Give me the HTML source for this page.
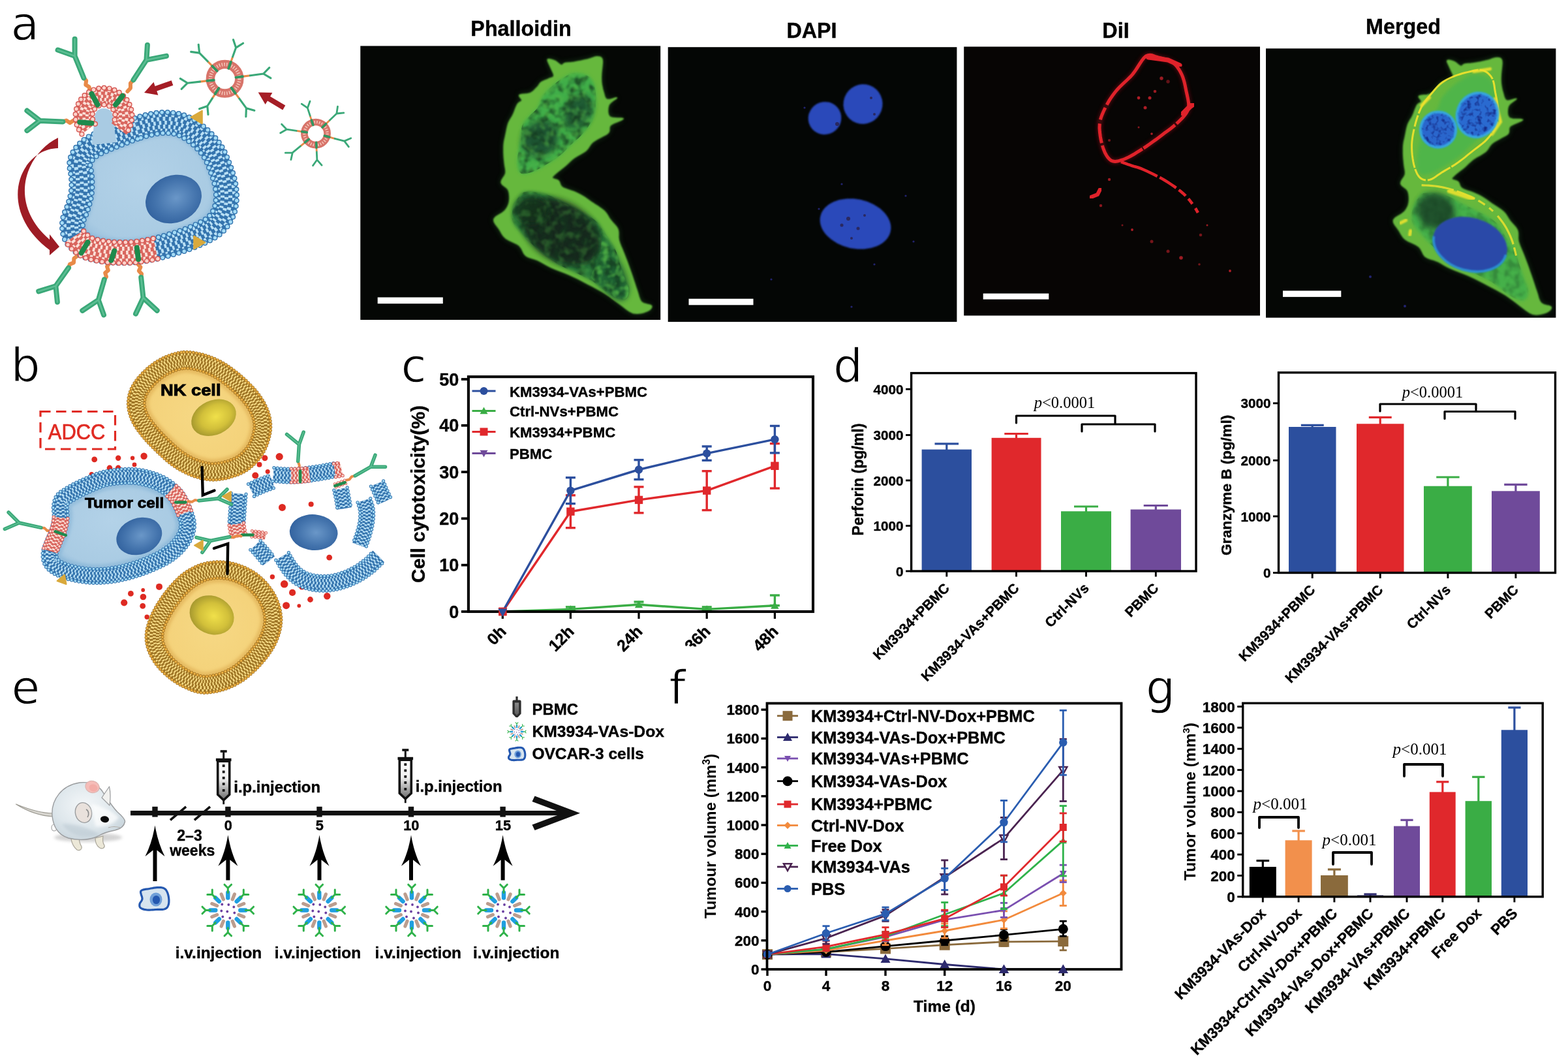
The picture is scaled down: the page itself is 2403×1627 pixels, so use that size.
<!DOCTYPE html>
<html lang="en"><head><meta charset="utf-8"><title>Figure</title>
<style>html,body{margin:0;padding:0;background:#fff}body{width:2403px;height:1627px;overflow:hidden}svg{display:block}text{white-space:pre}</style></head>
<body><svg xmlns="http://www.w3.org/2000/svg" width="2403" height="1627" viewBox="0 0 2403 1627">
<defs><clipPath id="clip36"><rect x="0" y="0" width="2403" height="1627"/></clipPath><filter id="b1" x="-10%" y="-10%" width="120%" height="120%"><feGaussianBlur stdDeviation="1.3"/></filter><filter id="b2" x="-20%" y="-20%" width="140%" height="140%"><feGaussianBlur stdDeviation="2.5"/></filter><filter id="b4" x="-30%" y="-30%" width="160%" height="160%"><feGaussianBlur stdDeviation="5"/></filter><filter id="b07" x="-10%" y="-10%" width="120%" height="120%"><feGaussianBlur stdDeviation="0.7"/></filter><filter id="nz" color-interpolation-filters="sRGB" x="0" y="0" width="100%" height="100%"><feTurbulence type="fractalNoise" baseFrequency="0.09" numOctaves="2" seed="7"/><feColorMatrix values="0 0 0 0 0.33  0 0 0 0 0.72  0 0 0 0 0.28  0 3.4 0 0 -1.55"/><feGaussianBlur stdDeviation="0.8"/></filter><filter id="nzd" color-interpolation-filters="sRGB" x="0" y="0" width="100%" height="100%"><feTurbulence type="fractalNoise" baseFrequency="0.085" numOctaves="2" seed="3"/><feColorMatrix values="0 0 0 0 0.08  0 0 0 0 0.22  0 0 0 0 0.12  3.2 0 0 0 -1.35"/><feGaussianBlur stdDeviation="0.8"/></filter><filter id="nzb" color-interpolation-filters="sRGB" x="0" y="0" width="100%" height="100%"><feTurbulence type="fractalNoise" baseFrequency="0.13" numOctaves="2" seed="11"/><feColorMatrix values="0 0 0 0 0.06  0 0 0 0 0.1  0 0 0 0 0.45  0 0 3 0 -1.45"/><feGaussianBlur stdDeviation="0.7"/></filter><clipPath id="cDU"><path d="M879.8 111.9l5.3 0 5.7 .8 5.4 1.5 4.5 1.9 3.4 2.4 2.6 3 2.1 3.5 1.7 3.7 1.3 4.1 .8 4.5 .5 4.7 .2 4.9 .1 5-.2 5.3-.5 5.3-.8 5.3-1.2 5.3-1.5 5.4-1.9 5.2-2.4 5.1-2.9 4.8-3.4 4.6-3.7 4.4-3.9 4.4-4.3 4.4-4.8 4.3-4.7 4.1-4.4 4-3.6 3.7-3.2 3.4-3.3 3.4-3.9 3.4-4.8 3.6-5.3 3.6-5.5 3.5-5.4 3.3-5.3 3.2-5.3 3.1-5.3 2.8-5 2.1-5 1.7-5.1 1.3-4.5 .5-3.6-.7-2.5-2.2-1.5-3.3-1-4.1-.6-4.4-.2-4.7 .3-5.3 .6-5.5 .7-5.4 .9-5.3 1.2-5.5 1.2-5.2 .9-5 .4-4.6 0-4.2 .1-4.1 .9-3.9 1.8-3.7 2.3-3.5 2.8-3.4 2.9-3.4 3.4-3.4 3.8-3.4 3.7-3.4 3.1-3.7 2.1-4 1.4-4.3 1.4-4.3 2.1-4.2 2.9-4 3.4-4 3.8-3.8 3.8-3.6 4-3.4 4.1-3.3 4.3-3.1 4.4-2.8 4.4-2.7 4.4-2.5 4.6-2.1z"/></clipPath><clipPath id="cDL"><path d="M807.1 293.8l6.4 0 7.9 .8 8.5 1.4 7.9 2 7.2 2.8 7 3.5 6.9 3.9 6.9 3.7 7.2 3.5 7.2 3.5 7.1 3.5 6.5 3.5 5.9 3.3 5.4 3.3 5 3.4 4.6 4 4 4.8 3.4 5.3 3.3 5.5 3.3 5.4 3.7 5.2 3.7 5.2 3.6 5.3 3 5.2 2.2 5.2 1.7 5.3 1.5 5.2 1.6 5.3 1.8 5.3 1.7 5.2 1.8 5.3 1.7 5.2 2.1 5.4 2.3 5.5 1.8 5.3 .8 4.7-.4 4.5-1.3 4.2-2.2 3.4-3.1 1.9-4.1 .1-5.1-1.4-5.7-2.5-6.1-3.2-6.5-4.4-7.1-5.6-7.2-5.8-7.2-5.1-7-4-6.9-3.4-7-3.3-7-3.3-7-3.3-7-3.3-7-3.4-7-4-7.1-4.8-7.3-5.3-7-5.5-6.5-5.4-5.8-5.2-5.4-5.3-5-5.2-4.8-5.2-4.9-5.2-4.8-5.3-4.2-5.2-2.9-5.3-1.4-5.3-.3-5.4 .6-5.3 1.1-5 1.7-5 2.5-4.9 2.8-4.5 2.8-3.7 2.2-2.8 2.1-2.1 2.7-1.4z"/></clipPath><clipPath id="cNU"><ellipse cx="825.5" cy="197" rx="27" ry="27"/><ellipse cx="885.5" cy="174.5" rx="31" ry="34" transform="rotate(20 885.5 174.5)"/></clipPath><clipPath id="cTail"><path d="M925 345L960 400L975 460L940 458L905 425L920 385Z"/></clipPath><clipPath id="cCell"><path d="M839.2 91l1.8-.5 2.9 .4 3.4 1 3.1 1.2 2.6 1.6 2.6 2.2 2.5 2 2.1 1.1 1.5-.2 1-1 1.2-1.2 1.9-1 2.7-.4 3.3-.3 3.8-.2 4.2-.5 4.9-.9 5.5-1 5.6-1.2 4.9-1.1 4.1-1.2 3.7-1.4 3.3-1.1 2.9-.5 2.7 .1 2.5 .4 1.9 1.3 1.3 2.4 .3 4.2-.5 5.6-.7 6-.5 5.1-.2 4-.1 3.4 .1 3.3 .2 3.3 .4 3.5 .7 3.6 .7 3.5 1 3.4 1 3.6 1 3.8 1.4 3.2 2.2 2 3.8 .1 5-1.4 4.5-1.4 2.1-.1-1.5 1.7-3.9 2.6-4.4 3.3-2.8 3.6-1.1 4.4-.3 5.2 .7 4.9 2.1 3.6 4.8 1.6 7 .3 6.3 .1 2.9 .8-2.4 1.9-5.9 2.5-6.6 2.7-4.7 2.7-1.7 2.8-.2 3 0 2.9-.9 2.5-2.1 2-2.8 1.7-3.1 1.6-3.2 1.7-3.4 1.9-3.7 2-3.6 2.1-3.3 2.4-2.5 2.9-2.1 3.2-2.2 3.4-2.9 3.1-4.1 2.8-4.7 2.8-4.9 2.7-4.5 2.8-3.8 3.1-3.5 3.2-3.3 3.2-3.4 3.1-3.7 3-3.8 2.9-3.6 2.8-2.9 2.5-2.4 2.1-1.9 1.8-1.2 1.6-.1 1.5 1.5 1.1 2.7 .8 3.1 .9 2.5 1.4 1.4 2.1 .9 2.7 1.1 2.7 2.2 2.4 3.8 2 4.8 1.7 5 1.6 4.6 1.7 3.8 1.7 3.5 1.6 3.3 1.8 3.4 1.9 3.4 2.2 3.3 2.3 3.4 2.5 3.8 2.7 4.4 2.9 5 3.1 4.7 3.3 4.1 3.3 3 3.4 2.3 3.5 2.1 3.6 2.4 3.5 2.9 3.4 3.2 3.4 3 3.5 2.1 3.7 .9 3.9 .1 4.2-.1 4.3 .5 4.3 1.4 4.4 1.7 4.6 2 4.6 1.9 4.6 1.8 4.5 1.7 4.5 1.8 4.6 1.7 4.6 1.7 4.8 1.7 4.8 1.8 5 1.7 5 1.7 5.2 1.8 5.3 1.7 5.3 1.8 5.1 1.6 5 1.4 5.1 1.7 4.5 2.3 3.6 3.8 2.2 4.8 1.2 4.3 .9 2.5 1.3 .2 2-1.4 2.4-2.5 2.2-3.3 1.8-4.3 1.5-5.3 1.3-5.8 .6-5.6-.6-5.2-2.3-5.2-3.6-5.3-4.1-5.2-4-5.1-3.8-5-3.8-5.2-3.9-5.7-3.9-6.5-3.9-7.1-3.8-7.2-3.9-7.2-3.7-7-3.7-6.9-3.6-7-3.4-7-3.3-7.2-3-7.2-2.8-7.1-2.7-6.5-2.7-5.8-2.9-5.3-3-4.9-2.8-4.9-2.5-4.9-1.8-4.9-1.4-4.5-1.6-3.9-2.2-2.8-3.4-1.9-4-2.1-4.2-3-3.8-4.7-3-5.8-2.7-5.7-2.6-4.7-2.9-3.3-3.2-2.4-3.5-2-3.6-2.1-3.6-2.8-3.8-3.1-4-2.2-3.9-.3-3.7 2.6-3.3 4.8-3.1 5.2-3 4.1-3.2 2.6-3.3 2-3.4 1.5-3.5 .9-3.8 .5-4.4-.1-4.8-.6-4.8-1.2-4.1-2.5-3.2-3.6-2.7-3.3-2.5-1.7-2.9 .7-3.3 2.1-3.5 2.5-3.6 1.6-3.6 .2-3.5-.4-3.5-.7-3.5-.5-3.5-.4-3.4-.3-3.4-.4-3.5-.2-3.7-.2-4 0-4.3 0-4.4 .2-4 .5-3.6 .6-3.3 .8-3.4 .8-3.7 .9-4.4 .9-4.8 1.1-4.7 1.3-4.3 1.6-3.4 1.7-3 1.9-2.9 1.8-3.3 1.8-4.1 1.7-4.7 1.8-4.4 1.7-3.5 2-2.1 2.2-1.2 1.8-1 1-1.3-.8-2-1.9-2.4-1.7-2.2 .2-1.8 2.9-.9 4.5-.4 5.1-.4 4.3-1.1 3.3-2 3-2.6 2.6-2.8 2.3-2.4 1.6-2 1.1-1.8 1.1-1.6 1.8-1.6 2.8-1.5 3.4-1.5 3.4-1.3 2.9-1.3 2.4-.9 2.2-.7 1.7-.9 .7-1.7-.5-2.9-1.6-3.6-1.9-3.9-1.6-3.5-1.5-3.3-1.6-3.3-1.2-2.8z"/></clipPath><radialGradient id="gnuc" cx="0.5" cy="0.5" r="0.5"><stop offset="0" stop-color="#2a55d8"/><stop offset="0.8" stop-color="#2a52cc"/><stop offset="1" stop-color="#1c3a9a"/></radialGradient><radialGradient id="gcell" cx="0.45" cy="0.45" r="0.6"><stop offset="0" stop-color="#b3d2e8"/><stop offset="0.75" stop-color="#a9cbe3"/><stop offset="1" stop-color="#8fb9d9"/></radialGradient><radialGradient id="gnucl" cx="0.55" cy="0.5" r="0.6"><stop offset="0" stop-color="#6a97c8"/><stop offset="0.6" stop-color="#4474ad"/><stop offset="1" stop-color="#2f5f9c"/></radialGradient><radialGradient id="gnk" cx="0.5" cy="0.5" r="0.55"><stop offset="0" stop-color="#f6d884"/><stop offset="0.8" stop-color="#f4d27a"/><stop offset="1" stop-color="#e6b95a"/></radialGradient><radialGradient id="gnkn" cx="0.55" cy="0.5" r="0.6"><stop offset="0" stop-color="#f0e04a"/><stop offset="0.55" stop-color="#d2c03a"/><stop offset="1" stop-color="#9c8f2c"/></radialGradient><linearGradient id="gsyr" x1="0" y1="0" x2="0" y2="1"><stop offset="0" stop-color="#fff"/><stop offset="0.45" stop-color="#f0f0f0"/><stop offset="1" stop-color="#6a6a6a"/></linearGradient><radialGradient id="gmouse" cx="0.45" cy="0.4" r="0.7"><stop offset="0" stop-color="#f4f7f9"/><stop offset="0.6" stop-color="#dde6eb"/><stop offset="1" stop-color="#c3d0d8"/></radialGradient><linearGradient id="gsyr2" x1="0" y1="0" x2="0" y2="1"><stop offset="0" stop-color="#8a8a8a"/><stop offset="1" stop-color="#5a5a5a"/></linearGradient><filter id="ib" x="-5%" y="-5%" width="110%" height="110%"><feGaussianBlur stdDeviation="0.6"/></filter><filter id="ib2" x="-20%" y="-20%" width="140%" height="140%"><feGaussianBlur stdDeviation="2.2"/></filter></defs>
<rect width="2403" height="1627" fill="#fff"/>
<path d="M770.3 937L874.4 933.4 979 926.3 1083.2 933.4 1187.4 927.7" fill="none" stroke="#3aad45" stroke-width="3.4" stroke-linejoin="round"/>
<line x1="874.4" y1="929.9" x2="874.4" y2="933.4" stroke="#3aad45" stroke-width="3.4" /><line x1="866.9" y1="929.9" x2="881.9" y2="929.9" stroke="#3aad45" stroke-width="3.4" /><line x1="866.9" y1="933.4" x2="881.9" y2="933.4" stroke="#3aad45" stroke-width="3.4" />
<line x1="979" y1="922" x2="979" y2="926.3" stroke="#3aad45" stroke-width="3.4" /><line x1="971.5" y1="922" x2="986.5" y2="922" stroke="#3aad45" stroke-width="3.4" /><line x1="971.5" y1="926.3" x2="986.5" y2="926.3" stroke="#3aad45" stroke-width="3.4" />
<line x1="1083.2" y1="929.9" x2="1083.2" y2="933.4" stroke="#3aad45" stroke-width="3.4" /><line x1="1075.7" y1="929.9" x2="1090.7" y2="929.9" stroke="#3aad45" stroke-width="3.4" /><line x1="1075.7" y1="933.4" x2="1090.7" y2="933.4" stroke="#3aad45" stroke-width="3.4" />
<line x1="1187.4" y1="912" x2="1187.4" y2="927.7" stroke="#3aad45" stroke-width="3.4" /><line x1="1179.9" y1="912" x2="1194.9" y2="912" stroke="#3aad45" stroke-width="3.4" /><line x1="1179.9" y1="927.7" x2="1194.9" y2="927.7" stroke="#3aad45" stroke-width="3.4" />
<path d="M874.4 927.2L880.6 938.4L868.2 938.4Z" fill="#3aad45" />
<path d="M979 920.1L985.2 931.3L972.8 931.3Z" fill="#3aad45" />
<path d="M1083.2 927.2L1089.4 938.4L1077 938.4Z" fill="#3aad45" />
<path d="M1187.4 921.5L1193.6 932.7L1181.2 932.7Z" fill="#3aad45" />
<path d="M770.3 937L874.4 783.7 979 765.9 1083.2 751.6 1187.4 713.8" fill="none" stroke="#e0282c" stroke-width="3.4" stroke-linejoin="round"/>
<line x1="874.4" y1="758.8" x2="874.4" y2="808.7" stroke="#e0282c" stroke-width="3.4" /><line x1="866.9" y1="758.8" x2="881.9" y2="758.8" stroke="#e0282c" stroke-width="3.4" /><line x1="866.9" y1="808.7" x2="881.9" y2="808.7" stroke="#e0282c" stroke-width="3.4" />
<line x1="979" y1="745.9" x2="979" y2="785.8" stroke="#e0282c" stroke-width="3.4" /><line x1="971.5" y1="745.9" x2="986.5" y2="745.9" stroke="#e0282c" stroke-width="3.4" /><line x1="971.5" y1="785.8" x2="986.5" y2="785.8" stroke="#e0282c" stroke-width="3.4" />
<line x1="1083.2" y1="721.7" x2="1083.2" y2="781.6" stroke="#e0282c" stroke-width="3.4" /><line x1="1075.7" y1="721.7" x2="1090.7" y2="721.7" stroke="#e0282c" stroke-width="3.4" /><line x1="1075.7" y1="781.6" x2="1090.7" y2="781.6" stroke="#e0282c" stroke-width="3.4" />
<line x1="1187.4" y1="679.6" x2="1187.4" y2="748.1" stroke="#e0282c" stroke-width="3.4" /><line x1="1179.9" y1="679.6" x2="1194.9" y2="679.6" stroke="#e0282c" stroke-width="3.4" /><line x1="1179.9" y1="748.1" x2="1194.9" y2="748.1" stroke="#e0282c" stroke-width="3.4" />
<rect x="764.1" y="930.8" width="12.4" height="12.4" fill="#e0282c" />
<rect x="868.2" y="777.5" width="12.4" height="12.4" fill="#e0282c" />
<rect x="972.8" y="759.7" width="12.4" height="12.4" fill="#e0282c" />
<rect x="1077" y="745.4" width="12.4" height="12.4" fill="#e0282c" />
<rect x="1181.2" y="707.6" width="12.4" height="12.4" fill="#e0282c" />
<path d="M770.3 937L874.4 751.6 979 719.5 1083.2 694.6 1187.4 673.2" fill="none" stroke="#2c4f9e" stroke-width="3.4" stroke-linejoin="round"/>
<line x1="874.4" y1="731.7" x2="874.4" y2="771.6" stroke="#2c4f9e" stroke-width="3.4" /><line x1="866.9" y1="731.7" x2="881.9" y2="731.7" stroke="#2c4f9e" stroke-width="3.4" /><line x1="866.9" y1="771.6" x2="881.9" y2="771.6" stroke="#2c4f9e" stroke-width="3.4" />
<line x1="979" y1="704.6" x2="979" y2="734.5" stroke="#2c4f9e" stroke-width="3.4" /><line x1="971.5" y1="704.6" x2="986.5" y2="704.6" stroke="#2c4f9e" stroke-width="3.4" /><line x1="971.5" y1="734.5" x2="986.5" y2="734.5" stroke="#2c4f9e" stroke-width="3.4" />
<line x1="1083.2" y1="683.9" x2="1083.2" y2="705.3" stroke="#2c4f9e" stroke-width="3.4" /><line x1="1075.7" y1="683.9" x2="1090.7" y2="683.9" stroke="#2c4f9e" stroke-width="3.4" /><line x1="1075.7" y1="705.3" x2="1090.7" y2="705.3" stroke="#2c4f9e" stroke-width="3.4" />
<line x1="1187.4" y1="652.5" x2="1187.4" y2="693.9" stroke="#2c4f9e" stroke-width="3.4" /><line x1="1179.9" y1="652.5" x2="1194.9" y2="652.5" stroke="#2c4f9e" stroke-width="3.4" /><line x1="1179.9" y1="693.9" x2="1194.9" y2="693.9" stroke="#2c4f9e" stroke-width="3.4" />
<circle cx="770.3" cy="937" r="6.2" fill="#2c4f9e" />
<circle cx="874.4" cy="751.6" r="6.2" fill="#2c4f9e" />
<circle cx="979" cy="719.5" r="6.2" fill="#2c4f9e" />
<circle cx="1083.2" cy="694.6" r="6.2" fill="#2c4f9e" />
<circle cx="1187.4" cy="673.2" r="6.2" fill="#2c4f9e" />
<rect x="717.9" y="577.2" width="528.1" height="359.8" fill="none" stroke="#000" stroke-width="4.1"/>
<line x1="706.9" y1="937" x2="717.9" y2="937" stroke="#000" stroke-width="3.8" />
<text transform="translate(703.4,946.6) scale(.5)" font-family="Liberation Sans, sans-serif" font-size="54" font-weight="bold" text-anchor="end" stroke="#000" stroke-width="0.8">0</text>
<line x1="706.9" y1="865.7" x2="717.9" y2="865.7" stroke="#000" stroke-width="3.8" />
<text transform="translate(703.4,875.3) scale(.5)" font-family="Liberation Sans, sans-serif" font-size="54" font-weight="bold" text-anchor="end" stroke="#000" stroke-width="0.8">10</text>
<line x1="706.9" y1="794.4" x2="717.9" y2="794.4" stroke="#000" stroke-width="3.8" />
<text transform="translate(703.4,804) scale(.5)" font-family="Liberation Sans, sans-serif" font-size="54" font-weight="bold" text-anchor="end" stroke="#000" stroke-width="0.8">20</text>
<line x1="706.9" y1="723.1" x2="717.9" y2="723.1" stroke="#000" stroke-width="3.8" />
<text transform="translate(703.4,732.7) scale(.5)" font-family="Liberation Sans, sans-serif" font-size="54" font-weight="bold" text-anchor="end" stroke="#000" stroke-width="0.8">30</text>
<line x1="706.9" y1="651.8" x2="717.9" y2="651.8" stroke="#000" stroke-width="3.8" />
<text transform="translate(703.4,661.4) scale(.5)" font-family="Liberation Sans, sans-serif" font-size="54" font-weight="bold" text-anchor="end" stroke="#000" stroke-width="0.8">40</text>
<line x1="706.9" y1="581" x2="717.9" y2="581" stroke="#000" stroke-width="3.8" />
<text transform="translate(703.4,590.6) scale(.5)" font-family="Liberation Sans, sans-serif" font-size="54" font-weight="bold" text-anchor="end" stroke="#000" stroke-width="0.8">50</text>
<line x1="770.3" y1="937" x2="770.3" y2="948" stroke="#000" stroke-width="3.2" />
<line x1="874.4" y1="937" x2="874.4" y2="948" stroke="#000" stroke-width="3.2" />
<line x1="979" y1="937" x2="979" y2="948" stroke="#000" stroke-width="3.2" />
<line x1="1083.2" y1="937" x2="1083.2" y2="948" stroke="#000" stroke-width="3.2" />
<line x1="1187.4" y1="937" x2="1187.4" y2="948" stroke="#000" stroke-width="3.2" />
<rect x="764.1" y="930.8" width="12.4" height="12.4" fill="#e0282c" />
<path d="M770.3 945L777.3 932.4L763.3 932.4Z" fill="#2c4f9e" />
<text transform="translate(777.3,969) rotate(-45) scale(.5)" font-family="Liberation Sans, sans-serif" font-size="50" font-weight="bold" text-anchor="end" stroke="#000" stroke-width="0.8">0h</text>
<text transform="translate(881.4,969) rotate(-45) scale(.5)" font-family="Liberation Sans, sans-serif" font-size="50" font-weight="bold" text-anchor="end" stroke="#000" stroke-width="0.8">12h</text>
<text transform="translate(986,969) rotate(-45) scale(.5)" font-family="Liberation Sans, sans-serif" font-size="50" font-weight="bold" text-anchor="end" stroke="#000" stroke-width="0.8">24h</text>
<g clip-path="url(#clip36)"><text transform="translate(1090.2,969) rotate(-45) scale(.5)" font-family="Liberation Sans, sans-serif" font-size="50" font-weight="bold" text-anchor="end" stroke="#000" stroke-width="0.8">36h</text></g>
<text transform="translate(1194.4,969) rotate(-45) scale(.5)" font-family="Liberation Sans, sans-serif" font-size="50" font-weight="bold" text-anchor="end" stroke="#000" stroke-width="0.8">48h</text>
<rect x="1040" y="990.5" width="40" height="24" fill="#fff" />
<line x1="723.5" y1="599" x2="759.5" y2="599" stroke="#2c4f9e" stroke-width="3.2" />
<circle cx="741.5" cy="599" r="6" fill="#2c4f9e" />
<text transform="translate(781,607.5) scale(.5)" font-family="Liberation Sans, sans-serif" font-size="44.4" font-weight="bold" stroke="#000" stroke-width="0.8">KM3934-VAs+PBMC</text>
<line x1="723.5" y1="629.5" x2="759.5" y2="629.5" stroke="#3aad45" stroke-width="3.2" />
<path d="M741.5 623.5L747.5 634.3L735.5 634.3Z" fill="#3aad45" />
<text transform="translate(781,638) scale(.5)" font-family="Liberation Sans, sans-serif" font-size="44.4" font-weight="bold" stroke="#000" stroke-width="0.8">Ctrl-NVs+PBMC</text>
<line x1="723.5" y1="661.5" x2="759.5" y2="661.5" stroke="#e0282c" stroke-width="3.2" />
<rect x="735.5" y="655.5" width="12" height="12" fill="#e0282c" />
<text transform="translate(781,670) scale(.5)" font-family="Liberation Sans, sans-serif" font-size="44.4" font-weight="bold" stroke="#000" stroke-width="0.8">KM3934+PBMC</text>
<line x1="723.5" y1="694.5" x2="759.5" y2="694.5" stroke="#6f4a9a" stroke-width="3.2" />
<path d="M741.5 700.5L747.5 689.7L735.5 689.7Z" fill="#6f4a9a" />
<text transform="translate(781,703) scale(.5)" font-family="Liberation Sans, sans-serif" font-size="44.4" font-weight="bold" stroke="#000" stroke-width="0.8">PBMC</text>
<text transform="translate(651,757) rotate(-90) scale(.5)" font-family="Liberation Sans, sans-serif" font-size="59" font-weight="bold" text-anchor="middle" stroke="#000" stroke-width="0.8">Cell cytotoxicity(%)</text>
<line x1="1450.8" y1="679.8" x2="1450.8" y2="690.6" stroke="#2c4f9e" stroke-width="3.2" />
<line x1="1432.5" y1="679.8" x2="1469.1" y2="679.8" stroke="#2c4f9e" stroke-width="3.2" />
<rect x="1412.6" y="688.6" width="76.4" height="186.4" fill="#2c4f9e" />
<line x1="1557.5" y1="664.5" x2="1557.5" y2="672.8" stroke="#e0282c" stroke-width="3.2" />
<line x1="1539.3" y1="664.5" x2="1575.8" y2="664.5" stroke="#e0282c" stroke-width="3.2" />
<rect x="1519.6" y="670.8" width="75.9" height="204.2" fill="#e0282c" />
<line x1="1664.5" y1="776" x2="1664.5" y2="785.3" stroke="#3aad45" stroke-width="3.2" />
<line x1="1646" y1="776" x2="1683" y2="776" stroke="#3aad45" stroke-width="3.2" />
<rect x="1626" y="783.3" width="77" height="91.7" fill="#3aad45" />
<line x1="1771.3" y1="774.5" x2="1771.3" y2="782.5" stroke="#6f4a9a" stroke-width="3.2" />
<line x1="1752.7" y1="774.5" x2="1789.9" y2="774.5" stroke="#6f4a9a" stroke-width="3.2" />
<rect x="1732.6" y="780.5" width="77.4" height="94.5" fill="#6f4a9a" />
<rect x="1396.6" y="571.6" width="436.4" height="303.4" fill="none" stroke="#000" stroke-width="3.4"/>
<line x1="1388.1" y1="596.2" x2="1396.6" y2="596.2" stroke="#000" stroke-width="2.9" />
<text transform="translate(1384.6,603.7) scale(.5)" font-family="Liberation Sans, sans-serif" font-size="41.4" font-weight="bold" text-anchor="end" stroke="#000" stroke-width="0.8">4000</text>
<line x1="1388.1" y1="666.5" x2="1396.6" y2="666.5" stroke="#000" stroke-width="2.9" />
<text transform="translate(1384.6,674) scale(.5)" font-family="Liberation Sans, sans-serif" font-size="41.4" font-weight="bold" text-anchor="end" stroke="#000" stroke-width="0.8">3000</text>
<line x1="1388.1" y1="736" x2="1396.6" y2="736" stroke="#000" stroke-width="2.9" />
<text transform="translate(1384.6,743.5) scale(.5)" font-family="Liberation Sans, sans-serif" font-size="41.4" font-weight="bold" text-anchor="end" stroke="#000" stroke-width="0.8">2000</text>
<line x1="1388.1" y1="805.5" x2="1396.6" y2="805.5" stroke="#000" stroke-width="2.9" />
<text transform="translate(1384.6,813) scale(.5)" font-family="Liberation Sans, sans-serif" font-size="41.4" font-weight="bold" text-anchor="end" stroke="#000" stroke-width="0.8">1000</text>
<line x1="1388.1" y1="875" x2="1396.6" y2="875" stroke="#000" stroke-width="2.9" />
<text transform="translate(1384.6,882.5) scale(.5)" font-family="Liberation Sans, sans-serif" font-size="41.4" font-weight="bold" text-anchor="end" stroke="#000" stroke-width="0.8">0</text>
<line x1="1450.8" y1="875" x2="1450.8" y2="883.5" stroke="#000" stroke-width="2.9" />
<text transform="translate(1456.3,902.5) rotate(-45) scale(.5)" font-family="Liberation Sans, sans-serif" font-size="42.4" font-weight="bold" text-anchor="end" stroke="#000" stroke-width="0.8">KM3934+PBMC</text>
<line x1="1557.5" y1="875" x2="1557.5" y2="883.5" stroke="#000" stroke-width="2.9" />
<text transform="translate(1563,902.5) rotate(-45) scale(.5)" font-family="Liberation Sans, sans-serif" font-size="42.4" font-weight="bold" text-anchor="end" stroke="#000" stroke-width="0.8">KM3934-VAs+PBMC</text>
<line x1="1664.5" y1="875" x2="1664.5" y2="883.5" stroke="#000" stroke-width="2.9" />
<text transform="translate(1670,902.5) rotate(-45) scale(.5)" font-family="Liberation Sans, sans-serif" font-size="42.4" font-weight="bold" text-anchor="end" stroke="#000" stroke-width="0.8">Ctrl-NVs</text>
<line x1="1771.3" y1="875" x2="1771.3" y2="883.5" stroke="#000" stroke-width="2.9" />
<text transform="translate(1776.8,902.5) rotate(-45) scale(.5)" font-family="Liberation Sans, sans-serif" font-size="42.4" font-weight="bold" text-anchor="end" stroke="#000" stroke-width="0.8">PBMC</text>
<text transform="translate(1322.5,734.5) rotate(-90) scale(.5)" font-family="Liberation Sans, sans-serif" font-size="46.2" font-weight="bold" text-anchor="middle" stroke="#000" stroke-width="0.8">Perforin (pg/ml)</text>
<path d="M1557.5 648V637H1709V650M1658 661V650H1770V661" fill="none" stroke="#000" stroke-width="3.2" stroke-linejoin="round" stroke-linecap="round"/>
<text transform="translate(1631.5,624.5) scale(.5)" font-family="Liberation Serif, serif" font-size="49" text-anchor="middle"><tspan font-style="italic">p</tspan>&lt;0.0001</text>
<line x1="2011.2" y1="651.4" x2="2011.2" y2="656" stroke="#2c4f9e" stroke-width="3.2" />
<line x1="1993.8" y1="651.4" x2="2028.7" y2="651.4" stroke="#2c4f9e" stroke-width="3.2" />
<rect x="1975" y="654" width="72.5" height="223.5" fill="#2c4f9e" />
<line x1="2115.2" y1="639.4" x2="2115.2" y2="651.3" stroke="#e0282c" stroke-width="3.2" />
<line x1="2097.8" y1="639.4" x2="2132.7" y2="639.4" stroke="#e0282c" stroke-width="3.2" />
<rect x="2079" y="649.3" width="72.5" height="228.2" fill="#e0282c" />
<line x1="2218.9" y1="731" x2="2218.9" y2="746.7" stroke="#3aad45" stroke-width="3.2" />
<line x1="2201.2" y1="731" x2="2236.6" y2="731" stroke="#3aad45" stroke-width="3.2" />
<rect x="2182" y="744.7" width="73.8" height="132.8" fill="#3aad45" />
<line x1="2322.9" y1="742.3" x2="2322.9" y2="754.3" stroke="#6f4a9a" stroke-width="3.2" />
<line x1="2305.2" y1="742.3" x2="2340.6" y2="742.3" stroke="#6f4a9a" stroke-width="3.2" />
<rect x="2286" y="752.3" width="73.8" height="125.2" fill="#6f4a9a" />
<rect x="1959.5" y="570.8" width="424" height="306.7" fill="none" stroke="#000" stroke-width="3.4"/>
<line x1="1951" y1="617.8" x2="1959.5" y2="617.8" stroke="#000" stroke-width="2.9" />
<text transform="translate(1947.5,625.3) scale(.5)" font-family="Liberation Sans, sans-serif" font-size="41.4" font-weight="bold" text-anchor="end" stroke="#000" stroke-width="0.8">3000</text>
<line x1="1951" y1="705.3" x2="1959.5" y2="705.3" stroke="#000" stroke-width="2.9" />
<text transform="translate(1947.5,712.8) scale(.5)" font-family="Liberation Sans, sans-serif" font-size="41.4" font-weight="bold" text-anchor="end" stroke="#000" stroke-width="0.8">2000</text>
<line x1="1951" y1="791" x2="1959.5" y2="791" stroke="#000" stroke-width="2.9" />
<text transform="translate(1947.5,798.5) scale(.5)" font-family="Liberation Sans, sans-serif" font-size="41.4" font-weight="bold" text-anchor="end" stroke="#000" stroke-width="0.8">1000</text>
<line x1="1951" y1="877.5" x2="1959.5" y2="877.5" stroke="#000" stroke-width="2.9" />
<text transform="translate(1947.5,885) scale(.5)" font-family="Liberation Sans, sans-serif" font-size="41.4" font-weight="bold" text-anchor="end" stroke="#000" stroke-width="0.8">0</text>
<line x1="2011.2" y1="877.5" x2="2011.2" y2="886" stroke="#000" stroke-width="2.9" />
<text transform="translate(2016.8,905) rotate(-45) scale(.5)" font-family="Liberation Sans, sans-serif" font-size="42.4" font-weight="bold" text-anchor="end" stroke="#000" stroke-width="0.8">KM3934+PBMC</text>
<line x1="2115.2" y1="877.5" x2="2115.2" y2="886" stroke="#000" stroke-width="2.9" />
<text transform="translate(2120.8,905) rotate(-45) scale(.5)" font-family="Liberation Sans, sans-serif" font-size="42.4" font-weight="bold" text-anchor="end" stroke="#000" stroke-width="0.8">KM3934-VAs+PBMC</text>
<line x1="2218.9" y1="877.5" x2="2218.9" y2="886" stroke="#000" stroke-width="2.9" />
<text transform="translate(2224.4,905) rotate(-45) scale(.5)" font-family="Liberation Sans, sans-serif" font-size="42.4" font-weight="bold" text-anchor="end" stroke="#000" stroke-width="0.8">Ctrl-NVs</text>
<line x1="2322.9" y1="877.5" x2="2322.9" y2="886" stroke="#000" stroke-width="2.9" />
<text transform="translate(2328.4,905) rotate(-45) scale(.5)" font-family="Liberation Sans, sans-serif" font-size="42.4" font-weight="bold" text-anchor="end" stroke="#000" stroke-width="0.8">PBMC</text>
<text transform="translate(1887.2,743.3) rotate(-90) scale(.5)" font-family="Liberation Sans, sans-serif" font-size="45.6" font-weight="bold" text-anchor="middle" stroke="#000" stroke-width="0.8">Granzyme B (pg/ml)</text>
<path d="M2115 630V619H2262V630.5M2214 641.5V630.5H2322V641.5" fill="none" stroke="#000" stroke-width="3.2" stroke-linejoin="round" stroke-linecap="round"/>
<text transform="translate(2195.5,609) scale(.5)" font-family="Liberation Serif, serif" font-size="49" text-anchor="middle"><tspan font-style="italic">p</tspan>&lt;0.0001</text>
<path d="M1176 1462.2l90-3.7 91-5.1 90.7-5.7 90.8-4.9 90.8-.7" fill="none" stroke="#8a6a3c" stroke-width="2.8" stroke-linejoin="round"/>
<line x1="1447.7" y1="1443.2" x2="1447.7" y2="1452.1" stroke="#8a6a3c" stroke-width="2.8" /><line x1="1442.2" y1="1443.2" x2="1453.2" y2="1443.2" stroke="#8a6a3c" stroke-width="2.8" /><line x1="1442.2" y1="1452.1" x2="1453.2" y2="1452.1" stroke="#8a6a3c" stroke-width="2.8" />
<line x1="1538.5" y1="1436.2" x2="1538.5" y2="1449.4" stroke="#8a6a3c" stroke-width="2.8" /><line x1="1533" y1="1436.2" x2="1544" y2="1436.2" stroke="#8a6a3c" stroke-width="2.8" /><line x1="1533" y1="1449.4" x2="1544" y2="1449.4" stroke="#8a6a3c" stroke-width="2.8" />
<line x1="1629.3" y1="1428" x2="1629.3" y2="1455.8" stroke="#8a6a3c" stroke-width="2.8" /><line x1="1623.8" y1="1428" x2="1634.8" y2="1428" stroke="#8a6a3c" stroke-width="2.8" /><line x1="1623.8" y1="1455.8" x2="1634.8" y2="1455.8" stroke="#8a6a3c" stroke-width="2.8" />
<rect x="1168" y="1454.2" width="16" height="16" fill="#8a6a3c" />
<rect x="1258" y="1450.5" width="16" height="16" fill="#8a6a3c" />
<rect x="1349" y="1445.4" width="16" height="16" fill="#8a6a3c" />
<rect x="1439.7" y="1439.7" width="16" height="16" fill="#8a6a3c" />
<rect x="1530.5" y="1434.8" width="16" height="16" fill="#8a6a3c" />
<rect x="1621.3" y="1434.1" width="16" height="16" fill="#8a6a3c" />
<path d="M1176 1462.2l90-.6 91 7.3 90.7 8.6 90.8 7.5 90.8 0" fill="none" stroke="#2d2a6e" stroke-width="2.8" stroke-linejoin="round"/>
<path d="M1176 1454.7L1183.5 1468.2L1168.5 1468.2Z" fill="#2d2a6e" />
<path d="M1266 1454.1L1273.5 1467.6L1258.5 1467.6Z" fill="#2d2a6e" />
<path d="M1357 1461.4L1364.5 1474.9L1349.5 1474.9Z" fill="#2d2a6e" />
<path d="M1447.7 1470L1455.2 1483.5L1440.2 1483.5Z" fill="#2d2a6e" />
<path d="M1538.5 1477.5L1546 1491L1531 1491Z" fill="#2d2a6e" />
<path d="M1629.3 1477.5L1636.8 1491L1621.8 1491Z" fill="#2d2a6e" />
<path d="M1176 1462.2l90-3.7 91-8.9 90.7-8.6 90.8-8.6 90.8-9.1" fill="none" stroke="#000" stroke-width="2.8" stroke-linejoin="round"/>
<line x1="1357" y1="1445.2" x2="1357" y2="1454.1" stroke="#000" stroke-width="2.8" /><line x1="1351.5" y1="1445.2" x2="1362.5" y2="1445.2" stroke="#000" stroke-width="2.8" /><line x1="1351.5" y1="1454.1" x2="1362.5" y2="1454.1" stroke="#000" stroke-width="2.8" />
<line x1="1447.7" y1="1434.4" x2="1447.7" y2="1447.7" stroke="#000" stroke-width="2.8" /><line x1="1442.2" y1="1434.4" x2="1453.2" y2="1434.4" stroke="#000" stroke-width="2.8" /><line x1="1442.2" y1="1447.7" x2="1453.2" y2="1447.7" stroke="#000" stroke-width="2.8" />
<line x1="1538.5" y1="1423.6" x2="1538.5" y2="1441.2" stroke="#000" stroke-width="2.8" /><line x1="1533" y1="1423.6" x2="1544" y2="1423.6" stroke="#000" stroke-width="2.8" /><line x1="1533" y1="1441.2" x2="1544" y2="1441.2" stroke="#000" stroke-width="2.8" />
<line x1="1629.3" y1="1411.2" x2="1629.3" y2="1434.2" stroke="#000" stroke-width="2.8" /><line x1="1623.8" y1="1411.2" x2="1634.8" y2="1411.2" stroke="#000" stroke-width="2.8" /><line x1="1623.8" y1="1434.2" x2="1634.8" y2="1434.2" stroke="#000" stroke-width="2.8" />
<circle cx="1176" cy="1462.2" r="7.5" fill="#000" />
<circle cx="1266" cy="1458.5" r="7.5" fill="#000" />
<circle cx="1357" cy="1449.6" r="7.5" fill="#000" />
<circle cx="1447.7" cy="1441" r="7.5" fill="#000" />
<circle cx="1538.5" cy="1432.4" r="7.5" fill="#000" />
<circle cx="1629.3" cy="1423.3" r="7.5" fill="#000" />
<path d="M1176 1462.2l90-5.9 91-15.3 90.7-15 90.8-16.8 90.8-40.9" fill="none" stroke="#f28a3c" stroke-width="2.8" stroke-linejoin="round"/>
<line x1="1357" y1="1434.4" x2="1357" y2="1447.7" stroke="#f28a3c" stroke-width="2.8" /><line x1="1351.5" y1="1434.4" x2="1362.5" y2="1434.4" stroke="#f28a3c" stroke-width="2.8" /><line x1="1351.5" y1="1447.7" x2="1362.5" y2="1447.7" stroke="#f28a3c" stroke-width="2.8" />
<line x1="1447.7" y1="1414.9" x2="1447.7" y2="1437" stroke="#f28a3c" stroke-width="2.8" /><line x1="1442.2" y1="1414.9" x2="1453.2" y2="1414.9" stroke="#f28a3c" stroke-width="2.8" /><line x1="1442.2" y1="1437" x2="1453.2" y2="1437" stroke="#f28a3c" stroke-width="2.8" />
<line x1="1538.5" y1="1395.9" x2="1538.5" y2="1422.5" stroke="#f28a3c" stroke-width="2.8" /><line x1="1533" y1="1395.9" x2="1544" y2="1395.9" stroke="#f28a3c" stroke-width="2.8" /><line x1="1533" y1="1422.5" x2="1544" y2="1422.5" stroke="#f28a3c" stroke-width="2.8" />
<line x1="1629.3" y1="1348.9" x2="1629.3" y2="1387.5" stroke="#f28a3c" stroke-width="2.8" /><line x1="1623.8" y1="1348.9" x2="1634.8" y2="1348.9" stroke="#f28a3c" stroke-width="2.8" /><line x1="1623.8" y1="1387.5" x2="1634.8" y2="1387.5" stroke="#f28a3c" stroke-width="2.8" />
<path d="M1176 1456.7L1181.5 1462.2L1176 1467.7L1170.5 1462.2Z" fill="#f28a3c" />
<path d="M1266 1450.8L1271.5 1456.3L1266 1461.8L1260.5 1456.3Z" fill="#f28a3c" />
<path d="M1357 1435.5L1362.5 1441L1357 1446.5L1351.5 1441Z" fill="#f28a3c" />
<path d="M1447.7 1420.5L1453.2 1426L1447.7 1431.5L1442.2 1426Z" fill="#f28a3c" />
<path d="M1538.5 1403.7L1544 1409.2L1538.5 1414.7L1533 1409.2Z" fill="#f28a3c" />
<path d="M1629.3 1362.8L1634.8 1368.3L1629.3 1373.8L1623.8 1368.3Z" fill="#f28a3c" />
<path d="M1176 1462.2l90-8.1 91-18.8 90.7-26.1 90.8-14.8 90.8-56.1" fill="none" stroke="#7a4fb0" stroke-width="2.8" stroke-linejoin="round"/>
<line x1="1357" y1="1428.6" x2="1357" y2="1441.9" stroke="#7a4fb0" stroke-width="2.8" /><line x1="1351.5" y1="1428.6" x2="1362.5" y2="1428.6" stroke="#7a4fb0" stroke-width="2.8" /><line x1="1351.5" y1="1441.9" x2="1362.5" y2="1441.9" stroke="#7a4fb0" stroke-width="2.8" />
<line x1="1447.7" y1="1395.9" x2="1447.7" y2="1420.2" stroke="#7a4fb0" stroke-width="2.8" /><line x1="1442.2" y1="1395.9" x2="1453.2" y2="1395.9" stroke="#7a4fb0" stroke-width="2.8" /><line x1="1442.2" y1="1420.2" x2="1453.2" y2="1420.2" stroke="#7a4fb0" stroke-width="2.8" />
<line x1="1538.5" y1="1383.3" x2="1538.5" y2="1405.4" stroke="#7a4fb0" stroke-width="2.8" /><line x1="1533" y1="1383.3" x2="1544" y2="1383.3" stroke="#7a4fb0" stroke-width="2.8" /><line x1="1533" y1="1405.4" x2="1544" y2="1405.4" stroke="#7a4fb0" stroke-width="2.8" />
<line x1="1629.3" y1="1325.2" x2="1629.3" y2="1351.5" stroke="#7a4fb0" stroke-width="2.8" /><line x1="1623.8" y1="1325.2" x2="1634.8" y2="1325.2" stroke="#7a4fb0" stroke-width="2.8" /><line x1="1623.8" y1="1351.5" x2="1634.8" y2="1351.5" stroke="#7a4fb0" stroke-width="2.8" />
<path d="M1176 1467.7L1181.5 1457.8L1170.5 1457.8Z" fill="#7a4fb0" />
<path d="M1266 1459.6L1271.5 1449.7L1260.5 1449.7Z" fill="#7a4fb0" />
<path d="M1357 1440.8L1362.5 1430.9L1351.5 1430.9Z" fill="#7a4fb0" />
<path d="M1447.7 1414.7L1453.2 1404.8L1442.2 1404.8Z" fill="#7a4fb0" />
<path d="M1538.5 1399.9L1544 1390L1533 1390Z" fill="#7a4fb0" />
<path d="M1629.3 1343.8L1634.8 1333.9L1623.8 1333.9Z" fill="#7a4fb0" />
<path d="M1176 1462.2l90-8.1 91-19.9 90.7-33.2 90.8-32.7 90.8-80.4" fill="none" stroke="#2fb24a" stroke-width="2.8" stroke-linejoin="round"/>
<line x1="1357" y1="1427.5" x2="1357" y2="1440.8" stroke="#2fb24a" stroke-width="2.8" /><line x1="1351.5" y1="1427.5" x2="1362.5" y2="1427.5" stroke="#2fb24a" stroke-width="2.8" /><line x1="1351.5" y1="1440.8" x2="1362.5" y2="1440.8" stroke="#2fb24a" stroke-width="2.8" />
<line x1="1447.7" y1="1382.5" x2="1447.7" y2="1418.7" stroke="#2fb24a" stroke-width="2.8" /><line x1="1442.2" y1="1382.5" x2="1453.2" y2="1382.5" stroke="#2fb24a" stroke-width="2.8" /><line x1="1442.2" y1="1418.7" x2="1453.2" y2="1418.7" stroke="#2fb24a" stroke-width="2.8" />
<line x1="1538.5" y1="1341.3" x2="1538.5" y2="1392.6" stroke="#2fb24a" stroke-width="2.8" /><line x1="1533" y1="1341.3" x2="1544" y2="1341.3" stroke="#2fb24a" stroke-width="2.8" /><line x1="1533" y1="1392.6" x2="1544" y2="1392.6" stroke="#2fb24a" stroke-width="2.8" />
<line x1="1629.3" y1="1234.6" x2="1629.3" y2="1342" stroke="#2fb24a" stroke-width="2.8" /><line x1="1623.8" y1="1234.6" x2="1634.8" y2="1234.6" stroke="#2fb24a" stroke-width="2.8" /><line x1="1623.8" y1="1342" x2="1634.8" y2="1342" stroke="#2fb24a" stroke-width="2.8" />
<path d="M1176 1456.7L1181.5 1466.6L1170.5 1466.6Z" fill="#2fb24a" />
<path d="M1266 1448.6L1271.5 1458.5L1260.5 1458.5Z" fill="#2fb24a" />
<path d="M1357 1428.7L1362.5 1438.6L1351.5 1438.6Z" fill="#2fb24a" />
<path d="M1447.7 1395.5L1453.2 1405.4L1442.2 1405.4Z" fill="#2fb24a" />
<path d="M1538.5 1362.8L1544 1372.7L1533 1372.7Z" fill="#2fb24a" />
<path d="M1629.3 1282.4L1634.8 1292.3L1623.8 1292.3Z" fill="#2fb24a" />
<path d="M1176 1462.2l90-11.9 91-18.6 90.7-24.3 90.8-48.6 90.8-91.3" fill="none" stroke="#e0282c" stroke-width="2.8" stroke-linejoin="round"/>
<line x1="1266" y1="1441.5" x2="1266" y2="1456.9" stroke="#e0282c" stroke-width="2.8" /><line x1="1260.5" y1="1441.5" x2="1271.5" y2="1441.5" stroke="#e0282c" stroke-width="2.8" /><line x1="1260.5" y1="1456.9" x2="1271.5" y2="1456.9" stroke="#e0282c" stroke-width="2.8" />
<line x1="1357" y1="1420.7" x2="1357" y2="1440.6" stroke="#e0282c" stroke-width="2.8" /><line x1="1351.5" y1="1420.7" x2="1362.5" y2="1420.7" stroke="#e0282c" stroke-width="2.8" /><line x1="1351.5" y1="1440.6" x2="1362.5" y2="1440.6" stroke="#e0282c" stroke-width="2.8" />
<line x1="1447.7" y1="1394.2" x2="1447.7" y2="1420.7" stroke="#e0282c" stroke-width="2.8" /><line x1="1442.2" y1="1394.2" x2="1453.2" y2="1394.2" stroke="#e0282c" stroke-width="2.8" /><line x1="1442.2" y1="1420.7" x2="1453.2" y2="1420.7" stroke="#e0282c" stroke-width="2.8" />
<line x1="1538.5" y1="1341.1" x2="1538.5" y2="1372.1" stroke="#e0282c" stroke-width="2.8" /><line x1="1533" y1="1341.1" x2="1544" y2="1341.1" stroke="#e0282c" stroke-width="2.8" /><line x1="1533" y1="1372.1" x2="1544" y2="1372.1" stroke="#e0282c" stroke-width="2.8" />
<line x1="1629.3" y1="1245.9" x2="1629.3" y2="1289.2" stroke="#e0282c" stroke-width="2.8" /><line x1="1623.8" y1="1245.9" x2="1634.8" y2="1245.9" stroke="#e0282c" stroke-width="2.8" /><line x1="1623.8" y1="1289.2" x2="1634.8" y2="1289.2" stroke="#e0282c" stroke-width="2.8" />
<rect x="1170.5" y="1456.7" width="11" height="11" fill="#e0282c" />
<rect x="1260.5" y="1444.8" width="11" height="11" fill="#e0282c" />
<rect x="1351.5" y="1426.2" width="11" height="11" fill="#e0282c" />
<rect x="1442.2" y="1401.9" width="11" height="11" fill="#e0282c" />
<rect x="1533" y="1353.3" width="11" height="11" fill="#e0282c" />
<rect x="1623.8" y="1262" width="11" height="11" fill="#e0282c" />
<path d="M1176 1462.2l90-24.9 91-34.7 90.7-58.6 90.8-59.7 90.8-104.5" fill="none" stroke="#4a2350" stroke-width="2.8" stroke-linejoin="round"/>
<line x1="1266" y1="1428.4" x2="1266" y2="1446.1" stroke="#4a2350" stroke-width="2.8" /><line x1="1260.5" y1="1428.4" x2="1271.5" y2="1428.4" stroke="#4a2350" stroke-width="2.8" /><line x1="1260.5" y1="1446.1" x2="1271.5" y2="1446.1" stroke="#4a2350" stroke-width="2.8" />
<line x1="1357" y1="1393.7" x2="1357" y2="1411.4" stroke="#4a2350" stroke-width="2.8" /><line x1="1351.5" y1="1393.7" x2="1362.5" y2="1393.7" stroke="#4a2350" stroke-width="2.8" /><line x1="1351.5" y1="1411.4" x2="1362.5" y2="1411.4" stroke="#4a2350" stroke-width="2.8" />
<line x1="1447.7" y1="1317.9" x2="1447.7" y2="1370.1" stroke="#4a2350" stroke-width="2.8" /><line x1="1442.2" y1="1317.9" x2="1453.2" y2="1317.9" stroke="#4a2350" stroke-width="2.8" /><line x1="1442.2" y1="1370.1" x2="1453.2" y2="1370.1" stroke="#4a2350" stroke-width="2.8" />
<line x1="1538.5" y1="1252.5" x2="1538.5" y2="1316.6" stroke="#4a2350" stroke-width="2.8" /><line x1="1533" y1="1252.5" x2="1544" y2="1252.5" stroke="#4a2350" stroke-width="2.8" /><line x1="1533" y1="1316.6" x2="1544" y2="1316.6" stroke="#4a2350" stroke-width="2.8" />
<line x1="1629.3" y1="1132.3" x2="1629.3" y2="1227.5" stroke="#4a2350" stroke-width="2.8" /><line x1="1623.8" y1="1132.3" x2="1634.8" y2="1132.3" stroke="#4a2350" stroke-width="2.8" /><line x1="1623.8" y1="1227.5" x2="1634.8" y2="1227.5" stroke="#4a2350" stroke-width="2.8" />
<path d="M1176 1468.2L1182 1457.4L1170 1457.4Z" fill="#fff" stroke="#4a2350" stroke-width="2.5" />
<path d="M1266 1443.3L1272 1432.5L1260 1432.5Z" fill="#fff" stroke="#4a2350" stroke-width="2.5" />
<path d="M1357 1408.6L1363 1397.8L1351 1397.8Z" fill="#fff" stroke="#4a2350" stroke-width="2.5" />
<path d="M1447.7 1350L1453.7 1339.2L1441.7 1339.2Z" fill="#fff" stroke="#4a2350" stroke-width="2.5" />
<path d="M1538.5 1290.3L1544.5 1279.5L1532.5 1279.5Z" fill="#fff" stroke="#4a2350" stroke-width="2.5" />
<path d="M1629.3 1185.8L1635.3 1175L1623.3 1175Z" fill="#fff" stroke="#4a2350" stroke-width="2.5" />
<path d="M1176 1462.2l90-32.5 91-29.8 90.7-54.1 90.8-85.8 90.8-122.4" fill="none" stroke="#2a5db0" stroke-width="2.8" stroke-linejoin="round"/>
<line x1="1266" y1="1418.7" x2="1266" y2="1440.8" stroke="#2a5db0" stroke-width="2.8" /><line x1="1260.5" y1="1418.7" x2="1271.5" y2="1418.7" stroke="#2a5db0" stroke-width="2.8" /><line x1="1260.5" y1="1440.8" x2="1271.5" y2="1440.8" stroke="#2a5db0" stroke-width="2.8" />
<line x1="1357" y1="1390" x2="1357" y2="1409.9" stroke="#2a5db0" stroke-width="2.8" /><line x1="1351.5" y1="1390" x2="1362.5" y2="1390" stroke="#2a5db0" stroke-width="2.8" /><line x1="1351.5" y1="1409.9" x2="1362.5" y2="1409.9" stroke="#2a5db0" stroke-width="2.8" />
<line x1="1447.7" y1="1330.3" x2="1447.7" y2="1363.5" stroke="#2a5db0" stroke-width="2.8" /><line x1="1442.2" y1="1330.3" x2="1453.2" y2="1330.3" stroke="#2a5db0" stroke-width="2.8" /><line x1="1442.2" y1="1363.5" x2="1453.2" y2="1363.5" stroke="#2a5db0" stroke-width="2.8" />
<line x1="1538.5" y1="1226.4" x2="1538.5" y2="1289.9" stroke="#2a5db0" stroke-width="2.8" /><line x1="1533" y1="1226.4" x2="1544" y2="1226.4" stroke="#2a5db0" stroke-width="2.8" /><line x1="1533" y1="1289.9" x2="1544" y2="1289.9" stroke="#2a5db0" stroke-width="2.8" />
<line x1="1629.3" y1="1088.3" x2="1629.3" y2="1187.3" stroke="#2a5db0" stroke-width="2.8" /><line x1="1623.8" y1="1088.3" x2="1634.8" y2="1088.3" stroke="#2a5db0" stroke-width="2.8" /><line x1="1623.8" y1="1187.3" x2="1634.8" y2="1187.3" stroke="#2a5db0" stroke-width="2.8" />
<circle cx="1176" cy="1462.2" r="6.2" fill="#2a5db0" />
<circle cx="1266" cy="1429.8" r="6.2" fill="#2a5db0" />
<circle cx="1357" cy="1399.9" r="6.2" fill="#2a5db0" />
<circle cx="1447.7" cy="1345.8" r="6.2" fill="#2a5db0" />
<circle cx="1538.5" cy="1260" r="6.2" fill="#2a5db0" />
<circle cx="1629.3" cy="1137.6" r="6.2" fill="#2a5db0" />
<rect x="1175.5" y="1077.5" width="543" height="407.5" fill="none" stroke="#000" stroke-width="3.8"/>
<line x1="1166.5" y1="1485" x2="1175.5" y2="1485" stroke="#000" stroke-width="3.4" />
<text transform="translate(1163.5,1493) scale(.5)" font-family="Liberation Sans, sans-serif" font-size="45" font-weight="bold" text-anchor="end" stroke="#000" stroke-width="0.8">0</text>
<line x1="1166.5" y1="1440.8" x2="1175.5" y2="1440.8" stroke="#000" stroke-width="3.4" />
<text transform="translate(1163.5,1448.8) scale(.5)" font-family="Liberation Sans, sans-serif" font-size="45" font-weight="bold" text-anchor="end" stroke="#000" stroke-width="0.8">200</text>
<line x1="1166.5" y1="1396.6" x2="1175.5" y2="1396.6" stroke="#000" stroke-width="3.4" />
<text transform="translate(1163.5,1404.6) scale(.5)" font-family="Liberation Sans, sans-serif" font-size="45" font-weight="bold" text-anchor="end" stroke="#000" stroke-width="0.8">400</text>
<line x1="1166.5" y1="1352.4" x2="1175.5" y2="1352.4" stroke="#000" stroke-width="3.4" />
<text transform="translate(1163.5,1360.4) scale(.5)" font-family="Liberation Sans, sans-serif" font-size="45" font-weight="bold" text-anchor="end" stroke="#000" stroke-width="0.8">600</text>
<line x1="1166.5" y1="1308.2" x2="1175.5" y2="1308.2" stroke="#000" stroke-width="3.4" />
<text transform="translate(1163.5,1316.2) scale(.5)" font-family="Liberation Sans, sans-serif" font-size="45" font-weight="bold" text-anchor="end" stroke="#000" stroke-width="0.8">800</text>
<line x1="1166.5" y1="1264" x2="1175.5" y2="1264" stroke="#000" stroke-width="3.4" />
<text transform="translate(1163.5,1272) scale(.5)" font-family="Liberation Sans, sans-serif" font-size="45" font-weight="bold" text-anchor="end" stroke="#000" stroke-width="0.8">1000</text>
<line x1="1166.5" y1="1219.8" x2="1175.5" y2="1219.8" stroke="#000" stroke-width="3.4" />
<text transform="translate(1163.5,1227.8) scale(.5)" font-family="Liberation Sans, sans-serif" font-size="45" font-weight="bold" text-anchor="end" stroke="#000" stroke-width="0.8">1200</text>
<line x1="1166.5" y1="1175.6" x2="1175.5" y2="1175.6" stroke="#000" stroke-width="3.4" />
<text transform="translate(1163.5,1183.6) scale(.5)" font-family="Liberation Sans, sans-serif" font-size="45" font-weight="bold" text-anchor="end" stroke="#000" stroke-width="0.8">1400</text>
<line x1="1166.5" y1="1131.4" x2="1175.5" y2="1131.4" stroke="#000" stroke-width="3.4" />
<text transform="translate(1163.5,1139.4) scale(.5)" font-family="Liberation Sans, sans-serif" font-size="45" font-weight="bold" text-anchor="end" stroke="#000" stroke-width="0.8">1600</text>
<line x1="1166.5" y1="1087.2" x2="1175.5" y2="1087.2" stroke="#000" stroke-width="3.4" />
<text transform="translate(1163.5,1095.2) scale(.5)" font-family="Liberation Sans, sans-serif" font-size="45" font-weight="bold" text-anchor="end" stroke="#000" stroke-width="0.8">1800</text>
<line x1="1176" y1="1485" x2="1176" y2="1495" stroke="#000" stroke-width="3.4" />
<text transform="translate(1176,1517.5) scale(.5)" font-family="Liberation Sans, sans-serif" font-size="45" font-weight="bold" text-anchor="middle" stroke="#000" stroke-width="0.8">0</text>
<line x1="1266" y1="1485" x2="1266" y2="1495" stroke="#000" stroke-width="3.4" />
<text transform="translate(1266,1517.5) scale(.5)" font-family="Liberation Sans, sans-serif" font-size="45" font-weight="bold" text-anchor="middle" stroke="#000" stroke-width="0.8">4</text>
<line x1="1357" y1="1485" x2="1357" y2="1495" stroke="#000" stroke-width="3.4" />
<text transform="translate(1357,1517.5) scale(.5)" font-family="Liberation Sans, sans-serif" font-size="45" font-weight="bold" text-anchor="middle" stroke="#000" stroke-width="0.8">8</text>
<line x1="1447.7" y1="1485" x2="1447.7" y2="1495" stroke="#000" stroke-width="3.4" />
<text transform="translate(1447.7,1517.5) scale(.5)" font-family="Liberation Sans, sans-serif" font-size="45" font-weight="bold" text-anchor="middle" stroke="#000" stroke-width="0.8">12</text>
<line x1="1538.5" y1="1485" x2="1538.5" y2="1495" stroke="#000" stroke-width="3.4" />
<text transform="translate(1538.5,1517.5) scale(.5)" font-family="Liberation Sans, sans-serif" font-size="45" font-weight="bold" text-anchor="middle" stroke="#000" stroke-width="0.8">16</text>
<line x1="1629.3" y1="1485" x2="1629.3" y2="1495" stroke="#000" stroke-width="3.4" />
<text transform="translate(1629.3,1517.5) scale(.5)" font-family="Liberation Sans, sans-serif" font-size="45" font-weight="bold" text-anchor="middle" stroke="#000" stroke-width="0.8">20</text>
<path d="M1538.5 1477.5L1546 1491L1531 1491Z" fill="#2d2a6e" />
<path d="M1629.3 1477.5L1636.8 1491L1621.8 1491Z" fill="#2d2a6e" />
<text transform="translate(1447.5,1550) scale(.5)" font-family="Liberation Sans, sans-serif" font-size="49" font-weight="bold" text-anchor="middle" stroke="#000" stroke-width="0.8">Time (d)</text>
<text transform="translate(1097,1281) rotate(-90)" font-family="Liberation Sans, sans-serif" font-weight="bold" font-size="24" text-anchor="middle">Tumour volume (mm<tspan font-size="16" dy="-9">3</tspan><tspan dy="9">)</tspan></text>
<line x1="1191" y1="1096.7" x2="1223" y2="1096.7" stroke="#8a6a3c" stroke-width="2.8" />
<rect x="1199.5" y="1089.2" width="15" height="15" fill="#8a6a3c" />
<text transform="translate(1243,1105.7) scale(.5)" font-family="Liberation Sans, sans-serif" font-size="50.8" font-weight="bold" stroke="#000" stroke-width="0.8">KM3934+Ctrl-NV-Dox+PBMC</text>
<line x1="1191" y1="1129.5" x2="1223" y2="1129.5" stroke="#2d2a6e" stroke-width="2.8" />
<path d="M1207 1122.5L1214 1135.1L1200 1135.1Z" fill="#2d2a6e" />
<text transform="translate(1243,1138.5) scale(.5)" font-family="Liberation Sans, sans-serif" font-size="50.8" font-weight="bold" stroke="#000" stroke-width="0.8">KM3934-VAs-Dox+PBMC</text>
<line x1="1191" y1="1162" x2="1223" y2="1162" stroke="#7a4fb0" stroke-width="2.8" />
<path d="M1207 1167L1212 1158L1202 1158Z" fill="#7a4fb0" />
<text transform="translate(1243,1171) scale(.5)" font-family="Liberation Sans, sans-serif" font-size="50.8" font-weight="bold" stroke="#000" stroke-width="0.8">KM3934-VAs+PBMC</text>
<line x1="1191" y1="1196.7" x2="1223" y2="1196.7" stroke="#000" stroke-width="2.8" />
<circle cx="1207" cy="1196.7" r="7.5" fill="#000" />
<text transform="translate(1243,1205.7) scale(.5)" font-family="Liberation Sans, sans-serif" font-size="50.8" font-weight="bold" stroke="#000" stroke-width="0.8">KM3934-VAs-Dox</text>
<line x1="1191" y1="1232.1" x2="1223" y2="1232.1" stroke="#e0282c" stroke-width="2.8" />
<rect x="1201.5" y="1226.6" width="11" height="11" fill="#e0282c" />
<text transform="translate(1243,1241.1) scale(.5)" font-family="Liberation Sans, sans-serif" font-size="50.8" font-weight="bold" stroke="#000" stroke-width="0.8">KM3934+PBMC</text>
<line x1="1191" y1="1264.5" x2="1223" y2="1264.5" stroke="#f28a3c" stroke-width="2.8" />
<path d="M1207 1259L1212.5 1264.5L1207 1270L1201.5 1264.5Z" fill="#f28a3c" />
<text transform="translate(1243,1273.5) scale(.5)" font-family="Liberation Sans, sans-serif" font-size="50.8" font-weight="bold" stroke="#000" stroke-width="0.8">Ctrl-NV-Dox</text>
<line x1="1191" y1="1295.5" x2="1223" y2="1295.5" stroke="#2fb24a" stroke-width="2.8" />
<path d="M1207 1290L1212.5 1299.9L1201.5 1299.9Z" fill="#2fb24a" />
<text transform="translate(1243,1304.5) scale(.5)" font-family="Liberation Sans, sans-serif" font-size="50.8" font-weight="bold" stroke="#000" stroke-width="0.8">Free Dox</text>
<line x1="1191" y1="1328" x2="1223" y2="1328" stroke="#4a2350" stroke-width="2.8" />
<path d="M1207 1334L1213 1323.2L1201 1323.2Z" fill="#fff" stroke="#4a2350" stroke-width="2.5" />
<text transform="translate(1243,1337) scale(.5)" font-family="Liberation Sans, sans-serif" font-size="50.8" font-weight="bold" stroke="#000" stroke-width="0.8">KM3934-VAs</text>
<line x1="1191" y1="1361.5" x2="1223" y2="1361.5" stroke="#2a5db0" stroke-width="2.8" />
<circle cx="1207" cy="1361.5" r="5.5" fill="#2a5db0" />
<text transform="translate(1243,1370.5) scale(.5)" font-family="Liberation Sans, sans-serif" font-size="50.8" font-weight="bold" stroke="#000" stroke-width="0.8">PBS</text>
<line x1="1935.3" y1="1318.6" x2="1935.3" y2="1330" stroke="#000" stroke-width="3.2" />
<line x1="1925.5" y1="1318.6" x2="1945.1" y2="1318.6" stroke="#000" stroke-width="3.2" />
<rect x="1914.8" y="1328" width="41" height="45.8" fill="#000" />
<line x1="1990.1" y1="1273" x2="1990.1" y2="1289.3" stroke="#f2904c" stroke-width="3.2" />
<line x1="1980.3" y1="1273" x2="1999.9" y2="1273" stroke="#f2904c" stroke-width="3.2" />
<rect x="1969.6" y="1287.3" width="41" height="86.5" fill="#f2904c" />
<line x1="2044.9" y1="1332" x2="2044.9" y2="1343" stroke="#8a6a3c" stroke-width="3.2" />
<line x1="2034.9" y1="1332" x2="2054.9" y2="1332" stroke="#8a6a3c" stroke-width="3.2" />
<rect x="2024" y="1341" width="41.8" height="32.8" fill="#8a6a3c" />
<line x1="2100" y1="1370" x2="2100" y2="1373.5" stroke="#2d2a6e" stroke-width="3.2" />
<line x1="2090.4" y1="1370" x2="2109.6" y2="1370" stroke="#2d2a6e" stroke-width="3.2" />
<rect x="2080" y="1371.5" width="40" height="2.3" fill="#2d2a6e" />
<line x1="2156" y1="1256.3" x2="2156" y2="1267.6" stroke="#6f4a9a" stroke-width="3.2" />
<line x1="2146.4" y1="1256.3" x2="2165.6" y2="1256.3" stroke="#6f4a9a" stroke-width="3.2" />
<rect x="2136" y="1265.6" width="40" height="108.2" fill="#6f4a9a" />
<line x1="2210.8" y1="1197.8" x2="2210.8" y2="1215.4" stroke="#e0282c" stroke-width="3.2" />
<line x1="2201.2" y1="1197.8" x2="2220.3" y2="1197.8" stroke="#e0282c" stroke-width="3.2" />
<rect x="2190.8" y="1213.4" width="39.9" height="160.4" fill="#e0282c" />
<line x1="2265.8" y1="1190.3" x2="2265.8" y2="1229.2" stroke="#3aad45" stroke-width="3.2" />
<line x1="2256.1" y1="1190.3" x2="2275.5" y2="1190.3" stroke="#3aad45" stroke-width="3.2" />
<rect x="2245.6" y="1227.2" width="40.4" height="146.6" fill="#3aad45" />
<line x1="2320.9" y1="1084" x2="2320.9" y2="1120.3" stroke="#2c4f9e" stroke-width="3.2" />
<line x1="2311.3" y1="1084" x2="2330.5" y2="1084" stroke="#2c4f9e" stroke-width="3.2" />
<rect x="2300.8" y="1118.3" width="40.2" height="255.5" fill="#2c4f9e" />
<rect x="1904.7" y="1077.3" width="459.5" height="296.5" fill="none" stroke="#000" stroke-width="3.4"/>
<line x1="1896.2" y1="1373.8" x2="1904.7" y2="1373.8" stroke="#000" stroke-width="2.9" />
<text transform="translate(1892.7,1381.9) scale(.5)" font-family="Liberation Sans, sans-serif" font-size="45" font-weight="bold" text-anchor="end" stroke="#000" stroke-width="0.8">0</text>
<line x1="1896.2" y1="1341.4" x2="1904.7" y2="1341.4" stroke="#000" stroke-width="2.9" />
<text transform="translate(1892.7,1349.5) scale(.5)" font-family="Liberation Sans, sans-serif" font-size="45" font-weight="bold" text-anchor="end" stroke="#000" stroke-width="0.8">200</text>
<line x1="1896.2" y1="1309.1" x2="1904.7" y2="1309.1" stroke="#000" stroke-width="2.9" />
<text transform="translate(1892.7,1317.2) scale(.5)" font-family="Liberation Sans, sans-serif" font-size="45" font-weight="bold" text-anchor="end" stroke="#000" stroke-width="0.8">400</text>
<line x1="1896.2" y1="1276.7" x2="1904.7" y2="1276.7" stroke="#000" stroke-width="2.9" />
<text transform="translate(1892.7,1284.8) scale(.5)" font-family="Liberation Sans, sans-serif" font-size="45" font-weight="bold" text-anchor="end" stroke="#000" stroke-width="0.8">600</text>
<line x1="1896.2" y1="1244.3" x2="1904.7" y2="1244.3" stroke="#000" stroke-width="2.9" />
<text transform="translate(1892.7,1252.4) scale(.5)" font-family="Liberation Sans, sans-serif" font-size="45" font-weight="bold" text-anchor="end" stroke="#000" stroke-width="0.8">800</text>
<line x1="1896.2" y1="1212" x2="1904.7" y2="1212" stroke="#000" stroke-width="2.9" />
<text transform="translate(1892.7,1220) scale(.5)" font-family="Liberation Sans, sans-serif" font-size="45" font-weight="bold" text-anchor="end" stroke="#000" stroke-width="0.8">1000</text>
<line x1="1896.2" y1="1179.6" x2="1904.7" y2="1179.6" stroke="#000" stroke-width="2.9" />
<text transform="translate(1892.7,1187.7) scale(.5)" font-family="Liberation Sans, sans-serif" font-size="45" font-weight="bold" text-anchor="end" stroke="#000" stroke-width="0.8">1200</text>
<line x1="1896.2" y1="1147.2" x2="1904.7" y2="1147.2" stroke="#000" stroke-width="2.9" />
<text transform="translate(1892.7,1155.3) scale(.5)" font-family="Liberation Sans, sans-serif" font-size="45" font-weight="bold" text-anchor="end" stroke="#000" stroke-width="0.8">1400</text>
<line x1="1896.2" y1="1114.8" x2="1904.7" y2="1114.8" stroke="#000" stroke-width="2.9" />
<text transform="translate(1892.7,1122.9) scale(.5)" font-family="Liberation Sans, sans-serif" font-size="45" font-weight="bold" text-anchor="end" stroke="#000" stroke-width="0.8">1600</text>
<line x1="1896.2" y1="1082.5" x2="1904.7" y2="1082.5" stroke="#000" stroke-width="2.9" />
<text transform="translate(1892.7,1090.6) scale(.5)" font-family="Liberation Sans, sans-serif" font-size="45" font-weight="bold" text-anchor="end" stroke="#000" stroke-width="0.8">1800</text>
<line x1="1935.3" y1="1373.8" x2="1935.3" y2="1382.3" stroke="#000" stroke-width="2.9" />
<text transform="translate(1941.3,1400.8) rotate(-45) scale(.5)" font-family="Liberation Sans, sans-serif" font-size="45.4" font-weight="bold" text-anchor="end" stroke="#000" stroke-width="0.8">KM3934-VAs-Dox</text>
<line x1="1990.1" y1="1373.8" x2="1990.1" y2="1382.3" stroke="#000" stroke-width="2.9" />
<text transform="translate(1996.1,1400.8) rotate(-45) scale(.5)" font-family="Liberation Sans, sans-serif" font-size="45.4" font-weight="bold" text-anchor="end" stroke="#000" stroke-width="0.8">Ctrl-NV-Dox</text>
<line x1="2044.9" y1="1373.8" x2="2044.9" y2="1382.3" stroke="#000" stroke-width="2.9" />
<text transform="translate(2050.9,1400.8) rotate(-45) scale(.5)" font-family="Liberation Sans, sans-serif" font-size="45.4" font-weight="bold" text-anchor="end" stroke="#000" stroke-width="0.8">KM3934+Ctrl-NV-Dox+PBMC</text>
<line x1="2100" y1="1373.8" x2="2100" y2="1382.3" stroke="#000" stroke-width="2.9" />
<text transform="translate(2106,1400.8) rotate(-45) scale(.5)" font-family="Liberation Sans, sans-serif" font-size="45.4" font-weight="bold" text-anchor="end" stroke="#000" stroke-width="0.8">KM3934-VAs-Dox+PBMC</text>
<line x1="2156" y1="1373.8" x2="2156" y2="1382.3" stroke="#000" stroke-width="2.9" />
<text transform="translate(2162,1400.8) rotate(-45) scale(.5)" font-family="Liberation Sans, sans-serif" font-size="45.4" font-weight="bold" text-anchor="end" stroke="#000" stroke-width="0.8">KM3934-VAs+PBMC</text>
<line x1="2210.8" y1="1373.8" x2="2210.8" y2="1382.3" stroke="#000" stroke-width="2.9" />
<text transform="translate(2216.8,1400.8) rotate(-45) scale(.5)" font-family="Liberation Sans, sans-serif" font-size="45.4" font-weight="bold" text-anchor="end" stroke="#000" stroke-width="0.8">KM3934+PBMC</text>
<line x1="2265.8" y1="1373.8" x2="2265.8" y2="1382.3" stroke="#000" stroke-width="2.9" />
<text transform="translate(2271.8,1400.8) rotate(-45) scale(.5)" font-family="Liberation Sans, sans-serif" font-size="45.4" font-weight="bold" text-anchor="end" stroke="#000" stroke-width="0.8">Free Dox</text>
<line x1="2320.9" y1="1373.8" x2="2320.9" y2="1382.3" stroke="#000" stroke-width="2.9" />
<text transform="translate(2326.9,1400.8) rotate(-45) scale(.5)" font-family="Liberation Sans, sans-serif" font-size="45.4" font-weight="bold" text-anchor="end" stroke="#000" stroke-width="0.8">PBS</text>
<text transform="translate(0,0) rotate(-90) scale(.5)" font-family="Liberation Sans, sans-serif" font-size="48" font-weight="bold" text-anchor="middle" stroke="#000" stroke-width="0.8"></text>
<text transform="translate(1832,1228) rotate(-90)" font-family="Liberation Sans, sans-serif" font-weight="bold" font-size="24.5" text-anchor="middle">Tumor volume (mm<tspan font-size="15" dy="-9">3</tspan><tspan dy="9">)</tspan></text>
<path d="M1930 1268V1252H1990V1268" fill="none" stroke="#000" stroke-width="3.8" stroke-linejoin="round" stroke-linecap="round"/>
<text transform="translate(1962,1240) scale(.5)" font-family="Liberation Serif, serif" font-size="50" text-anchor="middle"><tspan font-style="italic">p</tspan>&lt;0.001</text>
<path d="M2043 1324V1306H2102V1324" fill="none" stroke="#000" stroke-width="3.8" stroke-linejoin="round" stroke-linecap="round"/>
<text transform="translate(2068,1295) scale(.5)" font-family="Liberation Serif, serif" font-size="50" text-anchor="middle"><tspan font-style="italic">p</tspan>&lt;0.001</text>
<path d="M2152 1189V1171H2211V1189" fill="none" stroke="#000" stroke-width="3.8" stroke-linejoin="round" stroke-linecap="round"/>
<text transform="translate(2176,1156) scale(.5)" font-family="Liberation Serif, serif" font-size="50" text-anchor="middle"><tspan font-style="italic">p</tspan>&lt;0.001</text>
<rect x="552.3" y="70.4" width="459.9" height="419.6" fill="#050705" />
<g><path d="M839.2 91l1.8-.5 2.9 .4 3.4 1 3.1 1.2 2.6 1.6 2.6 2.2 2.5 2 2.1 1.1 1.5-.2 1-1 1.2-1.2 1.9-1 2.7-.4 3.3-.3 3.8-.2 4.2-.5 4.9-.9 5.5-1 5.6-1.2 4.9-1.1 4.1-1.2 3.7-1.4 3.3-1.1 2.9-.5 2.7 .1 2.5 .4 1.9 1.3 1.3 2.4 .3 4.2-.5 5.6-.7 6-.5 5.1-.2 4-.1 3.4 .1 3.3 .2 3.3 .4 3.5 .7 3.6 .7 3.5 1 3.4 1 3.6 1 3.8 1.4 3.2 2.2 2 3.8 .1 5-1.4 4.5-1.4 2.1-.1-1.5 1.7-3.9 2.6-4.4 3.3-2.8 3.6-1.1 4.4-.3 5.2 .7 4.9 2.1 3.6 4.8 1.6 7 .3 6.3 .1 2.9 .8-2.4 1.9-5.9 2.5-6.6 2.7-4.7 2.7-1.7 2.8-.2 3 0 2.9-.9 2.5-2.1 2-2.8 1.7-3.1 1.6-3.2 1.7-3.4 1.9-3.7 2-3.6 2.1-3.3 2.4-2.5 2.9-2.1 3.2-2.2 3.4-2.9 3.1-4.1 2.8-4.7 2.8-4.9 2.7-4.5 2.8-3.8 3.1-3.5 3.2-3.3 3.2-3.4 3.1-3.7 3-3.8 2.9-3.6 2.8-2.9 2.5-2.4 2.1-1.9 1.8-1.2 1.6-.1 1.5 1.5 1.1 2.7 .8 3.1 .9 2.5 1.4 1.4 2.1 .9 2.7 1.1 2.7 2.2 2.4 3.8 2 4.8 1.7 5 1.6 4.6 1.7 3.8 1.7 3.5 1.6 3.3 1.8 3.4 1.9 3.4 2.2 3.3 2.3 3.4 2.5 3.8 2.7 4.4 2.9 5 3.1 4.7 3.3 4.1 3.3 3 3.4 2.3 3.5 2.1 3.6 2.4 3.5 2.9 3.4 3.2 3.4 3 3.5 2.1 3.7 .9 3.9 .1 4.2-.1 4.3 .5 4.3 1.4 4.4 1.7 4.6 2 4.6 1.9 4.6 1.8 4.5 1.7 4.5 1.8 4.6 1.7 4.6 1.7 4.8 1.7 4.8 1.8 5 1.7 5 1.7 5.2 1.8 5.3 1.7 5.3 1.8 5.1 1.6 5 1.4 5.1 1.7 4.5 2.3 3.6 3.8 2.2 4.8 1.2 4.3 .9 2.5 1.3 .2 2-1.4 2.4-2.5 2.2-3.3 1.8-4.3 1.5-5.3 1.3-5.8 .6-5.6-.6-5.2-2.3-5.2-3.6-5.3-4.1-5.2-4-5.1-3.8-5-3.8-5.2-3.9-5.7-3.9-6.5-3.9-7.1-3.8-7.2-3.9-7.2-3.7-7-3.7-6.9-3.6-7-3.4-7-3.3-7.2-3-7.2-2.8-7.1-2.7-6.5-2.7-5.8-2.9-5.3-3-4.9-2.8-4.9-2.5-4.9-1.8-4.9-1.4-4.5-1.6-3.9-2.2-2.8-3.4-1.9-4-2.1-4.2-3-3.8-4.7-3-5.8-2.7-5.7-2.6-4.7-2.9-3.3-3.2-2.4-3.5-2-3.6-2.1-3.6-2.8-3.8-3.1-4-2.2-3.9-.3-3.7 2.6-3.3 4.8-3.1 5.2-3 4.1-3.2 2.6-3.3 2-3.4 1.5-3.5 .9-3.8 .5-4.4-.1-4.8-.6-4.8-1.2-4.1-2.5-3.2-3.6-2.7-3.3-2.5-1.7-2.9 .7-3.3 2.1-3.5 2.5-3.6 1.6-3.6 .2-3.5-.4-3.5-.7-3.5-.5-3.5-.4-3.4-.3-3.4-.4-3.5-.2-3.7-.2-4 0-4.3 0-4.4 .2-4 .5-3.6 .6-3.3 .8-3.4 .8-3.7 .9-4.4 .9-4.8 1.1-4.7 1.3-4.3 1.6-3.4 1.7-3 1.9-2.9 1.8-3.3 1.8-4.1 1.7-4.7 1.8-4.4 1.7-3.5 2-2.1 2.2-1.2 1.8-1 1-1.3-.8-2-1.9-2.4-1.7-2.2 .2-1.8 2.9-.9 4.5-.4 5.1-.4 4.3-1.1 3.3-2 3-2.6 2.6-2.8 2.3-2.4 1.6-2 1.1-1.8 1.1-1.6 1.8-1.6 2.8-1.5 3.4-1.5 3.4-1.3 2.9-1.3 2.4-.9 2.2-.7 1.7-.9 .7-1.7-.5-2.9-1.6-3.6-1.9-3.9-1.6-3.5-1.5-3.3-1.6-3.3-1.2-2.8z" fill="#2f7a30" opacity="0.5" filter="url(#b4)"/><path d="M839.2 91l1.8-.5 2.9 .4 3.4 1 3.1 1.2 2.6 1.6 2.6 2.2 2.5 2 2.1 1.1 1.5-.2 1-1 1.2-1.2 1.9-1 2.7-.4 3.3-.3 3.8-.2 4.2-.5 4.9-.9 5.5-1 5.6-1.2 4.9-1.1 4.1-1.2 3.7-1.4 3.3-1.1 2.9-.5 2.7 .1 2.5 .4 1.9 1.3 1.3 2.4 .3 4.2-.5 5.6-.7 6-.5 5.1-.2 4-.1 3.4 .1 3.3 .2 3.3 .4 3.5 .7 3.6 .7 3.5 1 3.4 1 3.6 1 3.8 1.4 3.2 2.2 2 3.8 .1 5-1.4 4.5-1.4 2.1-.1-1.5 1.7-3.9 2.6-4.4 3.3-2.8 3.6-1.1 4.4-.3 5.2 .7 4.9 2.1 3.6 4.8 1.6 7 .3 6.3 .1 2.9 .8-2.4 1.9-5.9 2.5-6.6 2.7-4.7 2.7-1.7 2.8-.2 3 0 2.9-.9 2.5-2.1 2-2.8 1.7-3.1 1.6-3.2 1.7-3.4 1.9-3.7 2-3.6 2.1-3.3 2.4-2.5 2.9-2.1 3.2-2.2 3.4-2.9 3.1-4.1 2.8-4.7 2.8-4.9 2.7-4.5 2.8-3.8 3.1-3.5 3.2-3.3 3.2-3.4 3.1-3.7 3-3.8 2.9-3.6 2.8-2.9 2.5-2.4 2.1-1.9 1.8-1.2 1.6-.1 1.5 1.5 1.1 2.7 .8 3.1 .9 2.5 1.4 1.4 2.1 .9 2.7 1.1 2.7 2.2 2.4 3.8 2 4.8 1.7 5 1.6 4.6 1.7 3.8 1.7 3.5 1.6 3.3 1.8 3.4 1.9 3.4 2.2 3.3 2.3 3.4 2.5 3.8 2.7 4.4 2.9 5 3.1 4.7 3.3 4.1 3.3 3 3.4 2.3 3.5 2.1 3.6 2.4 3.5 2.9 3.4 3.2 3.4 3 3.5 2.1 3.7 .9 3.9 .1 4.2-.1 4.3 .5 4.3 1.4 4.4 1.7 4.6 2 4.6 1.9 4.6 1.8 4.5 1.7 4.5 1.8 4.6 1.7 4.6 1.7 4.8 1.7 4.8 1.8 5 1.7 5 1.7 5.2 1.8 5.3 1.7 5.3 1.8 5.1 1.6 5 1.4 5.1 1.7 4.5 2.3 3.6 3.8 2.2 4.8 1.2 4.3 .9 2.5 1.3 .2 2-1.4 2.4-2.5 2.2-3.3 1.8-4.3 1.5-5.3 1.3-5.8 .6-5.6-.6-5.2-2.3-5.2-3.6-5.3-4.1-5.2-4-5.1-3.8-5-3.8-5.2-3.9-5.7-3.9-6.5-3.9-7.1-3.8-7.2-3.9-7.2-3.7-7-3.7-6.9-3.6-7-3.4-7-3.3-7.2-3-7.2-2.8-7.1-2.7-6.5-2.7-5.8-2.9-5.3-3-4.9-2.8-4.9-2.5-4.9-1.8-4.9-1.4-4.5-1.6-3.9-2.2-2.8-3.4-1.9-4-2.1-4.2-3-3.8-4.7-3-5.8-2.7-5.7-2.6-4.7-2.9-3.3-3.2-2.4-3.5-2-3.6-2.1-3.6-2.8-3.8-3.1-4-2.2-3.9-.3-3.7 2.6-3.3 4.8-3.1 5.2-3 4.1-3.2 2.6-3.3 2-3.4 1.5-3.5 .9-3.8 .5-4.4-.1-4.8-.6-4.8-1.2-4.1-2.5-3.2-3.6-2.7-3.3-2.5-1.7-2.9 .7-3.3 2.1-3.5 2.5-3.6 1.6-3.6 .2-3.5-.4-3.5-.7-3.5-.5-3.5-.4-3.4-.3-3.4-.4-3.5-.2-3.7-.2-4 0-4.3 0-4.4 .2-4 .5-3.6 .6-3.3 .8-3.4 .8-3.7 .9-4.4 .9-4.8 1.1-4.7 1.3-4.3 1.6-3.4 1.7-3 1.9-2.9 1.8-3.3 1.8-4.1 1.7-4.7 1.8-4.4 1.7-3.5 2-2.1 2.2-1.2 1.8-1 1-1.3-.8-2-1.9-2.4-1.7-2.2 .2-1.8 2.9-.9 4.5-.4 5.1-.4 4.3-1.1 3.3-2 3-2.6 2.6-2.8 2.3-2.4 1.6-2 1.1-1.8 1.1-1.6 1.8-1.6 2.8-1.5 3.4-1.5 3.4-1.3 2.9-1.3 2.4-.9 2.2-.7 1.7-.9 .7-1.7-.5-2.9-1.6-3.6-1.9-3.9-1.6-3.5-1.5-3.3-1.6-3.3-1.2-2.8z" fill="#66b83e" stroke="#66b83e" stroke-width="1.5" stroke-linejoin="round" filter="url(#b1)"/><g clip-path="url(#cCell)"><path d="M879.8 111.9l5.3 0 5.7 .8 5.4 1.5 4.5 1.9 3.4 2.4 2.6 3 2.1 3.5 1.7 3.7 1.3 4.1 .8 4.5 .5 4.7 .2 4.9 .1 5-.2 5.3-.5 5.3-.8 5.3-1.2 5.3-1.5 5.4-1.9 5.2-2.4 5.1-2.9 4.8-3.4 4.6-3.7 4.4-3.9 4.4-4.3 4.4-4.8 4.3-4.7 4.1-4.4 4-3.6 3.7-3.2 3.4-3.3 3.4-3.9 3.4-4.8 3.6-5.3 3.6-5.5 3.5-5.4 3.3-5.3 3.2-5.3 3.1-5.3 2.8-5 2.1-5 1.7-5.1 1.3-4.5 .5-3.6-.7-2.5-2.2-1.5-3.3-1-4.1-.6-4.4-.2-4.7 .3-5.3 .6-5.5 .7-5.4 .9-5.3 1.2-5.5 1.2-5.2 .9-5 .4-4.6 0-4.2 .1-4.1 .9-3.9 1.8-3.7 2.3-3.5 2.8-3.4 2.9-3.4 3.4-3.4 3.8-3.4 3.7-3.4 3.1-3.7 2.1-4 1.4-4.3 1.4-4.3 2.1-4.2 2.9-4 3.4-4 3.8-3.8 3.8-3.6 4-3.4 4.1-3.3 4.3-3.1 4.4-2.8 4.4-2.7 4.4-2.5 4.6-2.1z" fill="#3fae48" filter="url(#b2)"/><path d="M807.1 293.8l6.4 0 7.9 .8 8.5 1.4 7.9 2 7.2 2.8 7 3.5 6.9 3.9 6.9 3.7 7.2 3.5 7.2 3.5 7.1 3.5 6.5 3.5 5.9 3.3 5.4 3.3 5 3.4 4.6 4 4 4.8 3.4 5.3 3.3 5.5 3.3 5.4 3.7 5.2 3.7 5.2 3.6 5.3 3 5.2 2.2 5.2 1.7 5.3 1.5 5.2 1.6 5.3 1.8 5.3 1.7 5.2 1.8 5.3 1.7 5.2 2.1 5.4 2.3 5.5 1.8 5.3 .8 4.7-.4 4.5-1.3 4.2-2.2 3.4-3.1 1.9-4.1 .1-5.1-1.4-5.7-2.5-6.1-3.2-6.5-4.4-7.1-5.6-7.2-5.8-7.2-5.1-7-4-6.9-3.4-7-3.3-7-3.3-7-3.3-7-3.3-7-3.4-7-4-7.1-4.8-7.3-5.3-7-5.5-6.5-5.4-5.8-5.2-5.4-5.3-5-5.2-4.8-5.2-4.9-5.2-4.8-5.3-4.2-5.2-2.9-5.3-1.4-5.3-.3-5.4 .6-5.3 1.1-5 1.7-5 2.5-4.9 2.8-4.5 2.8-3.7 2.2-2.8 2.1-2.1 2.7-1.4z" fill="#2a7a3a" filter="url(#b2)"/><ellipse cx="886" cy="171" rx="20" ry="28" transform="rotate(25 886 171)" fill="#1f5230" opacity="0.9" filter="url(#b4)"/><ellipse cx="828" cy="213" rx="26" ry="30" transform="rotate(40 828 213)" fill="#1f5030" opacity="0.92" filter="url(#b4)"/><ellipse cx="860" cy="355" rx="66" ry="44" transform="rotate(33 860 355)" fill="#14281a" opacity="0.97" filter="url(#b4)"/><ellipse cx="815" cy="322" rx="26" ry="22" fill="#16301e" opacity="0.9" filter="url(#b4)"/><ellipse cx="940" cy="425" rx="20" ry="38" transform="rotate(-22 940 425)" fill="#1f5a30" opacity="0.7" filter="url(#b4)"/></g><g clip-path="url(#cDU)"><rect x="790" y="105" width="130" height="165" filter="url(#nzd)" opacity="0.75"/><rect x="790" y="105" width="130" height="165" filter="url(#nz)" opacity="0.5"/></g><g clip-path="url(#cDL)"><rect x="780" y="285" width="190" height="180" filter="url(#nzd)" opacity="0.7"/><rect x="780" y="285" width="190" height="180" filter="url(#nz)" opacity="0.3"/><g clip-path="url(#cTail)"><rect x="890" y="340" width="90" height="130" filter="url(#nz)" opacity="0.7"/></g></g></g>
<rect x="578.7" y="455.5" width="100.1" height="9.7" fill="#fff" />
<rect x="1023.7" y="72.2" width="442.7" height="420.9" fill="#040605" />
<ellipse cx="1264" cy="181" rx="25.5" ry="25" transform="rotate(-30 1264 181)" fill="#2a48ba" opacity="1" filter="url(#b1)"/><ellipse cx="1322.5" cy="159.5" rx="30" ry="30.5" transform="rotate(20 1322.5 159.5)" fill="#2a48ba" opacity="1" filter="url(#b1)"/><ellipse cx="1311" cy="343" rx="55" ry="38" transform="rotate(12 1311 343)" fill="#2a48ba" opacity="1" filter="url(#b1)"/><circle cx="1300" cy="335" r="3" fill="#2a1a3a" opacity="0.7" filter="url(#b07)"/><circle cx="1290" cy="345" r="2.5" fill="#2a1a3a" opacity="0.7" filter="url(#b07)"/><circle cx="1315" cy="350" r="2.5" fill="#2a1a3a" opacity="0.7" filter="url(#b07)"/><circle cx="1325" cy="330" r="2" fill="#2a1a3a" opacity="0.7" filter="url(#b07)"/><circle cx="1335" cy="150" r="2" fill="#2a1a3a" opacity="0.7" filter="url(#b07)"/><circle cx="1340" cy="175" r="2" fill="#2a1a3a" opacity="0.7" filter="url(#b07)"/><circle cx="1305" cy="365" r="2" fill="#2a1a3a" opacity="0.7" filter="url(#b07)"/><circle cx="1283" cy="190" r="3" fill="#2a1a3a" opacity="0.7" filter="url(#b07)"/><circle cx="1233" cy="165" r="1.6" fill="#2a2a8a" opacity="0.8"/><circle cx="1290" cy="282" r="1.6" fill="#2a2a8a" opacity="0.8"/><circle cx="1388" cy="300" r="1.6" fill="#2a2a8a" opacity="0.8"/><circle cx="1182" cy="428" r="1.6" fill="#2a2a8a" opacity="0.8"/><circle cx="1305" cy="470" r="1.6" fill="#2a2a8a" opacity="0.8"/><circle cx="1255" cy="320" r="1.6" fill="#2a2a8a" opacity="0.8"/><circle cx="1400" cy="370" r="1.6" fill="#2a2a8a" opacity="0.8"/><circle cx="1340" cy="405" r="1.6" fill="#2a2a8a" opacity="0.8"/>
<rect x="1055.5" y="457.7" width="99" height="9.6" fill="#fff" />
<rect x="1477.2" y="71.5" width="453.8" height="412" fill="#070504" />
<path d="M1756.2 86l3.2-1.4 3.1-.3 3 .5 3.1 1 3.1 1.2 3.3 1 3.5 .8 3.8 .9 3.9 1 3.8 1.2 3.6 1.6 3.2 1.9 2.9 2.4 2.7 2.7 2.4 3 2.3 3.3 2 3.5 1.9 3.7 1.6 3.9 1.4 4.2 1.2 4.4 1 4.5 .9 4.6 .9 4.4 1 4.4 1 4.6 .9 4.6 .7 4.4 .1 4.3-.6 4.1-1.3 3.7-2 3.5-2.5 3.3-2.8 3.3-3.2 3.2-3.3 3.3-3.6 3.4-4 3.4-4.3 3.4-4.4 3.3-4.6 3.4-4.5 3.4-4.6 3.4-4.6 3.5-4.8 3.4-4.8 3.5-4.8 3.3-4.8 3.1-4.8 3.1-5 3.1-4.9 3.1-4.9 2.7-4.6 2.4-4.3 1.9-4 1.5-3.8 1.2-3.5 .9-3.4 .3-3.1-.3-2.9-1.1-2.7-2-2.5-2.8-2.3-3.4-2.1-3.9-1.8-4.4-1.6-4.5-1.4-5-1.4-5.7-1-6-.8-6.1-.4-6 .2-5.5 .7-5.1 1.3-5 1.7-4.7 2-4.7 2.2-4.5 2.2-4.4 2.3-4.3 2.4-4.1 2.6-4 2.7-3.9 3-4 3.3-4 3.6-4 4.1-4 4.2-4 4.3-4 4.2-4.1 3.9-4.3 3.6-4.8 3.5-5.3 3.4-5.4 3.3-5 3.2-4.2z" fill="none" stroke="#7a1015" stroke-width="9" opacity="0.5" filter="url(#b2)"/><path d="M1756.2 86l3.2-1.4 3.1-.3 3 .5 3.1 1 3.1 1.2 3.3 1 3.5 .8 3.8 .9 3.9 1 3.8 1.2 3.6 1.6 3.2 1.9 2.9 2.4 2.7 2.7 2.4 3 2.3 3.3 2 3.5 1.9 3.7 1.6 3.9 1.4 4.2 1.2 4.4 1 4.5 .9 4.6 .9 4.4 1 4.4 1 4.6 .9 4.6 .7 4.4 .1 4.3-.6 4.1-1.3 3.7-2 3.5-2.5 3.3-2.8 3.3-3.2 3.2-3.3 3.3-3.6 3.4-4 3.4-4.3 3.4-4.4 3.3-4.6 3.4-4.5 3.4-4.6 3.4-4.6 3.5-4.8 3.4-4.8 3.5-4.8 3.3-4.8 3.1-4.8 3.1-5 3.1-4.9 3.1-4.9 2.7-4.6 2.4-4.3 1.9-4 1.5-3.8 1.2-3.5 .9-3.4 .3-3.1-.3-2.9-1.1-2.7-2-2.5-2.8-2.3-3.4-2.1-3.9-1.8-4.4-1.6-4.5-1.4-5-1.4-5.7-1-6-.8-6.1-.4-6 .2-5.5 .7-5.1 1.3-5 1.7-4.7 2-4.7 2.2-4.5 2.2-4.4 2.3-4.3 2.4-4.1 2.6-4 2.7-3.9 3-4 3.3-4 3.6-4 4.1-4 4.2-4 4.3-4 4.2-4.1 3.9-4.3 3.6-4.8 3.5-5.3 3.4-5.4 3.3-5 3.2-4.2z" fill="none" stroke="#e0242c" stroke-width="5" filter="url(#b07)" stroke-dasharray="150 3 60 2 80 4 30 6 20 5 200 3"/><path d="M1718 248l1.8 .7 2.6 .9 3 1 3.3 1.2 3.3 1.1 3 1.1 2.7 .8 2.5 .7 2.4 .7 2.7 .8 3.2 1.1 3.7 1.6 4.6 2.1 5.2 2.4 5.7 2.7 5.8 3 5.8 3 5.3 3.1 5.1 3.1 5.1 3.4 5 3.4 4.7 3.5 4.5 3.4 4 3.4 3.6 3.3 3.2 3.4 2.9 3.3 2.6 3.3 2.4 3.3 2.3 3.2 2.2 3.3 2 3.5 1.9 3.4 1.6 3.2 1.3 2.7 1 1.9" fill="none" stroke="#e0242c" stroke-width="4.5" filter="url(#b07)" stroke-dasharray="60 4 30 5 14 6 10 8 8 10"/><path d="M1760 88L1790 92L1808 100" fill="none" stroke="#e0242c" stroke-width="7" stroke-linecap="round" filter="url(#b07)"/><path d="M1812 175L1824 163L1828 160" fill="none" stroke="#e0242c" stroke-width="8" stroke-linecap="round" filter="url(#b07)"/><path d="M1672 302L1682 298L1686 290" fill="none" stroke="#e0242c" stroke-width="6" stroke-linecap="round" filter="url(#b07)"/><circle cx="1770" cy="140" r="2.3" fill="#c0202a" opacity="0.8"/><circle cx="1762" cy="150" r="2.5" fill="#c0202a" opacity="0.9"/><circle cx="1755" cy="165" r="2.5" fill="#c0202a" opacity="0.9"/><circle cx="1745" cy="195" r="1.5" fill="#c0202a" opacity="0.7"/><circle cx="1780" cy="120" r="2.7" fill="#c0202a" opacity="0.8"/><circle cx="1790" cy="125" r="2.7" fill="#c0202a" opacity="0.5"/><circle cx="1700" cy="215" r="2.1" fill="#c0202a" opacity="0.6"/><circle cx="1687" cy="315" r="2.2" fill="#c0202a" opacity="0.7"/><circle cx="1720" cy="345" r="1.5" fill="#c0202a" opacity="0.6"/><circle cx="1735" cy="352" r="1.9" fill="#c0202a" opacity="0.9"/><circle cx="1765" cy="370" r="2.5" fill="#c0202a" opacity="0.6"/><circle cx="1790" cy="385" r="2.5" fill="#c0202a" opacity="0.6"/><circle cx="1840" cy="360" r="2.3" fill="#c0202a" opacity="0.6"/><circle cx="1850" cy="345" r="1.5" fill="#c0202a" opacity="0.8"/><circle cx="1838" cy="405" r="1.8" fill="#c0202a" opacity="0.6"/><circle cx="1810" cy="395" r="2.8" fill="#c0202a" opacity="0.8"/><circle cx="1885" cy="415" r="1.9" fill="#c0202a" opacity="0.9"/><circle cx="1700" cy="275" r="2.2" fill="#c0202a" opacity="0.8"/><circle cx="1765" cy="205" r="1.8" fill="#c0202a" opacity="0.9"/><circle cx="1745" cy="150" r="2.4" fill="#c0202a" opacity="0.9"/>
<rect x="1506.7" y="449.6" width="100.6" height="9" fill="#fff" />
<rect x="1940" y="74.3" width="444.4" height="412.4" fill="#050705" />
<g transform="translate(1378.6,1.6)"><path d="M839.2 91l1.8-.5 2.9 .4 3.4 1 3.1 1.2 2.6 1.6 2.6 2.2 2.5 2 2.1 1.1 1.5-.2 1-1 1.2-1.2 1.9-1 2.7-.4 3.3-.3 3.8-.2 4.2-.5 4.9-.9 5.5-1 5.6-1.2 4.9-1.1 4.1-1.2 3.7-1.4 3.3-1.1 2.9-.5 2.7 .1 2.5 .4 1.9 1.3 1.3 2.4 .3 4.2-.5 5.6-.7 6-.5 5.1-.2 4-.1 3.4 .1 3.3 .2 3.3 .4 3.5 .7 3.6 .7 3.5 1 3.4 1 3.6 1 3.8 1.4 3.2 2.2 2 3.8 .1 5-1.4 4.5-1.4 2.1-.1-1.5 1.7-3.9 2.6-4.4 3.3-2.8 3.6-1.1 4.4-.3 5.2 .7 4.9 2.1 3.6 4.8 1.6 7 .3 6.3 .1 2.9 .8-2.4 1.9-5.9 2.5-6.6 2.7-4.7 2.7-1.7 2.8-.2 3 0 2.9-.9 2.5-2.1 2-2.8 1.7-3.1 1.6-3.2 1.7-3.4 1.9-3.7 2-3.6 2.1-3.3 2.4-2.5 2.9-2.1 3.2-2.2 3.4-2.9 3.1-4.1 2.8-4.7 2.8-4.9 2.7-4.5 2.8-3.8 3.1-3.5 3.2-3.3 3.2-3.4 3.1-3.7 3-3.8 2.9-3.6 2.8-2.9 2.5-2.4 2.1-1.9 1.8-1.2 1.6-.1 1.5 1.5 1.1 2.7 .8 3.1 .9 2.5 1.4 1.4 2.1 .9 2.7 1.1 2.7 2.2 2.4 3.8 2 4.8 1.7 5 1.6 4.6 1.7 3.8 1.7 3.5 1.6 3.3 1.8 3.4 1.9 3.4 2.2 3.3 2.3 3.4 2.5 3.8 2.7 4.4 2.9 5 3.1 4.7 3.3 4.1 3.3 3 3.4 2.3 3.5 2.1 3.6 2.4 3.5 2.9 3.4 3.2 3.4 3 3.5 2.1 3.7 .9 3.9 .1 4.2-.1 4.3 .5 4.3 1.4 4.4 1.7 4.6 2 4.6 1.9 4.6 1.8 4.5 1.7 4.5 1.8 4.6 1.7 4.6 1.7 4.8 1.7 4.8 1.8 5 1.7 5 1.7 5.2 1.8 5.3 1.7 5.3 1.8 5.1 1.6 5 1.4 5.1 1.7 4.5 2.3 3.6 3.8 2.2 4.8 1.2 4.3 .9 2.5 1.3 .2 2-1.4 2.4-2.5 2.2-3.3 1.8-4.3 1.5-5.3 1.3-5.8 .6-5.6-.6-5.2-2.3-5.2-3.6-5.3-4.1-5.2-4-5.1-3.8-5-3.8-5.2-3.9-5.7-3.9-6.5-3.9-7.1-3.8-7.2-3.9-7.2-3.7-7-3.7-6.9-3.6-7-3.4-7-3.3-7.2-3-7.2-2.8-7.1-2.7-6.5-2.7-5.8-2.9-5.3-3-4.9-2.8-4.9-2.5-4.9-1.8-4.9-1.4-4.5-1.6-3.9-2.2-2.8-3.4-1.9-4-2.1-4.2-3-3.8-4.7-3-5.8-2.7-5.7-2.6-4.7-2.9-3.3-3.2-2.4-3.5-2-3.6-2.1-3.6-2.8-3.8-3.1-4-2.2-3.9-.3-3.7 2.6-3.3 4.8-3.1 5.2-3 4.1-3.2 2.6-3.3 2-3.4 1.5-3.5 .9-3.8 .5-4.4-.1-4.8-.6-4.8-1.2-4.1-2.5-3.2-3.6-2.7-3.3-2.5-1.7-2.9 .7-3.3 2.1-3.5 2.5-3.6 1.6-3.6 .2-3.5-.4-3.5-.7-3.5-.5-3.5-.4-3.4-.3-3.4-.4-3.5-.2-3.7-.2-4 0-4.3 0-4.4 .2-4 .5-3.6 .6-3.3 .8-3.4 .8-3.7 .9-4.4 .9-4.8 1.1-4.7 1.3-4.3 1.6-3.4 1.7-3 1.9-2.9 1.8-3.3 1.8-4.1 1.7-4.7 1.8-4.4 1.7-3.5 2-2.1 2.2-1.2 1.8-1 1-1.3-.8-2-1.9-2.4-1.7-2.2 .2-1.8 2.9-.9 4.5-.4 5.1-.4 4.3-1.1 3.3-2 3-2.6 2.6-2.8 2.3-2.4 1.6-2 1.1-1.8 1.1-1.6 1.8-1.6 2.8-1.5 3.4-1.5 3.4-1.3 2.9-1.3 2.4-.9 2.2-.7 1.7-.9 .7-1.7-.5-2.9-1.6-3.6-1.9-3.9-1.6-3.5-1.5-3.3-1.6-3.3-1.2-2.8z" fill="#2f7a30" opacity="0.5" filter="url(#b4)"/><path d="M839.2 91l1.8-.5 2.9 .4 3.4 1 3.1 1.2 2.6 1.6 2.6 2.2 2.5 2 2.1 1.1 1.5-.2 1-1 1.2-1.2 1.9-1 2.7-.4 3.3-.3 3.8-.2 4.2-.5 4.9-.9 5.5-1 5.6-1.2 4.9-1.1 4.1-1.2 3.7-1.4 3.3-1.1 2.9-.5 2.7 .1 2.5 .4 1.9 1.3 1.3 2.4 .3 4.2-.5 5.6-.7 6-.5 5.1-.2 4-.1 3.4 .1 3.3 .2 3.3 .4 3.5 .7 3.6 .7 3.5 1 3.4 1 3.6 1 3.8 1.4 3.2 2.2 2 3.8 .1 5-1.4 4.5-1.4 2.1-.1-1.5 1.7-3.9 2.6-4.4 3.3-2.8 3.6-1.1 4.4-.3 5.2 .7 4.9 2.1 3.6 4.8 1.6 7 .3 6.3 .1 2.9 .8-2.4 1.9-5.9 2.5-6.6 2.7-4.7 2.7-1.7 2.8-.2 3 0 2.9-.9 2.5-2.1 2-2.8 1.7-3.1 1.6-3.2 1.7-3.4 1.9-3.7 2-3.6 2.1-3.3 2.4-2.5 2.9-2.1 3.2-2.2 3.4-2.9 3.1-4.1 2.8-4.7 2.8-4.9 2.7-4.5 2.8-3.8 3.1-3.5 3.2-3.3 3.2-3.4 3.1-3.7 3-3.8 2.9-3.6 2.8-2.9 2.5-2.4 2.1-1.9 1.8-1.2 1.6-.1 1.5 1.5 1.1 2.7 .8 3.1 .9 2.5 1.4 1.4 2.1 .9 2.7 1.1 2.7 2.2 2.4 3.8 2 4.8 1.7 5 1.6 4.6 1.7 3.8 1.7 3.5 1.6 3.3 1.8 3.4 1.9 3.4 2.2 3.3 2.3 3.4 2.5 3.8 2.7 4.4 2.9 5 3.1 4.7 3.3 4.1 3.3 3 3.4 2.3 3.5 2.1 3.6 2.4 3.5 2.9 3.4 3.2 3.4 3 3.5 2.1 3.7 .9 3.9 .1 4.2-.1 4.3 .5 4.3 1.4 4.4 1.7 4.6 2 4.6 1.9 4.6 1.8 4.5 1.7 4.5 1.8 4.6 1.7 4.6 1.7 4.8 1.7 4.8 1.8 5 1.7 5 1.7 5.2 1.8 5.3 1.7 5.3 1.8 5.1 1.6 5 1.4 5.1 1.7 4.5 2.3 3.6 3.8 2.2 4.8 1.2 4.3 .9 2.5 1.3 .2 2-1.4 2.4-2.5 2.2-3.3 1.8-4.3 1.5-5.3 1.3-5.8 .6-5.6-.6-5.2-2.3-5.2-3.6-5.3-4.1-5.2-4-5.1-3.8-5-3.8-5.2-3.9-5.7-3.9-6.5-3.9-7.1-3.8-7.2-3.9-7.2-3.7-7-3.7-6.9-3.6-7-3.4-7-3.3-7.2-3-7.2-2.8-7.1-2.7-6.5-2.7-5.8-2.9-5.3-3-4.9-2.8-4.9-2.5-4.9-1.8-4.9-1.4-4.5-1.6-3.9-2.2-2.8-3.4-1.9-4-2.1-4.2-3-3.8-4.7-3-5.8-2.7-5.7-2.6-4.7-2.9-3.3-3.2-2.4-3.5-2-3.6-2.1-3.6-2.8-3.8-3.1-4-2.2-3.9-.3-3.7 2.6-3.3 4.8-3.1 5.2-3 4.1-3.2 2.6-3.3 2-3.4 1.5-3.5 .9-3.8 .5-4.4-.1-4.8-.6-4.8-1.2-4.1-2.5-3.2-3.6-2.7-3.3-2.5-1.7-2.9 .7-3.3 2.1-3.5 2.5-3.6 1.6-3.6 .2-3.5-.4-3.5-.7-3.5-.5-3.5-.4-3.4-.3-3.4-.4-3.5-.2-3.7-.2-4 0-4.3 0-4.4 .2-4 .5-3.6 .6-3.3 .8-3.4 .8-3.7 .9-4.4 .9-4.8 1.1-4.7 1.3-4.3 1.6-3.4 1.7-3 1.9-2.9 1.8-3.3 1.8-4.1 1.7-4.7 1.8-4.4 1.7-3.5 2-2.1 2.2-1.2 1.8-1 1-1.3-.8-2-1.9-2.4-1.7-2.2 .2-1.8 2.9-.9 4.5-.4 5.1-.4 4.3-1.1 3.3-2 3-2.6 2.6-2.8 2.3-2.4 1.6-2 1.1-1.8 1.1-1.6 1.8-1.6 2.8-1.5 3.4-1.5 3.4-1.3 2.9-1.3 2.4-.9 2.2-.7 1.7-.9 .7-1.7-.5-2.9-1.6-3.6-1.9-3.9-1.6-3.5-1.5-3.3-1.6-3.3-1.2-2.8z" fill="#66b83e" stroke="#66b83e" stroke-width="1.5" stroke-linejoin="round" filter="url(#b1)"/><g clip-path="url(#cCell)"><path d="M879.8 111.9l5.3 0 5.7 .8 5.4 1.5 4.5 1.9 3.4 2.4 2.6 3 2.1 3.5 1.7 3.7 1.3 4.1 .8 4.5 .5 4.7 .2 4.9 .1 5-.2 5.3-.5 5.3-.8 5.3-1.2 5.3-1.5 5.4-1.9 5.2-2.4 5.1-2.9 4.8-3.4 4.6-3.7 4.4-3.9 4.4-4.3 4.4-4.8 4.3-4.7 4.1-4.4 4-3.6 3.7-3.2 3.4-3.3 3.4-3.9 3.4-4.8 3.6-5.3 3.6-5.5 3.5-5.4 3.3-5.3 3.2-5.3 3.1-5.3 2.8-5 2.1-5 1.7-5.1 1.3-4.5 .5-3.6-.7-2.5-2.2-1.5-3.3-1-4.1-.6-4.4-.2-4.7 .3-5.3 .6-5.5 .7-5.4 .9-5.3 1.2-5.5 1.2-5.2 .9-5 .4-4.6 0-4.2 .1-4.1 .9-3.9 1.8-3.7 2.3-3.5 2.8-3.4 2.9-3.4 3.4-3.4 3.8-3.4 3.7-3.4 3.1-3.7 2.1-4 1.4-4.3 1.4-4.3 2.1-4.2 2.9-4 3.4-4 3.8-3.8 3.8-3.6 4-3.4 4.1-3.3 4.3-3.1 4.4-2.8 4.4-2.7 4.4-2.5 4.6-2.1z" fill="#4fb548" filter="url(#b2)"/><path d="M807.1 293.8l6.4 0 7.9 .8 8.5 1.4 7.9 2 7.2 2.8 7 3.5 6.9 3.9 6.9 3.7 7.2 3.5 7.2 3.5 7.1 3.5 6.5 3.5 5.9 3.3 5.4 3.3 5 3.4 4.6 4 4 4.8 3.4 5.3 3.3 5.5 3.3 5.4 3.7 5.2 3.7 5.2 3.6 5.3 3 5.2 2.2 5.2 1.7 5.3 1.5 5.2 1.6 5.3 1.8 5.3 1.7 5.2 1.8 5.3 1.7 5.2 2.1 5.4 2.3 5.5 1.8 5.3 .8 4.7-.4 4.5-1.3 4.2-2.2 3.4-3.1 1.9-4.1 .1-5.1-1.4-5.7-2.5-6.1-3.2-6.5-4.4-7.1-5.6-7.2-5.8-7.2-5.1-7-4-6.9-3.4-7-3.3-7-3.3-7-3.3-7-3.3-7-3.4-7-4-7.1-4.8-7.3-5.3-7-5.5-6.5-5.4-5.8-5.2-5.4-5.3-5-5.2-4.8-5.2-4.9-5.2-4.8-5.3-4.2-5.2-2.9-5.3-1.4-5.3-.3-5.4 .6-5.3 1.1-5 1.7-5 2.5-4.9 2.8-4.5 2.8-3.7 2.2-2.8 2.1-2.1 2.7-1.4z" fill="#45b04a" filter="url(#b2)"/><ellipse cx="822" cy="322" rx="30" ry="27" transform="rotate(35 822 322)" fill="#1f4a2a" opacity="0.9" filter="url(#b4)"/></g><g clip-path="url(#cDL)"><rect x="780" y="285" width="190" height="180" filter="url(#nzd)" opacity="0.3"/></g><path d="M848 116l3.4-1.4 3.6-1.3 3.7-1.2 3.7-1.2 3.8-1 3.8-.9 3.9-.9 4-1 4-.8 4-.6 3.7-.1 3.4 .4 3.1 1 2.9 1.5 2.6 1.9 2.4 2.3 2.2 2.5 1.8 2.8 1.4 3.1 1 3.4 .8 3.7 .6 3.9 .5 3.9 .7 4 .8 4 .8 4.1 .8 4.2 .7 4.3 .6 4.2 .3 4.2 .2 4.2 .1 4.2-.1 4.3-.3 4.2-.7 4.1-1.2 4-1.7 3.9-2.1 3.8-2.5 3.7-2.7 3.7-2.9 3.5-3.1 3.4-3.2 3.2-3.6 3.1-3.7 2.9-3.8 2.9-3.9 2.9-3.8 3-3.8 3-3.8 3.1-3.8 3.2-3.9 3-3.9 2.9-3.8 2.8-3.9 2.6-3.9 2.4-3.9 2.4-3.9 2.2-3.7 2.2-3.7 2.2-3.6 2.3-3.5 2.4-3.4 2.4-3.3 2.2-3.2 1.6-3 1.1-2.9 .4-2.7 0-2.6-.4-2.4-.9-2.3-1.3-2.1-1.8-1.9-2.3-1.8-2.8-1.5-3.3-1.5-3.6-1.2-3.9-1.1-4.1-.9-4.4-.8-4.9-.7-5.1-.4-5.2-.2-5.3 0-5.1 .3-5 .6-5.1 .8-5 1-5 1.1-5 1.2-4.9 1.3-4.9 1.5-4.9 1.6-4.8 1.7-4.7 1.9-4.5 2-4.2 2.2-3.8 2.4-3.6 2.6-3.3 2.6-3.2 2.6-3.1 2.6-3 2.5-3 2.4-2.9 2.4-2.7 2.5-2.7 2.5-2.4 2.7-2.3 2.8-2 2.8-1.9 3-1.7 3-1.5 3.1-1.5z" fill="none" stroke="#ece22e" stroke-width="3" opacity="0.95" filter="url(#b07)" stroke-dasharray="40 3 25 2 60 4 18 3 80 2"/><path d="M880 108L905 104M912 150L921 185L908 204M800 160L812 148" fill="none" stroke="#ece22e" stroke-width="5" stroke-linecap="round" opacity="0.9" filter="url(#b1)"/><path d="M800 282l2.7 .2 3.8 .2 4.4 .2 4.8 .4 4.8 .4 4.5 .6 4.1 .7 4 .8 4.1 .9 4.1 1 4.2 1.2 4.5 1.4 4.8 1.6 5 1.8 5.2 2 5.2 2.1 5 2.2 4.8 2.3 4.5 2.4 4.4 2.4 4.2 2.6 4.1 2.7 4 2.8 3.8 3.1 3.7 3.3 3.6 3.5 3.5 3.6 3.2 3.8 3.1 3.9 2.9 3.9 2.6 4 2.5 4.1 2.2 4.2 2.1 4.3 1.9 4.2 1.7 4.2 1.6 4.5 1.4 4.8 1.3 4.8 1.1 4.4 .9 3.8 .7 2.7" fill="none" stroke="#ece22e" stroke-width="3.2" opacity="0.85" filter="url(#b07)" stroke-dasharray="50 5 30 6 12 8 8 10"/><path d="M842 291L878 303" fill="none" stroke="#ece22e" stroke-width="6" stroke-linecap="round" opacity="0.9" filter="url(#b1)"/><path d="M768 340L776 336M783 352L782 358" fill="none" stroke="#ece22e" stroke-width="5" stroke-linecap="round" opacity="0.9" filter="url(#b1)"/><ellipse cx="825.5" cy="197" rx="28" ry="28" transform="rotate(-30 825.5 197)" fill="#2a66cc" opacity="1" filter="url(#b1)"/><ellipse cx="885.5" cy="174.5" rx="32" ry="35" transform="rotate(20 885.5 174.5)" fill="#2a6ad0" opacity="1" filter="url(#b1)"/><ellipse cx="874.3" cy="373" rx="58" ry="41" transform="rotate(16 874.3 373)" fill="#2a4aa8" opacity="1" filter="url(#b1)"/><g clip-path="url(#cNU)"><rect x="790" y="130" width="140" height="110" filter="url(#nzb)" opacity="0.8"/></g><ellipse cx="874.3" cy="373" rx="57" ry="40" transform="rotate(16 874.3 373)" fill="none" stroke="#2aa8e6" stroke-width="3.5" opacity="0.75" filter="url(#b1)" stroke-dasharray="150 160"/><ellipse cx="885.5" cy="174.5" rx="31" ry="34" transform="rotate(20 885.5 174.5)" fill="none" stroke="#38b4ea" stroke-width="4" opacity="0.8" filter="url(#b1)"/><ellipse cx="825.5" cy="197" rx="27" ry="27" fill="none" stroke="#38b4ea" stroke-width="4" opacity="0.8" filter="url(#b1)"/></g><circle cx="2100" cy="424" r="2" fill="#2a2a8a" opacity="0.8"/><circle cx="2153" cy="469" r="2" fill="#2a2a8a" opacity="0.8"/>
<rect x="1966" y="445.4" width="89.3" height="9.5" fill="#fff" />
<text transform="translate(798.5,54.5) scale(.5)" font-family="Liberation Sans, sans-serif" font-size="64.6" font-weight="bold" text-anchor="middle" stroke="#000" stroke-width="0.8">Phalloidin</text>
<text transform="translate(1244,57.8) scale(.5)" font-family="Liberation Sans, sans-serif" font-size="64.6" font-weight="bold" text-anchor="middle" stroke="#000" stroke-width="0.8">DAPI</text>
<text transform="translate(1710,58) scale(.5)" font-family="Liberation Sans, sans-serif" font-size="64.6" font-weight="bold" text-anchor="middle" stroke="#000" stroke-width="0.8">DiI</text>
<text transform="translate(2150.5,52) scale(.5)" font-family="Liberation Sans, sans-serif" font-size="64.6" font-weight="bold" text-anchor="middle" stroke="#000" stroke-width="0.8">Merged</text>
<path d="M211.1 196.1l1.8-.6 1.8-.6 1.8-.5 1.8-.6 1.8-.5 1.8-.5 1.7-.5 1.7-.4 1.8-.4 1.7-.5 1.6-.3 1.7-.4 1.7-.3 1.7-.3 1.7-.3 1.8-.3 1.8-.2 1.8-.3 1.6-.2 1.7-.1 1.7-.2 1.6-.1 1.5-.1 1.6 0 1.5 0 1.6 0 1.5 .1 1.6 .1 1.8 .1 1.7 .2 1.6 .1 1.6 .3 1.7 .2 1.5 .3 1.5 .2 1.5 .4 1.6 .3 1.4 .4 1.3 .4 1.4 .4 1.4 .5 1.2 .5 1.3 .6 1.5 .6 1.3 .7 1.4 .7 1.4 .8 1.4 .8 1.5 .8 1.4 .9 1.5 .9 1.4 1 1.5 .9 1.5 1.1 1.4 .9 1.3 1 1.4 1 1.2 1 1.3 1 1.3 1.1 1.3 1.1 1.2 1.1 1.2 1.2 1.3 1.2 1.2 1.2 1.2 1.2 1.2 1.3 1.3 1.3 1.2 1.3 1.2 1.3 1.1 1.3 1.1 1.3 1 1.3 1.1 1.3 1 1.3 .9 1.2 .9 1.3 1 1.4 .8 1.3 .9 1.4 .8 1.3 .7 1.3 .8 1.5 .7 1.4 .7 1.4 .7 1.6 .7 1.6 .7 1.6 .7 1.7 .7 1.7 .7 1.7 .7 1.8 .7 1.8 .7 1.8 .7 1.8 .6 1.8 .7 1.8 .7 1.8 .6 1.8 .6 1.7 .6 1.7 .5 1.7 .6 1.7 .5 1.6 .4 1.6 .4 1.6 .4 1.6 .4 1.6 .4 1.7 .3 1.7 .3 1.7 .3 1.7 .3 1.6 .2 1.7 .2 1.6 .2 1.7 .1 1.6 .1 1.6 .1 1.5 0 1.6 0 1.6 0 1.7-.1 1.6-.1 1.6-.1 1.7-.2 1.6-.1 1.6-.2 1.6-.3 1.6-.2 1.6-.3 1.5-.3 1.4-.4 1.4-.4 1.4-.4 1.3-.5 1.3-.4 1.4-.6 1.2-.5 1.3-.7 1.3-.6 1.3-.7 1.2-.8 1.3-.8 1.2-.8 1.3-.9 1.2-.9 1.2-.9 1.2-.9 1.2-1 1.1-1 1.1-1 1-1 1-1.1 1-1 .9-1.1 .9-1 .8-1.1 .8-1.2 .7-1.2 .8-1.4 .8-1.4 .8-1.5 .9-1.6 .8-1.7 .9-1.7 .9-1.7 .8-1.6 .9-1.6 .7-1.6 .8-1.7 .8-1.6 .7-1.6 .7-1.7 .8-1.7 .7-1.8 .7-1.7 .7-1.7 .7-1.8 .6-1.8 .7-1.7 .7-1.7 .6-1.8 .6-1.8 .7-1.8 .6-1.8 .6-1.8 .6-1.8 .6-1.8 .5-1.8 .6-1.9 .6-1.8 .6-1.8 .5-1.9 .6-1.9 .5-1.8 .6-1.9 .5-1.9 .6-1.8 .5-1.9 .5-1.8 .5-1.9 .5-1.8 .5-1.8 .5-1.9 .5-1.8 .4-1.8 .5-1.8 .4-1.8 .4-1.8 .4-1.9 .4-1.8 .4-1.9 .3-1.8 .4-1.9 .3-1.8 .4-1.9 .3-1.8 .3-1.8 .3-1.8 .3-1.8 .2-1.8 .3-1.8 .2-1.8 .2-1.8 .2-1.8 .1-1.8 .2-1.8 .1-1.8 .1-1.9 .1-1.8 .1-1.8 .1-1.8 .1-1.9 0-1.8 0-1.8 0-1.8 0-1.9 0-1.8-.1-1.8 0-1.8-.1-1.9-.1-1.8-.1-1.8-.1-1.9-.1-1.8-.2-1.8-.2-1.8-.1-1.8-.2-1.8-.2-1.8-.3-1.8-.2-1.7-.3-1.7-.3-1.8-.3-1.7-.3-1.8-.4-1.7-.3-1.7-.4-1.7-.4-1.6-.4-1.6-.5-1.6-.4-1.5-.5-1.4-.4-1.3-.5-1.3-.6-1.2-.5-1.1-.5-1-.6-1-.6-1.1-.7-1-.7-1.1-.8-1.1-.9-1.2-1-1.2-1.1-1.3-1.2-1.2-1.1-1.1-1.1-1.1-1.1-.9-1-.8-1-.8-.9-.6-.8-.5-.8-.5-.8-.4-.8-.4-.9-.4-1.1-.4-1.1-.3-1.2-.4-1.3-.3-1.3-.2-1.4-.2-1.3-.2-1.4-.1-1.3-.1-1.2 0-1.3 0-1.2 .1-1.3 .1-1.4 .2-1.4 .2-1.5 .2-1.5 .3-1.5 .3-1.4 .3-1 .3-.9 .4-1.1 .6-1.3 .6-1.6 .9-1.8 .9-2 .9-2.3 1-2.6 .9-2.5 .7-2.2 .6-2 .6-2.1 .6-2.1 .6-2.3 .6-2.2 .6-2.4 .5-2.5 .5-2.5 .4-2.6 .3-2.7 .2-2.6 .1-2.6 .1-2.5 0-2.4 0-2.4-.1-2.3-.1-2.3-.2-2.2-.1-2.3-.3-2.7-.4-2.8-.4-2.5-.5-2.3-.4-2-.4-1.8-.3-1.5-.2-1.2-.1-.9 0-.6 0-.7 .1-1 .1-1 .2-1 .3-1.1 .3-1.1 .3-1.1 .5-1.2 .4-1.1 .5-1 .5-1 .6-1 .7-1.1 .7-1.1 .9-1.2 .8-1.1 .9-1.1 1-1.1 .9-1.1 1-1 1-.9 1-1 1.1-.9 1.1-1 1.2-.8 1.2-.9 1.2-.8 1.1-.8 1.2-.7 1.2-.7 1.4-.7 1.4-.7 1.5-.7 1.6-.8 1.7-.7 1.8-.8 1.8-.8 1.8-.8 1.8-.8 1.7-.7 1.7-.8 1.8-.7 1.8-.7 1.8-.8 1.8-.7 1.8-.7 1.8-.7 1.8-.8 1.8-.7 1.9-.7 1.8-.7 1.9-.7 1.8-.7 1.9-.8 1.8-.7 1.9-.7 1.8-.7 1.9-.7 1.8-.7 1.8-.7 1.8-.6 1.8-.7 1.8-.7 1.8-.6 1.7-.6 1.8-.6 1.7-.6z" fill="url(#gcell)"/><path d="M216.2 212.3l1.7-.6 1.8-.5 1.7-.5 1.7-.5 1.7-.5 1.6-.5 1.6-.4 1.5-.4 1.6-.4 1.5-.4 1.4-.3 1.5-.3 1.4-.3 1.5-.3 1.5-.2 1.7-.3 1.6-.2 1.5-.2 1.4-.2 1.4-.1 1.4-.1 1.3-.1 1.2-.1 1.1 0 1.2 0 1.2 0 1.1 0 1.3 .1 1.5 .2 1.5 .1 1.3 .1 1.3 .2 1.3 .2 1.3 .2 1.1 .2 1.1 .3 1.2 .2 .9 .3 .9 .2 1 .3 .8 .4 .7 .2 .9 .4 1.1 .5 1 .5 1 .5 1.2 .7 1.2 .6 1.1 .7 1.3 .8 1.2 .7 1.3 .8 1.3 .9 1.3 .9 1.2 .9 1.1 .8 1.1 .8 1 .8 1 .8 1.1 .9 1.1 1 1 .9 1.1 .9 1.1 1.1 1.1 1.1 1 1 1 1.1 1.1 1.2 1.1 1.2 1.1 1.1 .9 1.1 .9 1.1 .9 1.1 .9 1.1 .8 1 .7 1 .8 1 .7 1.1 .7 1.1 .7 1 .5 1 .6 1 .6 1.1 .6 1.1 .5 1.2 .6 1.3 .6 1.4 .7 1.4 .6 1.5 .6 1.6 .7 1.7 .6 1.6 .7 1.8 .7 1.7 .7 1.8 .6 1.8 .7 1.7 .6 1.7 .6 1.6 .5 1.6 .5 1.5 .5 1.6 .5 1.5 .4 1.4 .4 1.3 .4 1.4 .3 1.3 .3 1.3 .3 1.4 .3 1.5 .3 1.5 .2 1.4 .2 1.4 .2 1.3 .2 1.4 .1 1.4 .1 1.3 .1 1.2 .1 1.1 0 1.3 0 1.3 0 1.3-.1 1.3-.1 1.3-.1 1.4-.1 1.4-.1 1.2-.2 1.2-.2 1.3-.2 1.2-.2 1.2-.2 1-.2 .8-.3 .9-.2 .9-.3 .9-.4 .8-.3 .8-.4 .8-.4 .9-.4 .8-.5 .9-.5 .8-.5 .9-.6 .9-.6 .9-.7 .8-.7 .9-.6 .8-.7 .8-.7 .8-.7 .7-.7 .6-.7 .7-.6 .6-.6 .5-.6 .4-.6 .5-.8 .5-.8 .5-1.1 .6-1.2 .7-1.3 .7-1.4 .8-1.6 .8-1.6 .8-1.7 .9-1.5 .7-1.4 .7-1.5 .7-1.5 .7-1.4 .7-1.5 .6-1.6 .7-1.6 .7-1.6 .6-1.6 .7-1.6 .6-1.7 .7-1.7 .6-1.6 .6-1.6 .6-1.7 .6-1.7 .6-1.6 .6-1.8 .6-1.7 .5-1.7 .6-1.8 .6-1.7 .5-1.8 .6-1.7 .5-1.9 .6-1.8 .5-1.8 .5-1.8 .6-1.9 .5-1.8 .5-1.8 .6-1.8 .5-1.7 .4-1.8 .5-1.7 .5-1.8 .4-1.7 .5-1.7 .4-1.7 .4-1.7 .4-1.6 .4-1.8 .4-1.8 .3-1.7 .4-1.8 .4-1.8 .3-1.7 .3-1.7 .3-1.7 .3-1.7 .3-1.7 .3-1.7 .2-1.6 .3-1.7 .2-1.6 .2-1.6 .2-1.7 .1-1.6 .2-1.6 .1-1.7 .2-1.7 .1-1.6 .1-1.8 0-1.6 .1-1.7 .1-1.7 0-1.6 0-1.7 0-1.7 0-1.6 0-1.7-.1-1.7 0-1.7-.1-1.7-.1-1.7-.1-1.6-.1-1.7-.1-1.7-.1-1.7-.2-1.7-.1-1.6-.2-1.6-.2-1.6-.2-1.6-.2-1.5-.3-1.6-.2-1.5-.3-1.6-.3-1.5-.3-1.6-.4-1.5-.3-1.4-.3-1.4-.4-1.4-.3-1.2-.4-1.1-.3-1-.4-.9-.3-.8-.3-.6-.3-.5-.2-.4-.2-.4-.3-.5-.3-.6-.4-.7-.5-.7-.7-.9-.7-1-.8-1-1-1-1-.9-.8-.8-.8-.5-.6-.5-.5-.2-.3-.2-.3-.1-.1 .1 .1 0 0-.1-.1-.1-.3-.2-.5-.1-.7-.2-.7-.2-.8-.2-.8-.1-.8-.1-.9-.1-.7 0-.6 0-.5 0-.7 0-.7 .1-.9 .1-.9 .2-1 .2-1.1 .2-1.1 .2-.9 0-.3 .1-.1 .1-.4 .4-.8 .6-1.3 .8-1.8 1-2.3 1.1-2.7 1.2-3.1 1-3 .8-2.4 .6-2.1 .7-2.3 .7-2.3 .7-2.5 .6-2.6 .7-2.7 .6-2.9 .5-3 .5-3.2 .4-3.2 .2-3.1 .2-3.1 .1-2.9 0-2.8 0-2.7-.1-2.6-.2-2.5-.1-2.4-.2-2.6-.3-3.3-.5-3.4-.5-3-.5-2.6-.5-2-.3-1.6-.2-1.2-.1-.6 0 .1 0 .5 0 .4 0-.1 0-.2 .1-.2 0-.3 .2-.3 .1-.5 .2-.6 .2-.5 .2-.4 .1-.2 .3-.5 .4-.6 .4-.6 .5-.7 .6-.8 .6-.7 .6-.8 .7-.7 .6-.6 .6-.6 .7-.6 .7-.6 .7-.7 .8-.6 .8-.5 .8-.6 .8-.5 .7-.4 .8-.5 .9-.5 1.1-.5 1.3-.6 1.4-.7 1.7-.7 1.7-.8 1.8-.8 1.7-.7 1.7-.8 1.6-.7 1.7-.7 1.7-.7 1.7-.7 1.8-.7 1.7-.7 1.8-.7 1.8-.7 1.8-.8 1.8-.7 1.7-.7 1.9-.7 1.8-.7 1.8-.7 1.9-.7 1.9-.7 1.8-.7 1.8-.7 1.8-.7 1.8-.7 1.7-.7 1.8-.6 1.7-.6 1.7-.6 1.7-.7 1.7-.5 1.6-.6 1.6-.5z" fill="none" stroke="#7fb0d4" stroke-width="8" opacity="0.55" filter="url(#ib2)"/><ellipse cx="266" cy="305" rx="44" ry="36" transform="rotate(-22 266 305)" fill="url(#gnucl)"/><path d="M137.4 139L136.7 133.3 131.3 129.9 132.2 123.5 128.3 119.3" fill="none" stroke="#e88a48" stroke-width="6" stroke-linejoin="round" stroke-linecap="round"/><path d="M128.3 119.3L114.6 85.8L114.6 59.8M114.6 85.8L88.6 76.6" fill="none" stroke="#3aa878" stroke-width="8" stroke-linejoin="round" stroke-linecap="round"/><path d="M128.3 119.3L114.6 85.8L114.6 59.8M114.6 85.8L88.6 76.6" fill="none" stroke="#6cc9a0" stroke-width="2.4" stroke-linejoin="round" stroke-linecap="round" opacity="0.7"/><path d="M195.4 140L200 134.9 199.9 127.5 204.5 122.4" fill="none" stroke="#e88a48" stroke-width="6" stroke-linejoin="round" stroke-linecap="round"/><path d="M204.5 122.4L224.4 91.9L225.9 69M224.4 91.9L254.9 85.8" fill="none" stroke="#3aa878" stroke-width="8" stroke-linejoin="round" stroke-linecap="round"/><path d="M204.5 122.4L224.4 91.9L225.9 69M224.4 91.9L254.9 85.8" fill="none" stroke="#6cc9a0" stroke-width="2.4" stroke-linejoin="round" stroke-linecap="round" opacity="0.7"/><path d="M118 186.4L112.6 184.6 107.2 188.2 101.7 184.6 96.3 186.4" fill="none" stroke="#e88a48" stroke-width="6" stroke-linejoin="round" stroke-linecap="round"/><path d="M96.3 186.4L61.2 184.9L41.4 169.6M61.2 184.9L41.4 200.1" fill="none" stroke="#3aa878" stroke-width="8" stroke-linejoin="round" stroke-linecap="round"/><path d="M96.3 186.4L61.2 184.9L41.4 169.6M61.2 184.9L41.4 200.1" fill="none" stroke="#6cc9a0" stroke-width="2.4" stroke-linejoin="round" stroke-linecap="round" opacity="0.7"/><path d="M118.1 392.4L113.4 395.9 113 402.4 106.9 404.9 105 410.4" fill="none" stroke="#e88a48" stroke-width="6" stroke-linejoin="round" stroke-linecap="round"/><path d="M105 410.4L85.4 438.2L59.2 446.4M85.4 438.2L87.9 462.7" fill="none" stroke="#3aa878" stroke-width="8" stroke-linejoin="round" stroke-linecap="round"/><path d="M105 410.4L85.4 438.2L59.2 446.4M85.4 438.2L87.9 462.7" fill="none" stroke="#6cc9a0" stroke-width="2.4" stroke-linejoin="round" stroke-linecap="round" opacity="0.7"/><path d="M167.2 403.9l-3.2 4.4 1.9 5.9-4.8 3.9 1.9 5.9-3.2 4.4" fill="none" stroke="#e88a48" stroke-width="6" stroke-linejoin="round" stroke-linecap="round"/><path d="M159.8 428.4L150.8 459.5L126.3 475.8M150.8 459.5L159 482.4" fill="none" stroke="#3aa878" stroke-width="8" stroke-linejoin="round" stroke-linecap="round"/><path d="M159.8 428.4L150.8 459.5L126.3 475.8M150.8 459.5L159 482.4" fill="none" stroke="#6cc9a0" stroke-width="2.4" stroke-linejoin="round" stroke-linecap="round" opacity="0.7"/><path d="M212.1 399l-.9 5.5 4.3 4.7-2.7 5.7 4.3 4.7-.9 5.5" fill="none" stroke="#e88a48" stroke-width="6" stroke-linejoin="round" stroke-linecap="round"/><path d="M216.2 425.1L219.5 456.2L208 480.7M219.5 456.2L240.7 475.8" fill="none" stroke="#3aa878" stroke-width="8" stroke-linejoin="round" stroke-linecap="round"/><path d="M216.2 425.1L219.5 456.2L208 480.7M219.5 456.2L240.7 475.8" fill="none" stroke="#6cc9a0" stroke-width="2.4" stroke-linejoin="round" stroke-linecap="round" opacity="0.7"/><g fill="none"><defs><path id="m1" d="M211.1 196.1l2.5-.8 2.4-.8 2.5-.7 2.5-.7 2.5-.7 2.5-.7 2.6-.6 2.5-.6 2.6-.5 2.5-.4 2.6-.4 2.6-.4 2.5-.3 2.6-.3 2.6-.2 2.6-.1 2.6 0 2.6 .1 2.6 .2 2.6 .2 2.6 .3 2.5 .4 2.6 .4 2.5 .6 2.6 .6 2.4 .8 2.5 .9 2.3 1.1 2.4 1.1 2.3 1.3 2.2 1.3 2.2 1.3 2.2 1.4 2.2 1.4 2.1 1.5 2.1 1.6 2.1 1.5 2 1.7 2 1.7 1.9 1.7 1.9 1.8 1.8 1.8 1.9 1.9 1.7 1.9 1.8 1.9 1.7 2 1.7 2 1.6 2 1.5 2.1 1.5 2.1 1.4 2.2 1.3 2.2 1.3 2.3 1.2 2.3 1.1 2.4 1 2.4 1 2.4 1 2.4 1 2.4 .9 2.4 .9 2.5 .9 2.4 .9 2.4 .9 2.5 .9 2.4 .8 2.5 .8 2.4 .8 2.5 .7 2.5 .6 2.6 .6 2.5 .4 2.6 .5 2.5 .4 2.6 .3 2.6 .2 2.6 .2 2.6 .1 2.5 0 2.6-.1 2.6-.2 2.6-.2 2.6-.3 2.6-.4 2.6-.5 2.5-.6 2.6-.7 2.5-.9 2.4-1 2.4-1.1 2.3-1.3 2.3-1.4 2.2-1.4 2.2-1.6 2.1-1.6 2-1.7 1.9-1.9 1.9-1.9 1.7-2 1.7-2.1 1.5-2.2 1.4-2.2 1.3-2.3 1.2-2.3 1.2-2.3 1.2-2.4 1.2-2.3 1.2-2.3 1.1-2.4 1.1-2.4 1-2.4 1-2.4 1-2.4 1-2.4 .9-2.4 1-2.5 .9-2.4 .8-2.5 .9-2.4 .8-2.5 .8-2.5 .9-2.4 .7-2.5 .8-2.5 .8-2.5 .7-2.5 .8-2.5 .7-2.5 .7-2.5 .7-2.5 .7-2.5 .7-2.5 .7-2.5 .6-2.5 .7-2.6 .6-2.5 .5-2.5 .6-2.6 .5-2.5 .5-2.6 .5-2.5 .5-2.6 .5-2.6 .4-2.5 .4-2.6 .3-2.6 .4-2.6 .2-2.6 .3-2.6 .2-2.5 .2-2.6 .1-2.6 .2-2.6 0-2.6 .1-2.6 0-2.6 0-2.6 0-2.6-.1-2.6-.1-2.6-.2-2.6-.1-2.6-.2-2.6-.3-2.6-.2-2.6-.3-2.5-.4-2.6-.4-2.6-.4-2.5-.5-2.6-.5-2.5-.5-2.6-.6-2.5-.7-2.5-.7-2.4-.8-2.4-1-2.4-1.1-2.2-1.3-2.2-1.5-2-1.6-2-1.7-1.9-1.8-1.9-1.8-1.8-1.8-1.6-2-1.5-2.2-1.1-2.3-.9-2.4-.7-2.6-.5-2.5-.3-2.6-.2-2.6 0-2.6 .2-2.6 .4-2.5 .4-2.6 .6-2.5 .8-2.5 1.1-2.4 1-2.4 1.1-2.3 1-2.4 .9-2.5 .8-2.4 .8-2.5 .7-2.5 .8-2.5 .7-2.5 .6-2.5 .6-2.5 .5-2.6 .5-2.5 .4-2.6 .3-2.6 .2-2.6 .1-2.6 .1-2.6 0-2.6-.1-2.6-.1-2.6-.1-2.6-.2-2.6-.2-2.6-.3-2.5-.5-2.6-.4-2.6-.6-2.5-.5-2.5-.4-2.6 0-2.6 .4-2.6 .7-2.5 .9-2.4 1.1-2.3 1.4-2.3 1.5-2.1 1.6-2 1.7-2 1.8-1.9 1.9-1.7 2-1.7 2.1-1.6 2.1-1.4 2.3-1.3 2.3-1.3 2.3-1.1 2.4-1.1 2.4-1 2.3-1.1 2.4-1 2.4-1.1 2.4-1 2.4-1 2.4-.9 2.4-1 2.4-1 2.4-.9 2.5-1 2.4-.9 2.4-1 2.4-.9 2.4-1 2.5-.9 2.4-.9 2.4-1 2.5-.9 2.4-.9 2.4-.9 2.5-.9 2.4-.8 2.5-.8z"/><path id="m1a" d="M206.2 180.9l2.7-.8 2.5-.8 2.7-.8 2.6-.7 2.7-.8 2.8-.7 2.8-.7 2.8-.6 2.9-.6 2.9-.5 2.8-.5 2.8-.4 2.9-.3 3-.3 3.1-.3 3.2-.1 3.1 0 3.2 .1 3.1 .2 2.9 .3 3.1 .3 3 .5 3.1 .5 3.1 .7 3.3 .9 3.2 1 3.3 1.2 3.1 1.4 2.8 1.4 2.8 1.5 2.6 1.5 2.6 1.5 2.4 1.6 2.4 1.6 2.4 1.6 2.4 1.8 2.5 1.9 2.3 1.9 2.3 2 2.2 2 2.2 2 2 2 2.1 2.1 1.9 2.1 2 2.1 1.9 2.3 1.9 2.3 1.9 2.3 1.8 2.5 1.8 2.6 1.7 2.6 1.6 2.7 1.6 2.8 1.4 2.8 1.2 2.7 1.2 2.7 1.1 2.6 1.1 2.6 1 2.5 .9 2.5 1 2.5 .9 2.5 1 2.5 .9 2.6 .9 2.6 .9 2.7 .9 2.7 .9 2.8 .8 2.9 .7 3 .6 2.9 .6 2.9 .5 2.9 .4 2.9 .4 3.1 .3 3 .2 3.1 .1 3.2 0 3-.1 3.1-.2 3.1-.3 3-.4 3.1-.5 3.1-.6 3.1-.7 3.3-1 3.4-1.2 3.2-1.3 3.2-1.5 3.1-1.7 3-1.7 2.9-1.9 2.7-1.9 2.6-2.1 2.6-2.2 2.5-2.4 2.4-2.5 2.3-2.8 2.3-2.9 2.1-2.9 1.8-2.7 1.5-2.5 1.4-2.5 1.3-2.4 1.3-2.4 1.2-2.5 1.3-2.6 1.2-2.6 1.2-2.6 1.1-2.5 1.1-2.6 1.1-2.5 1-2.6 1-2.5 .9-2.6 1-2.6 .9-2.6 .9-2.6 .9-2.5 .9-2.6 .8-2.6 .8-2.5 .8-2.6 .8-2.5 .8-2.6 .7-2.5 .8-2.6 .7-2.6 .7-2.6 .8-2.6 .7-2.6 .7-2.6 .6-2.7 .7-2.7 .7-2.7 .6-2.6 .5-2.7 .6-2.7 .5-2.6 .6-2.7 .5-2.8 .4-2.7 .5-2.7 .4-2.8 .4-2.8 .3-2.8 .4-2.8 .2-2.8 .3-2.8 .2-2.8 .1-2.8 .1-2.8 .1-2.8 .1-2.8 0-2.8 0-2.8 0-2.8-.1-2.8-.1-2.8-.2-2.8-.2-2.7-.2-2.8-.2-2.8-.3-2.8-.4-2.8-.3-2.9-.5-2.8-.4-2.8-.5-2.8-.6-2.8-.6-2.9-.7-2.9-.8-3-.8-3.1-1.1-3.3-1.3-3.5-1.6-3.4-2-3.1-2.1-2.7-2.1-2.4-2.1-2.2-2.1-2.2-2.1-2.4-2.5-2.5-3-2.6-3.8-2-4.2-1.4-3.9-1-3.6-.6-3.5-.5-3.5-.3-3.8 0-3.8 .3-3.6 .5-3.3 .6-3.3 .8-3.6 1.3-3.9 1.3-3.1 1.1-2.4 1-2.2 .8-2 .7-1.9 .7-2 .7-2.3 .7-2.4 .7-2.3 .6-2.2 .6-2.2 .5-2.2 .4-2.1 .4-2.1 .3-2.1 .3-2.1 .1-2.1 .1-2.1 .1-2.2 0-2.2-.1-2.3 0-2.3-.2-2.4-.1-2.3-.2-2.1-.3-2.1-.3-2-.4-2.3-.5-2.4-.6-2.9-.7-4.1 .1-5.2 .7-4.7 1.1-4 1.4-3.8 1.8-3.6 2-3.3 2-3 2.1-2.7 2.3-2.6 2.4-2.4 2.5-2.4 2.7-2.2 2.7-2 2.8-1.9 3-1.8 2.9-1.5 2.8-1.4 2.5-1.2 2.5-1 2.4-1.1 2.5-1.1 2.5-1.1 2.4-1 2.5-1.1 2.5-1 2.5-1 2.4-1 2.5-.9 2.5-1 2.4-1 2.5-.9 2.4-1 2.4-.9 2.5-.9 2.4-1 2.5-.9 2.5-1 2.5-.9 2.5-.9 2.6-.9 2.6-.9 2.6-.9z"/><path id="m1b" d="M215.9 211.2l2.4-.7 2.3-.8 2.4-.7 2.3-.6 2.3-.7 2.3-.6 2.3-.5 2.2-.5 2.2-.4 2.3-.4 2.3-.4 2.3-.4 2.2-.2 2.2-.3 2.1-.1 2.1-.1 2 0 2 .1 2.1 .1 2.3 .2 2.1 .3 2.1 .3 2 .3 1.9 .4 1.9 .5 1.6 .5 1.7 .6 1.6 .8 1.8 .9 1.8 1 1.9 1 1.9 1.2 1.9 1.2 2 1.3 1.8 1.3 1.8 1.3 1.7 1.3 1.7 1.4 1.7 1.4 1.6 1.5 1.6 1.5 1.7 1.6 1.6 1.7 1.6 1.7 1.5 1.7 1.5 1.7 1.4 1.7 1.3 1.7 1.3 1.7 1.2 1.7 1.1 1.7 1.1 1.8 .9 1.7 1 1.9 .9 2 .9 2.1 .9 2.2 .9 2.2 .9 2.3 .9 2.3 1 2.4 .9 2.4 .8 2.3 .9 2.3 .8 2.3 .7 2.3 .8 2.2 .6 2.1 .6 2.1 .5 2.2 .5 2.1 .4 2.2 .4 2.3 .3 2.1 .3 2.2 .2 2.1 .1 2.1 .1 2 0 2.2-.1 2.1-.1 2.1-.2 2.2-.3 2-.3 2.1-.4 1.9-.4 1.8-.5 1.6-.5 1.7-.7 1.6-.8 1.5-.8 1.6-1 1.6-1.1 1.6-1.1 1.5-1.2 1.5-1.3 1.4-1.2 1.3-1.3 1.1-1.2 1.1-1.4 .9-1.5 1-1.8 1-2 1.1-2.2 1.1-2.2 1.2-2.2 1.1-2.1 1.1-2.2 1-2.1 1-2.2 .9-2.2 1-2.2 .9-2.3 .9-2.3 .9-2.3 .9-2.3 .8-2.3 .8-2.4 .9-2.3 .8-2.4 .7-2.3 .8-2.4 .8-2.4 .7-2.4 .8-2.5 .7-2.4 .7-2.4 .7-2.5 .7-2.4 .7-2.4 .7-2.4 .7-2.4 .6-2.4 .6-2.4 .6-2.4 .6-2.4 .5-2.4 .5-2.4 .6-2.4 .4-2.4 .5-2.5 .5-2.4 .4-2.4 .4-2.3 .3-2.4 .4-2.4 .3-2.3 .2-2.4 .3-2.4 .2-2.4 .1-2.4 .2-2.4 .1-2.4 .1-2.4 0-2.4 0-2.4 0-2.4 0-2.4-.1-2.4-.1-2.4-.1-2.4-.2-2.4-.2-2.4-.2-2.4-.2-2.3-.3-2.3-.3-2.3-.4-2.3-.3-2.3-.5-2.3-.4-2.3-.5-2.2-.5-2.1-.6-2-.6-1.8-.6-1.6-.6-1.2-.6-1.1-.6-1.2-.8-1.4-1.1-1.5-1.4-1.6-1.4-1.5-1.5-1.3-1.3-.8-.9-.4-.5-.2-.5-.3-1-.4-1.4-.3-1.6-.2-1.6-.1-1.5 0-1.3 .1-1.7 .3-1.8 .3-1.8 .3-1.4 .4-1.1 .7-1.7 1.1-2.3 1.1-2.6 1.2-2.8 1.1-2.9 .9-2.9 .9-2.7 .8-2.6 .8-2.7 .7-2.8 .8-2.8 .6-2.9 .7-3 .5-3 .5-3.1 .3-3 .3-3.1 .1-3.1 .1-3 0-3-.1-2.9-.1-2.8-.1-2.8-.2-2.9-.3-3.1-.4-3.1-.5-3.1-.5-2.8-.6-2.7-.4-2.2-.3-1 0 0 .1-.5 .3-.9 .4-1.2 .5-1 .7-1.1 .9-1.3 1.1-1.4 1.2-1.4 1.2-1.2 1.3-1.2 1.4-1.1 1.4-1.1 1.5-1 1.5-.9 1.6-.9 2-.9 2.1-1 2.3-1 2.4-1 2.3-1 2.2-1 2.3-1 2.4-1 2.3-.9 2.3-1 2.4-.9 2.4-1 2.4-.9 2.3-.9 2.4-1 2.5-.9 2.4-.9 2.4-1 2.4-.9 2.4-.9 2.3-.9 2.4-.9 2.4-.8 2.3-.9 2.3-.8 2.3-.7z"/></defs><use href="#m1" stroke="#3474ae" stroke-width="35.1"/><g stroke="#b9e0f5" stroke-dasharray="3.6 5"><use href="#m1" stroke-width="29.3"/><use href="#m1" stroke="#3474ae" stroke-dasharray="none" stroke-width="18.2"/><use href="#m1" stroke-width="18.2" stroke-dashoffset="3.4"/><use href="#m1" stroke="#3474ae" stroke-dasharray="none" stroke-width="5.9"/><use href="#m1" stroke-width="5.9" stroke-dashoffset="0.9"/></g><g stroke-linecap="round" stroke-dasharray="0 8.6"><use href="#m1a" stroke="#3576b0" stroke-width="8.2"/><use href="#m1a" stroke="#a5dcf6" stroke-width="5.3"/><use href="#m1b" stroke="#3576b0" stroke-width="8.2"/><use href="#m1b" stroke="#a5dcf6" stroke-width="5.3"/></g></g><g fill="none"><defs><path id="m2" d="M238.3 380.9l-2.5 .5-2.6 .6-2.5 .5-2.5 .5-2.6 .5-2.5 .5-2.6 .4-2.5 .4-2.6 .4-2.6 .3-2.5 .4-2.6 .2-2.6 .3-2.6 .2-2.6 .1-2.6 .2-2.5 .1-2.6 .1-2.6 0-2.6 0-2.6 0-2.6-.1-2.6 0-2.6-.2-2.6-.1-2.6-.2-2.5-.2-2.6-.2-2.6-.3-2.6-.3-2.5-.4-2.6-.4-2.5-.4-2.6-.5-2.5-.5-2.6-.6-2.5-.6-2.5-.7-2.5-.7-2.4-.9-2.4-.9-2.3-1.2-2.2-1.3-2.1-1.5-2.1-1.7-1.9-1.7-1.9-1.7-1.9-1.9-1.7-1.8-1.7-2-1.4-2.2"/><path id="m2a" d="M241.8 396.4l-2.6 .6-2.7 .5-2.6 .6-2.7 .5-2.7 .5-2.7 .5-2.7 .5-2.7 .4-2.8 .4-2.8 .4-2.8 .4-2.7 .2-2.8 .3-2.8 .2-2.8 .2-2.8 .2-2.8 .1-2.8 .1-2.8 0-2.8 0-2.7 0-2.8-.1-2.8-.1-2.8-.1-2.8-.1-2.7-.2-2.8-.3-2.8-.2-2.8-.3-2.8-.4-2.8-.3-2.8-.5-2.9-.5-2.8-.5-2.7-.6-2.9-.6-2.8-.7-2.9-.8-3.1-.9-3.1-1.1-3.3-1.3-3.5-1.7-3.3-2.1-3-2.1-2.6-2.1-2.4-2.1-2.2-2-2.2-2.2-2.4-2.6-2.5-3.1-1.9-2.9"/><path id="m2b" d="M234.9 365.4l-2.5 .5-2.4 .5-2.5 .5-2.4 .5-2.4 .5-2.4 .4-2.4 .4-2.4 .4-2.3 .4-2.4 .3-2.3 .3-2.4 .2-2.4 .2-2.3 .2-2.4 .2-2.4 .1-2.4 .1-2.4 .1-2.4 0-2.4 0-2.4 0-2.4-.1-2.4 0-2.4-.1-2.4-.2-2.4-.2-2.4-.1-2.3-.3-2.4-.2-2.3-.3-2.4-.3-2.2-.4-2.3-.4-2.3-.4-2.3-.5-2.3-.5-2.1-.5-2.1-.5-2-.6-1.7-.6-1.5-.6-1.2-.6-1.1-.7-1.2-.9-1.4-1.1-1.6-1.4-1.5-1.5-1.5-1.4-1.2-1.2-.7-.9-.9-1.5"/></defs><use href="#m2" stroke="#d9665e" stroke-width="35.1"/><g stroke="#fbe0d8" stroke-dasharray="3.6 5"><use href="#m2" stroke-width="29.3"/><use href="#m2" stroke="#d9665e" stroke-dasharray="none" stroke-width="18.2"/><use href="#m2" stroke-width="18.2" stroke-dashoffset="3.4"/><use href="#m2" stroke="#d9665e" stroke-dasharray="none" stroke-width="5.9"/><use href="#m2" stroke-width="5.9" stroke-dashoffset="0.9"/></g><g stroke-linecap="round" stroke-dasharray="0 8.6"><use href="#m2a" stroke="#d65a55" stroke-width="8.2"/><use href="#m2a" stroke="#fcd3cb" stroke-width="5.3"/><use href="#m2b" stroke="#d65a55" stroke-width="8.2"/><use href="#m2b" stroke="#fcd3cb" stroke-width="5.3"/></g></g><path d="M124.6 387.5L134.5 371.2" stroke="#1e8a4c" stroke-width="8" stroke-linecap="round" fill="none"/><path d="M170.4 399L175.3 384.3" stroke="#1e8a4c" stroke-width="8" stroke-linecap="round" fill="none"/><path d="M212.1 397.3L209.7 379.4" stroke="#1e8a4c" stroke-width="8" stroke-linecap="round" fill="none"/><path d="M141 222L144.5 184Q145 166 159 166Q173.5 166 174 184L178 218Z" fill="#a9cbe3"/><g fill="none"><defs><path id="m3" d="M135.6 197.6l-1.6-2.1-1.4-2.2-1.2-2.3-1-2.4-.8-2.5-.6-2.5-.3-2.6-.2-2.6 .1-2.6 .3-2.6 .5-2.6 .7-2.5 1-2.4 1.1-2.3 1.4-2.3 1.5-2.1 1.7-2 1.9-1.8 2-1.6 2.2-1.5 2.3-1.3 2.3-1.1 2.5-.8 2.5-.7 2.6-.4 2.6-.3 2.6 0 2.6 .3 2.6 .4 2.5 .7 2.5 .8 2.3 1.1 2.3 1.3 2.2 1.5 2 1.6 1.9 1.8 1.7 2 1.5 2.1 1.4 2.3 1.1 2.3 1 2.4 .7 2.5 .5 2.6 .3 2.6 .1 2.6-.2 2.6-.3 2.6-.6 2.5-.8 2.5-1 2.4-1.2 2.3-1.4 2.2-1.6 2.1"/><path id="m3a" d="M125.4 205.5l-1.9-2.6-2-3.1-1.7-3.3-1.5-3.4-1.1-3.5-.9-3.6-.5-3.7-.2-3.7 .1-3.7 .4-3.7 .8-3.7 1-3.5 1.4-3.5 1.6-3.3 1.9-3.2 2.2-3 2.5-2.8 2.6-2.6 2.9-2.4 3.1-2 3.2-1.9 3.4-1.5 3.5-1.3 3.6-.9 3.6-.6 3.7-.4 3.8 0 3.7 .4 3.6 .6 3.6 .9 3.5 1.3 3.4 1.5 3.2 1.9 3.1 2 2.9 2.4 2.6 2.6 2.5 2.8 2.2 3 1.9 3.2 1.6 3.3 1.4 3.5 1 3.5 .8 3.7 .4 3.7 .1 3.7-.2 3.7-.5 3.7-.9 3.6-1.1 3.5-1.5 3.4-1.7 3.3-2 3.1-1.9 2.6"/><path id="m3b" d="M145.9 189.8l-1.3-1.7-.8-1.2-.7-1.4-.6-1.4-.5-1.4-.3-1.5-.2-1.5-.1-1.5 0-1.5 .2-1.5 .3-1.4 .5-1.5 .5-1.4 .7-1.3 .7-1.3 .9-1.3 1-1.1 1.1-1 1.2-1 1.2-.8 1.3-.8 1.4-.6 1.4-.5 1.5-.4 1.5-.3 1.5-.1 1.4 0 1.5 .1 1.5 .3 1.5 .4 1.4 .5 1.4 .6 1.3 .8 1.2 .8 1.2 1 1.1 1 1 1.1 .9 1.3 .7 1.3 .7 1.3 .5 1.4 .5 1.5 .3 1.4 .2 1.5 0 1.5-.1 1.5-.2 1.5-.3 1.5-.5 1.4-.6 1.4-.7 1.4-.8 1.2-1.3 1.7"/></defs><use href="#m3" stroke="#d9665e" stroke-width="29.1"/><g stroke="#fbe0d8" stroke-dasharray="3.4 4.8"><use href="#m3" stroke-width="23.3"/><use href="#m3" stroke="#d9665e" stroke-dasharray="none" stroke-width="14.5"/><use href="#m3" stroke-width="14.5" stroke-dashoffset="3.3"/><use href="#m3" stroke="#d9665e" stroke-dasharray="none" stroke-width="4.7"/><use href="#m3" stroke-width="4.7" stroke-dashoffset="0.8"/></g><g stroke-linecap="round" stroke-dasharray="0 8.2"><use href="#m3a" stroke="#d65a55" stroke-width="8.2"/><use href="#m3a" stroke="#fcd3cb" stroke-width="5.3"/><use href="#m3b" stroke="#d65a55" stroke-width="8.2"/><use href="#m3b" stroke="#fcd3cb" stroke-width="5.3"/></g></g><path d="M140.5 143.7L149.6 160.5" stroke="#1e8a4c" stroke-width="8" stroke-linecap="round" fill="none"/><path d="M187.8 146.8L177.1 160.5" stroke="#1e8a4c" stroke-width="8" stroke-linecap="round" fill="none"/><path d="M122.2 187.2L140.5 188.7" stroke="#1e8a4c" stroke-width="8" stroke-linecap="round" fill="none"/><path d="M292.5 179.5L309.8 169.5 309.8 189.5Z" fill="#d9a93c" stroke="#d9a93c" stroke-width="2" stroke-linejoin="round"/><path d="M314.5 371.5L297.2 381.5 297.2 361.5Z" fill="#d9a93c" stroke="#d9a93c" stroke-width="2" stroke-linejoin="round"/><path d="M354 94.4L356.6 87" stroke="#e88a48" stroke-width="3.1" fill="none"/><path d="M356.6 87L361.6 73.1L372.6 66.2M361.6 73.1L357.5 60.8" stroke="#3aa878" stroke-width="3.1" fill="none" stroke-linecap="round" stroke-linejoin="round"/><path d="M325 100.8L318.2 93.9" stroke="#e88a48" stroke-width="3.1" fill="none"/><path d="M318.2 93.9L305.6 81.1L304.2 68.2M305.6 81.1L292.7 79.4" stroke="#3aa878" stroke-width="3.1" fill="none" stroke-linecap="round" stroke-linejoin="round"/><path d="M316.8 123.9L306.5 125.1" stroke="#e88a48" stroke-width="3.1" fill="none"/><path d="M306.5 125.1L287.4 127.2L276.3 120.4M287.4 127.2L278.1 136.3" stroke="#3aa878" stroke-width="3.1" fill="none" stroke-linecap="round" stroke-linejoin="round"/><path d="M329.5 144.4L325.4 150.7" stroke="#e88a48" stroke-width="3.1" fill="none"/><path d="M325.4 150.7L317.8 162.5L305.5 166.8M317.8 162.5L319 175.5" stroke="#3aa878" stroke-width="3.1" fill="none" stroke-linecap="round" stroke-linejoin="round"/><path d="M372.4 117.1L383.3 115.7" stroke="#e88a48" stroke-width="3.1" fill="none"/><path d="M383.3 115.7L403.7 113L414.9 119.6M403.7 113L412.8 103.7" stroke="#3aa878" stroke-width="3.1" fill="none" stroke-linecap="round" stroke-linejoin="round"/><path d="M361.1 143.4L366.8 151.2" stroke="#e88a48" stroke-width="3.1" fill="none"/><path d="M366.8 151.2L377.4 165.7L376.9 178.7M377.4 165.7L389.9 169.3" stroke="#3aa878" stroke-width="3.1" fill="none" stroke-linecap="round" stroke-linejoin="round"/><circle cx="344.6" cy="120.8" r="22.2" fill="none" stroke="#d8746a" stroke-width="13.5"/><circle cx="344.6" cy="120.8" r="22.2" fill="none" stroke="#f3c4b8" stroke-width="5.4" stroke-dasharray="1.6 2.2"/><path d="M350.3 104.8L353.8 94.9" stroke="#2f9660" stroke-width="3.9" stroke-linecap="round" fill="none"/><path d="M332.7 108.7L325.3 101.2" stroke="#2f9660" stroke-width="3.9" stroke-linecap="round" fill="none"/><path d="M327.7 122.7L317.3 123.9" stroke="#2f9660" stroke-width="3.9" stroke-linecap="round" fill="none"/><path d="M335.4 135.1L329.7 143.9" stroke="#2f9660" stroke-width="3.9" stroke-linecap="round" fill="none"/><path d="M361.5 118.6L371.9 117.2" stroke="#2f9660" stroke-width="3.9" stroke-linecap="round" fill="none"/><path d="M354.6 134.5L360.8 143" stroke="#2f9660" stroke-width="3.9" stroke-linecap="round" fill="none"/><path d="M477.2 183.7L475.2 177.3" stroke="#e88a48" stroke-width="2.8" fill="none"/><path d="M475.2 177.3L471.3 165.4L475.1 155.1M471.3 165.4L462.2 159.2" stroke="#3aa878" stroke-width="2.8" fill="none" stroke-linecap="round" stroke-linejoin="round"/><path d="M499.9 189.4L505.5 184" stroke="#e88a48" stroke-width="2.8" fill="none"/><path d="M505.5 184L515.9 174L526.8 172.9M515.9 174L517.5 163.1" stroke="#3aa878" stroke-width="2.8" fill="none" stroke-linecap="round" stroke-linejoin="round"/><path d="M462.2 201.5L454.2 200.4" stroke="#e88a48" stroke-width="2.8" fill="none"/><path d="M454.2 200.4L439.3 198.2L431.6 190.3M439.3 198.2L429.7 203.7" stroke="#3aa878" stroke-width="2.8" fill="none" stroke-linecap="round" stroke-linejoin="round"/><path d="M505.3 210.2L513.1 212.3" stroke="#e88a48" stroke-width="2.8" fill="none"/><path d="M513.1 212.3L527.7 216.1L534.4 224.9M527.7 216.1L537.8 211.8" stroke="#3aa878" stroke-width="2.8" fill="none" stroke-linecap="round" stroke-linejoin="round"/><path d="M467 218.6L460.5 223.9" stroke="#e88a48" stroke-width="2.8" fill="none"/><path d="M460.5 223.9L448.3 233.9L437.3 234.2M448.3 233.9L445.9 244.7" stroke="#3aa878" stroke-width="2.8" fill="none" stroke-linecap="round" stroke-linejoin="round"/><path d="M485 226.6L485.3 232.9" stroke="#e88a48" stroke-width="2.8" fill="none"/><path d="M485.3 232.9L485.9 244.8L479.5 253.7M485.9 244.8L493.1 253.1" stroke="#3aa878" stroke-width="2.8" fill="none" stroke-linecap="round" stroke-linejoin="round"/><circle cx="484" cy="204.6" r="17.6" fill="none" stroke="#d8746a" stroke-width="10.7"/><circle cx="484" cy="204.6" r="17.6" fill="none" stroke="#f3c4b8" stroke-width="4.3" stroke-dasharray="1.6 2.2"/><path d="M479.8 191.5L477.4 184.1" stroke="#2f9660" stroke-width="3.6" stroke-linecap="round" fill="none"/><path d="M494 195L499.5 189.7" stroke="#2f9660" stroke-width="3.6" stroke-linecap="round" fill="none"/><path d="M470.3 202.7L462.7 201.6" stroke="#2f9660" stroke-width="3.6" stroke-linecap="round" fill="none"/><path d="M497.3 208.1L504.8 210.1" stroke="#2f9660" stroke-width="3.6" stroke-linecap="round" fill="none"/><path d="M473.3 213.4L467.4 218.2" stroke="#2f9660" stroke-width="3.6" stroke-linecap="round" fill="none"/><path d="M484.7 218.4L485 226.1" stroke="#2f9660" stroke-width="3.6" stroke-linecap="round" fill="none"/><path d="M262.7 123.2l-25.1 8.8-2.1-6.2-14.5 16.2 21.4 3.7-2.1-6.2 25-8.7z" fill="#a51e26"/><path d="M437.3 161.6l-23.2-13.9 3.3-5.6-21.7-.7 10.9 18.7 3.4-5.5 23.3 13.8z" fill="#a51e26"/><path d="M89 211C40 235 10 310 76 367L76 359L91 378L76 391L76 383C-8 320 30 228 89 227Z" fill="#9e1c25"/>
<circle cx="144.7" cy="703.9" r="4.4" fill="#de2a22"/><circle cx="181.2" cy="701.7" r="4.2" fill="#de2a22"/><circle cx="203.1" cy="701.7" r="3.2" fill="#de2a22"/><circle cx="220.6" cy="698.8" r="5.2" fill="#de2a22"/><circle cx="168" cy="717" r="4.4" fill="#de2a22"/><circle cx="181.2" cy="717" r="4.4" fill="#de2a22"/><circle cx="206" cy="711.9" r="3.4" fill="#de2a22"/><circle cx="140.3" cy="726.5" r="3.6" fill="#de2a22"/><circle cx="244" cy="898.9" r="5" fill="#de2a22"/><circle cx="219.2" cy="904" r="2.9" fill="#de2a22"/><circle cx="200.4" cy="909.4" r="4.4" fill="#de2a22"/><circle cx="219.4" cy="914.5" r="4.8" fill="#de2a22"/><circle cx="190.2" cy="923.3" r="5.1" fill="#de2a22"/><circle cx="218.7" cy="928.4" r="4.4" fill="#de2a22"/><circle cx="225.2" cy="945.2" r="3.7" fill="#de2a22"/><circle cx="417.4" cy="883.8" r="3.7" fill="#de2a22"/><circle cx="435.7" cy="894.8" r="5.8" fill="#de2a22"/><circle cx="462.7" cy="899.2" r="4.4" fill="#de2a22"/><circle cx="448.1" cy="907.9" r="5.1" fill="#de2a22"/><circle cx="438.6" cy="927.7" r="5.5" fill="#de2a22"/><circle cx="458.3" cy="928.1" r="2.9" fill="#de2a22"/><circle cx="428.2" cy="699.6" r="5.6" fill="#de2a22"/><circle cx="405.9" cy="701.8" r="4.5" fill="#de2a22"/><circle cx="397.5" cy="711.7" r="4" fill="#de2a22"/><circle cx="410.2" cy="722.6" r="3.5" fill="#de2a22"/><circle cx="391.3" cy="728.5" r="5" fill="#de2a22"/><circle cx="432.5" cy="777.4" r="5.5" fill="#de2a22"/><circle cx="476.7" cy="772.6" r="4" fill="#de2a22"/><circle cx="504.7" cy="854.2" r="4.4" fill="#de2a22"/><circle cx="501.3" cy="913.3" r="5.2" fill="#de2a22"/><circle cx="475.5" cy="918.5" r="4.4" fill="#de2a22"/><path d="M83.3 815.7L78.6 812.7 72.6 813.2 68.3 809.1 62.8 808.4" fill="none" stroke="#e88a48" stroke-width="4" stroke-linejoin="round" stroke-linecap="round"/><path d="M62.8 808.4L29.2 801L13.1 785M29.2 801L7.3 810.5" fill="none" stroke="#3aa878" stroke-width="5.5" stroke-linejoin="round" stroke-linecap="round"/><path d="M62.8 808.4L29.2 801L13.1 785M29.2 801L7.3 810.5" fill="none" stroke="#6cc9a0" stroke-width="1.6" stroke-linejoin="round" stroke-linecap="round" opacity="0.7"/><path d="M197.4 729.1l-1.3 0-1.4 .1-1.4 0-1.4 .1-1.4 0-1.5 .1-1.4 .1-1.4 .1-1.4 .1-1.4 .1-1.4 .1-1.4 .1-1.4 .1-1.5 .2-1.3 .1-1.4 .2-1.4 .2-1.4 .1-1.4 .2-1.3 .2-1.4 .3-1.3 .2-1.3 .2-1.3 .3-1.2 .2-1.3 .3-1.3 .3-1.2 .4-1.3 .3-1.2 .4-1.2 .3-1.3 .5-1.3 .4-1.2 .4-1.3 .5-1.2 .5-1.3 .5-1.3 .5-1.3 .5-1.3 .6-1.4 .5-1.3 .6-1.4 .6-1.4 .6-1.3 .6-1.4 .5-1.3 .6-1.3 .6-1.3 .6-1.3 .6-1.3 .6-1.3 .6-1.2 .6-1.3 .6-1.3 .6-1.3 .7-1.3 .6-1.3 .7-1.2 .6-1.3 .7-1.3 .6-1.2 .7-1.3 .7-1.2 .6-1.2 .7-1.2 .7-1.2 .7-1.3 .8-1.2 .7-1.3 .7-1.2 .8-1.1 .7-1.1 .7-1.1 .7-1 .6-.9 .7-.9 .7-.7 .6-.6 .5-.5 .6-.6 .5-.4 .5-.2 .4-.3 .5-.3 .6-.3 .7-.3 .8-.2 .8-.3 1-.2 1.1-.3 1.1-.2 1.2-.2 1.3-.2 1.1-.1 .9 0 .7 0 .8 .1 .9 .1 1.2 .1 1.3 .2 1.5 .2 1.7 .1 1.8 .1 2 .1 2.2-.1 2.2-.2 2-.2 1.8-.3 1.7-.3 1.8-.3 1.7-.3 1.7-.4 1.8-.4 1.6-.4 1.7-.5 1.6-.5 1.7-.5 1.7-.6 1.8-.6 1.7-.7 1.7-.7 1.5-.6 1.6-.7 1.4-.6 1.4-.6 1.4-.6 1.3-.6 1.2-.5 1.2-.4 1.2-.6 1.3-.5 1.5-.6 1.5-.6 1.4-.5 1.3-.6 1.3-.4 1.2-.4 1.1-.4 1.1-.3 1-.2 .9-.2 .8-.1 .8-.1 .9-.1 1 0 1.1 0 1 0 1.1 .1 1 .1 1 .1 1 .2 1 .2 .9 .2 .8 .3 .8 .3 .8 .3 .8 .4 .8 .3 .6 .5 .7 .4 .6 .5 .7 .5 .6 .7 .6 .6 .7 .8 .7 .8 .6 .8 .6 .8 .6 .9 .6 1 .7 1 .5 1 .6 1.1 .6 1.1 .5 1.1 .5 1.1 .5 1.2 .6 1.1 .4 1.2 .5 1.2 .4 1.3 .5 1.2 .4 1.3 .4 1.3 .4 1.3 .4 1.3 .4 1.3 .4 1.3 .3 1.4 .4 1.3 .3 1.3 .3 1.4 .3 1.3 .3 1.4 .3 1.3 .3 1.4 .2 1.3 .3 1.4 .2 1.3 .3 1.4 .2 1.4 .2 1.4 .2 1.3 .1 1.4 .2 1.4 .2 1.4 .1 1.4 .1 1.3 .2 1.4 .1 1.4 .1 1.4 .1 1.3 0 1.4 .1 1.4 0 1.4 .1 1.3 0 1.4 0 1.4 0 1.3 0 1.4-.1 1.4 0 1.3-.1 1.4 0 1.4-.1 1.4-.1 1.4-.1 1.3-.1 1.4-.2 1.4-.1 1.4-.2 1.4-.1 1.4-.2 1.4-.2 1.4-.2 1.4-.2 1.4-.2 1.4-.2 1.4-.2 1.3-.3 1.4-.2 1.4-.3 1.4-.2 1.3-.3 1.4-.3 1.4-.3 1.4-.3 1.3-.3 1.4-.4 1.4-.3 1.4-.3 1.3-.4 1.4-.4 1.4-.3 1.4-.4 1.3-.4 1.4-.4 1.4-.4 1.4-.4 1.3-.4 1.4-.4 1.3-.5 1.4-.4 1.3-.5 1.4-.4 1.3-.5 1.4-.4 1.3-.5 1.3-.5 1.4-.5 1.3-.5 1.3-.5 1.3-.5 1.3-.5 1.3-.6 1.3-.5 1.4-.6 1.3-.5 1.3-.6 1.4-.6 1.3-.6 1.3-.6 1.4-.5 1.3-.6 1.3-.6 1.3-.6 1.2-.6 1.3-.6 1.2-.6 1.3-.7 1.2-.6 1.2-.6 1.2-.7 1.2-.6 1.2-.6 1.1-.7 1.1-.7 1.1-.7 1.1-.7 1.1-.7 1.1-.7 1-.8 1.1-.8 1.1-.8 1-.8 1-.8 1.1-.8 1-.9 1-.8 .9-.9 1-.8 1-.9 .9-.9 .9-.9 .9-1 .9-.9 .9-1 .8-.9 .8-.9 .8-1 .7-1 .8-.9 .7-1 .7-1.1 .7-1 .7-1.1 .6-1 .7-1.1 .6-1.1 .6-1 .5-1.2 .6-1 .5-1.2 .5-1 .4-1.1 .4-1 .3-1 .3-.9 .2-1.1 .3-1 .2-1 .1-1.1 .2-1.1 .1-1.1 .1-1.1 0-1.2 .1-1.2 0-1.2-.1-1.1 0-1-.1-.9-.1-.9-.2-.9-.3-1-.2-1.1-.4-1.2-.4-1.2-.4-1.3-.4-1.3-.5-1.5-.5-1.5-.5-1.4-.4-1.3-.5-1.3-.4-1.2-.5-1.2-.4-1.2-.5-1.2-.6-1.2-.5-1.2-.6-1.3-.6-1.3-.6-1.3-.7-1.4-.6-1.3-.6-1.3-.6-1.2-.5-1.1-.6-1.1-.6-1-.6-1-.6-1-.5-.9-.6-.8-.7-.9-.8-.9-.8-1-.8-.9-.8-.9-.9-.9-.9-.9-.9-.9-.9-.9-1-.8-.9-.9-1-.8-1-.8-1-.8-1-.8-1.1-.8-1-.8-1.1-.7-1-.8-1.1-.7-1.1-.7-1.1-.6-1.1-.7-1-.6-1.2-.6-1.1-.6-1.1-.6-1.1-.5-1.2-.5-1.1-.5-1.3-.6-1.2-.5-1.2-.4-1.2-.5-1.3-.4-1.3-.5-1.2-.4-1.3-.4-1.3-.4-1.3-.4-1.3-.4-1.3-.3-1.3-.4-1.3-.3-1.3-.3-1.3-.3-1.4-.3-1.4-.3-1.3-.3-1.4-.2-1.3-.2-1.3-.3-1.3-.2-1.3-.1-1.3-.2-1.3-.2-1.3-.1-1.3-.1-1.3-.1-1.3 0-1.3-.1-1.3 0-1.3 0z" fill="url(#gcell)"/><path d="M197.6 742.6l-1.3 0-1.3 .1-1.2 0-1.4 0-1.3 .1-1.4 .1-1.3 0-1.2 .1-1.4 .1-1.3 .1-1.4 .1-1.3 .1-1.3 .2-1.4 .1-1.2 .1-1.3 .2-1.3 .2-1.2 .1-1.4 .2-1.2 .2-1.2 .2-1.2 .2-1.1 .2-1.1 .2-1.1 .2-1.1 .3-1 .2-1 .3-1.1 .3-1 .3-1.1 .3-1 .4-1.1 .3-1.1 .4-1.2 .4-1.1 .5-1.2 .4-1.2 .5-1.2 .5-1.2 .5-1.3 .6-1.3 .5-1.4 .6-1.4 .6-1.3 .6-1.3 .5-1.2 .6-1.3 .5-1.2 .6-1.2 .5-1.3 .6-1.2 .6-1.2 .6-1.3 .6-1.2 .5-1.2 .7-1.2 .6-1.3 .6-1.2 .6-1.2 .6-1.2 .7-1.1 .6-1.2 .6-1.1 .6-1.2 .7-1.1 .6-1.1 .7-1.2 .7-1.2 .7-1.2 .7-1.2 .7-1 .6-.9 .6-1 .6-.6 .5-.6 .4-.6 .4-.3 .3-.1 .1 0 0 0 0 .1-.1 .3-.5 .2-.4 .1 0-.1 0 0 .2-.1 .2-.1 .4-.1 .7-.2 .8-.2 1-.2 1.1-.1 .8 0 .1 0-.1 0 .1 0 .5 .1 .7 .1 1.2 .2 1.5 .2 1.8 .2 2.2 .1 2.6 .1 2.8-.2 2.9-.2 2.5-.3 2.1-.2 2.1-.4 2-.3 2-.4 1.9-.5 2-.4 1.9-.5 1.9-.5 1.8-.5 1.8-.6 2-.8 2.1-.7 2.1-.8 1.9-.7 1.8-.8 1.7-.7 1.6-.6 1.4-.6 1.3-.6 1.3-.5 1.1-.4 .9-.4 1.1-.5 1.2-.6 1.6-.6 1.5-.6 1.5-.5 1.2-.5 1.2-.4 1-.3 .9-.2 .6-.2 .6-.1 .4 0 .2 0 .1-.1 .2 0 .6 0 .6 0 .6 0 .7 0 .5 .1 .4 .1 .6 0 .4 .1 .4 .1 .2 .1 .3 0 .2 .1 .1 .1 .2 0 0 0 .1 0 0 .1 .1 .1 .1 .2 .2 .3 .3 .4 .3 .4 .4 .4 .3 .5 .3 .6 .4 .7 .4 .7 .5 .6 .3 .8 .4 .9 .5 .8 .4 .9 .4 1 .4 .9 .4 1 .4 1.1 .4 1 .3 1.1 .4 1.1 .4 1.2 .3 1.1 .4 1.2 .3 1.2 .4 1.2 .3 1.2 .3 1.2 .3 1.2 .3 1.2 .3 1.3 .2 1.2 .3 1.2 .2 1.2 .3 1.3 .2 1.2 .2 1.3 .2 1.2 .2 1.3 .2 1.3 .2 1.2 .1 1.3 .2 1.3 .1 1.2 .2 1.3 .1 1.3 .1 1.2 .1 1.3 .1 1.3 .1 1.2 .1 1.3 0 1.2 .1 1.2 0 1.3 0 1.2 0 1.2 0 1.3 0 1.2 0 1.2-.1 1.3 0 1.3-.1 1.2-.1 1.3-.1 1.3-.1 1.2-.1 1.3-.1 1.3-.1 1.3-.2 1.3-.1 1.3-.2 1.3-.2 1.3-.1 1.3-.2 1.3-.2 1.3-.2 1.3-.2 1.3-.3 1.3-.2 1.2-.2 1.3-.3 1.3-.2 1.3-.3 1.3-.3 1.3-.3 1.3-.3 1.3-.3 1.2-.3 1.3-.3 1.3-.4 1.3-.3 1.3-.4 1.3-.3 1.4-.4 1.3-.4 1.3-.3 1.2-.4 1.3-.4 1.3-.4 1.3-.4 1.3-.4 1.3-.5 1.2-.4 1.3-.4 1.3-.5 1.2-.4 1.3-.5 1.2-.4 1.3-.5 1.2-.5 1.3-.5 1.2-.5 1.2-.5 1.2-.5 1.3-.5 1.3-.5 1.3-.6 1.3-.6 1.3-.5 1.3-.6 1.3-.6 1.2-.5 1.2-.6 1.2-.5 1.2-.6 1.2-.6 1.2-.5 1.1-.6 1.1-.6 1.2-.6 1-.5 1.1-.6 1-.6 1-.5 .9-.6 .9-.6 .9-.5 .9-.7 .9-.6 1-.7 .9-.6 .9-.7 .9-.7 .9-.7 .9-.7 .8-.7 .9-.8 .8-.7 .9-.8 .7-.7 .9-.8 .7-.7 .8-.8 .7-.8 .7-.8 .7-.7 .6-.8 .6-.7 .6-.8 .6-.8 .6-.7 .6-.9 .5-.8 .6-.9 .5-.8 .5-.9 .5-.8 .4-.8 .5-.9 .4-.8 .4-.9 .3-.8 .3-.6 .3-.8 .1-.5 .1-.4 .2-.7 .2-.6 .1-.5 .1-.7 .1-.8 0-.7 .1-.7 0-.9 .1-.9 0-.8-.1-.8 0-.5 0-.3-.1-.3 0-.3-.2-.5-.2-.8-.2-.9-.3-1-.4-1.1-.4-1.3-.5-1.5-.6-1.6-.4-1.4-.4-1.2-.4-1.1-.4-1-.3-1-.4-1-.5-1.1-.4-1-.5-1.1-.5-1.1-.6-1.2-.6-1.4-.7-1.4-.6-1.2-.5-1.2-.6-1.1-.4-.9-.5-.9-.4-.7-.4-.7-.4-.7-.3-.5-.3-.4-.5-.6-.6-.7-.6-.8-.6-.6-.7-.8-.7-.8-.7-.7-.7-.6-.8-.8-.8-.7-.7-.7-.8-.6-.9-.7-.8-.7-.9-.6-.9-.8-.9-.6-.9-.6-.9-.7-.9-.6-.9-.5-.9-.6-.9-.5-.8-.5-1-.5-.9-.5-.8-.4-1-.5-.9-.4-.9-.4-1.1-.5-1-.4-1.1-.4-1.1-.4-1.1-.4-1.1-.4-1.1-.4-1.2-.4-1.1-.3-1.2-.4-1.1-.3-1.2-.3-1.1-.3-1.2-.3-1.2-.3-1.1-.2-1.3-.3-1.2-.3-1.3-.2-1.2-.2-1.2-.2-1.2-.2-1.1-.2-1.1-.2-1.1-.1-1-.1-1.2-.1-1-.1-1.1-.1-1.1 0-1.1-.1-1.2 0-1.1 0z" fill="none" stroke="#7fb0d4" stroke-width="9" opacity="0.5" filter="url(#ib2)"/><ellipse cx="213.3" cy="821.5" rx="35.8" ry="27.8" transform="rotate(-20 213.3 821.5)" fill="url(#gnucl)"/><g fill="none"><defs><path id="m4" d="M197.4 729.1l-2.6 .1-2.6 0-2.6 .2-2.5 .1-2.6 .2-2.6 .2-2.6 .2-2.6 .3-2.6 .3-2.6 .3-2.5 .4-2.6 .4-2.5 .5-2.6 .6-2.5 .7-2.5 .7-2.4 .8-2.5 .8-2.4 .9-2.4 1-2.4 1-2.4 1-2.4 1-2.4 1-2.4 1.1-2.4 1-2.3 1.1-2.4 1.1-2.3 1.1-2.4 1.2-2.3 1.2-2.3 1.1-2.3 1.2-2.3 1.3-2.2 1.3-2.3 1.3-2.2 1.3-2.2 1.3-2.3 1.4-2.1 1.4-2.1 1.5-1.9 1.8-1.6 2.1-.9 2.4-.7 2.5-.4 2.5-.4 2.6 0 2.6 .2 2.6 .3 2.6 .2 2.5 .1 2.6 0 2.6-.2 2.6-.3 2.6-.4 2.6-.4 2.5-.5 2.6-.6 2.5-.7 2.5-.7 2.5-.8 2.5-.9 2.4-.9 2.4-1.1 2.4-1 2.4-1.1 2.4-1.1 2.3-.9 2.4-1 2.5-1 2.4-.9 2.4-1 2.4-.8 2.5-.6 2.5-.2 2.6 0 2.6 .2 2.5 .5 2.6 .8 2.5 1.1 2.3 1.6 2.1 1.8 1.8 2 1.7 2.2 1.4 2.2 1.4 2.3 1.2 2.3 1.1 2.4 1 2.5 .9 2.4 .9 2.5 .8 2.5 .7 2.5 .7 2.5 .7 2.5 .6 2.5 .5 2.6 .5 2.5 .5 2.6 .4 2.6 .4 2.5 .4 2.6 .3 2.6 .3 2.6 .2 2.6 .2 2.6 .1 2.6 .1 2.6 .1 2.6 0 2.6 0 2.6-.1 2.5-.2 2.6-.1 2.6-.3 2.6-.2 2.6-.3 2.6-.3 2.5-.4 2.6-.4 2.6-.4 2.5-.5 2.6-.4 2.5-.6 2.6-.5 2.5-.6 2.5-.6 2.5-.7 2.5-.6 2.5-.7 2.5-.8 2.5-.7 2.5-.8 2.5-.8 2.4-.8 2.5-.8 2.4-.9 2.5-.9 2.4-.9 2.4-1 2.4-1 2.4-1 2.4-1 2.4-1.1 2.3-1 2.4-1.1 2.4-1.1 2.3-1.1 2.3-1.2 2.3-1.2 2.3-1.2 2.3-1.3 2.2-1.4 2.1-1.4 2.1-1.5 2.1-1.6 2.1-1.6 2-1.6 1.9-1.7 1.9-1.8 1.9-1.8 1.8-1.9 1.7-1.9 1.7-2 1.5-2.1 1.5-2.2 1.4-2.1 1.3-2.3 1.2-2.3 1.2-2.3 1-2.4 .8-2.5 .6-2.5 .4-2.6 .3-2.5 .1-2.6-.1-2.6-.3-2.6-.6-2.5-.7-2.5-.8-2.5-.9-2.5-.8-2.4-.8-2.5-.9-2.4-1-2.4-1-2.4-1.1-2.4-1.1-2.3-1.1-2.4-1.2-2.3-1.2-2.3-1.3-2.2-1.5-2.2-1.6-2-1.7-1.9-1.8-1.9-1.9-1.8-1.9-1.8-2-1.6-2-1.7-2.1-1.5-2.1-1.5-2.2-1.5-2.2-1.3-2.2-1.3-2.3-1.2-2.4-1.1-2.4-1-2.4-1-2.4-.9-2.5-.8-2.4-.8-2.5-.8-2.5-.6-2.6-.7-2.5-.5-2.5-.6-2.6-.4-2.5-.5-2.6-.4-2.6-.3-2.6-.2-2.6-.1-2.6-.1z"/><path id="m4a" d="M197.5 739.9l-2.4 0-2.4 .1-2.5 .1-2.5 .2-2.4 .2-2.5 .2-2.5 .2-2.4 .2-2.4 .3-2.5 .3-2.3 .4-2.4 .4-2.2 .4-2.2 .5-2.2 .6-2.2 .6-2.2 .7-2.2 .8-2.2 .8-2.3 .9-2.3 1-2.3 .9-2.4 1-2.3 1.1-2.3 1-2.3 1-2.3 1-2.2 1.1-2.3 1.1-2.2 1.1-2.3 1.1-2.2 1.1-2.2 1.2-2.2 1.2-2.1 1.1-2.1 1.3-2.2 1.3-2.1 1.2-2.1 1.3-1.8 1.2-1.4 1-.7 .6-.1 .1-.2 .5-.3 1.5-.4 2-.3 1.6 0 1.3 .2 2 .3 2.6 .3 2.9 .1 3.2 0 3.2-.2 3.1-.4 3-.4 2.9-.5 2.9-.6 2.8-.7 2.8-.7 2.8-.8 2.7-.9 2.8-1 2.9-1.1 2.7-1.1 2.6-1.1 2.4-1 2.4-1 2.2-.9 2.1-.9 2.4-1 2.5-1 2.3-.8 2.1-.6 1.8-.3 1.3-.1 1.3 0 1.7 .1 1.6 .3 1.4 .3 1 .4 .8 .5 .7 .9 .8 1.2 1 1.5 1 1.7 1 1.8 1 1.9 .9 2.1 .9 2.1 .8 2.1 .7 2.3 .7 2.3 .7 2.3 .7 2.3 .6 2.3 .5 2.4 .6 2.4 .4 2.3 .5 2.4 .4 2.4 .3 2.4 .4 2.4 .3 2.5 .2 2.4 .2 2.4 .2 2.4 .2 2.4 0 2.4 .1 2.4 0 2.4 0 2.4-.1 2.4-.1 2.4-.2 2.4-.2 2.5-.3 2.4-.2 2.5-.3 2.4-.4 2.4-.3 2.4-.4 2.5-.5 2.4-.4 2.4-.5 2.4-.6 2.4-.5 2.4-.6 2.4-.6 2.4-.7 2.4-.6 2.4-.7 2.4-.7 2.3-.8 2.4-.7 2.4-.8 2.3-.8 2.3-.9 2.4-.8 2.3-.9 2.3-.9 2.3-1 2.3-.9 2.3-1 2.3-1.1 2.3-1 2.3-1 2.2-1.1 2.2-1 2.2-1.1 2.1-1.1 2.1-1.1 2-1.2 1.9-1.2 1.9-1.2 1.9-1.4 1.9-1.4 1.8-1.4 1.8-1.4 1.7-1.6 1.7-1.5 1.6-1.6 1.5-1.6 1.5-1.7 1.4-1.6 1.3-1.8 1.2-1.7 1.2-1.9 1.1-1.8 1-1.9 .9-1.9 .8-1.8 .5-1.7 .4-1.6 .3-1.8 .2-1.9 .1-2-.1-1.8-.1-1.5-.4-1.6-.6-2-.8-2.3-.8-2.4-.8-2.5-.8-2.3-.8-2.1-.8-2.1-1-2.2-1-2.2-1.1-2.3-1.1-2.3-1-2.1-1-1.9-1-1.7-1-1.5-1.3-1.5-1.4-1.6-1.5-1.6-1.6-1.6-1.6-1.5-1.7-1.4-1.8-1.4-1.8-1.4-1.9-1.3-1.9-1.3-1.9-1.1-1.9-1.1-1.9-1-2-1-2.1-.8-2.1-.9-2.2-.8-2.3-.8-2.2-.7-2.3-.7-2.3-.6-2.3-.6-2.3-.5-2.4-.5-2.3-.4-2.3-.4-2.3-.4-2.3-.2-2.2-.2-2.3-.1-2.3-.1z"/><path id="m4b" d="M197.3 718.3l-2.8 .1-2.7 .1-2.7 .1-2.7 .1-2.7 .2-2.8 .2-2.7 .3-2.7 .3-2.7 .3-2.7 .3-2.8 .5-2.8 .4-2.8 .6-2.9 .6-2.8 .7-2.8 .8-2.8 .9-2.7 1-2.6 1-2.6 1-2.5 1-2.5 1.1-2.4 1-2.4 1-2.4 1.1-2.5 1.1-2.5 1.1-2.4 1.2-2.4 1.1-2.5 1.2-2.4 1.2-2.4 1.3-2.4 1.2-2.4 1.3-2.4 1.4-2.3 1.3-2.3 1.4-2.4 1.4-2.3 1.5-2.6 1.6-2.7 2-3.2 2.9-2.9 4.1-1.8 4.3-.9 3.6-.6 3.1-.5 3.5 0 3.9 .3 3.2 .2 2.6 .3 2.2 0 2 0 2-.1 2-.3 2.2-.3 2.2-.4 2.3-.5 2.2-.5 2.3-.6 2.2-.7 2.3-.6 2.1-.8 2.1-.8 2.1-1 2.2-1 2.2-1.1 2.4-1.1 2.6-1.1 2.6-.9 2.5-1 2.3-1 2.5-1 2.7-1.1 3.2-.8 3.8-.4 3.8 0 3.5 .3 3.6 .7 3.7 1.3 3.9 1.9 3.9 2.6 3.5 2.7 2.8 2.8 2.3 2.8 1.9 2.8 1.7 2.8 1.5 2.7 1.2 2.8 1.2 2.8 1.1 2.7 .9 2.7 .9 2.7 .8 2.7 .7 2.7 .7 2.7 .7 2.7 .6 2.7 .5 2.8 .6 2.7 .4 2.7 .4 2.8 .4 2.7 .3 2.8 .3 2.7 .3 2.8 .2 2.8 .1 2.7 .1 2.8 .1 2.8 0 2.8 0 2.8-.1 2.8-.2 2.8-.2 2.7-.2 2.7-.3 2.8-.3 2.7-.3 2.7-.4 2.7-.4 2.7-.4 2.7-.5 2.7-.6 2.7-.5 2.6-.6 2.7-.6 2.6-.7 2.7-.6 2.6-.7 2.6-.8 2.6-.7 2.6-.8 2.6-.8 2.5-.8 2.6-.9 2.6-.9 2.5-.9 2.6-.9 2.5-1 2.6-1 2.5-1 2.4-1.1 2.5-1 2.4-1.1 2.5-1.1 2.4-1.1 2.5-1.1 2.5-1.2 2.4-1.3 2.5-1.2 2.5-1.4 2.5-1.5 2.5-1.5 2.4-1.6 2.4-1.7 2.3-1.7 2.3-1.8 2.2-1.8 2.2-1.9 2.1-2 2.1-2.1 2-2.1 2-2.2 1.9-2.4 1.9-2.4 1.7-2.5 1.6-2.5 1.5-2.6 1.5-2.7 1.3-2.8 1.3-3 1.1-3.2 .8-3.4 .5-3.4 .3-3.2 .2-3.3-.1-3.3-.4-3.7-.8-3.5-.9-3-.9-2.6-.8-2.5-.8-2.4-.9-2.7-1-2.7-1.1-2.7-1.2-2.6-1.1-2.5-1.1-2.4-1.2-2.4-1.2-2.6-1.4-2.7-1.7-2.7-1.9-2.8-2-2.5-2-2.3-2.1-2.2-2.2-2.1-2.2-2-2.2-1.9-2.3-1.8-2.3-1.8-2.4-1.6-2.4-1.7-2.6-1.5-2.6-1.5-2.6-1.4-2.7-1.2-2.7-1.2-2.7-1.1-2.7-1-2.7-.9-2.7-.8-2.7-.8-2.7-.8-2.8-.7-2.7-.6-2.7-.6-2.8-.5-2.8-.5-2.8-.4-2.9-.3-2.9-.3-2.9-.1-2.9-.1z"/></defs><use href="#m4" stroke="#3474ae" stroke-width="23.8"/><g stroke="#b9e0f5" stroke-dasharray="2.4 3.2"><use href="#m4" stroke-width="20"/><use href="#m4" stroke="#3474ae" stroke-dasharray="none" stroke-width="12.4"/><use href="#m4" stroke-width="12.4" stroke-dashoffset="2.2"/><use href="#m4" stroke="#3474ae" stroke-dasharray="none" stroke-width="4"/><use href="#m4" stroke-width="4" stroke-dashoffset="0.6"/></g><g stroke-linecap="round" stroke-dasharray="0 5.6"><use href="#m4a" stroke="#3576b0" stroke-width="5.4"/><use href="#m4a" stroke="#a5dcf6" stroke-width="3.5"/><use href="#m4b" stroke="#3576b0" stroke-width="5.4"/><use href="#m4b" stroke="#a5dcf6" stroke-width="3.5"/></g></g><g fill="none"><defs><path id="m5" d="M93.1 793.3l-.3 2.5-.3 2.6-.4 2.5-.5 2.5-.6 2.5-.6 2.5-.6 2.5-.8 2.4-.8 2.4-.9 2.4-.9 2.4-1 2.4-1.1 2.3-1.1 2.3-1 2.4-.9 2.3-1 2.4-.9 2.4-1 2.4-.9 2.3-.8 2.5"/><path id="m5a" d="M103.8 794.4l-.3 2.7-.3 2.8-.5 2.9-.5 2.8-.6 2.8-.7 2.7-.7 2.7-.9 2.7-.9 2.8-1 2.8-1.1 2.6-1.1 2.5-1.1 2.4-1 2.3-.9 2.1-.9 2.2-.9 2.4-1 2.4-.9 2.3-.8 2-.7 2.2"/><path id="m5b" d="M82.3 792.2l-.2 2.4-.3 2.2-.4 2.2-.4 2.3-.5 2.2-.5 2.2-.6 2.2-.7 2.2-.6 2.1-.8 2-.9 2.1-.9 2.2-1 2.2-1.1 2.4-1.1 2.6-1.1 2.5-.9 2.4-.9 2.3-1 2.5-1.1 2.8-.9 2.6"/></defs><use href="#m5" stroke="#d9665e" stroke-width="23.8"/><g stroke="#fbe0d8" stroke-dasharray="2.4 3.2"><use href="#m5" stroke-width="20"/><use href="#m5" stroke="#d9665e" stroke-dasharray="none" stroke-width="12.4"/><use href="#m5" stroke-width="12.4" stroke-dashoffset="2.2"/><use href="#m5" stroke="#d9665e" stroke-dasharray="none" stroke-width="4"/><use href="#m5" stroke-width="4" stroke-dashoffset="0.6"/></g><g stroke-linecap="round" stroke-dasharray="0 5.6"><use href="#m5a" stroke="#d65a55" stroke-width="5.4"/><use href="#m5a" stroke="#fcd3cb" stroke-width="3.5"/><use href="#m5b" stroke="#d65a55" stroke-width="5.4"/><use href="#m5b" stroke="#fcd3cb" stroke-width="3.5"/></g></g><g fill="none"><defs><path id="m6" d="M283.1 785.6l-.9-2.4-.9-2.4-1-2.3-1-2.4-1.1-2.3-1.1-2.3-1.1-2.3-1.1-2.3-1.2-2.2-1.4-2.2-1.5-2.1-1.6-1.9-1.7-1.9-1.8-1.9-1.8-1.7-1.9-1.8"/><path id="m6a" d="M272.9 789.2l-.8-2.3-.8-2.1-.9-2-.9-2.2-1.1-2.2-1.1-2.3-1-2.2-1-2-1-1.8-.9-1.6-1.1-1.5-1.3-1.5-1.4-1.6-1.5-1.5-1.6-1.5-1.7-1.6"/><path id="m6b" d="M293.3 782l-.9-2.6-1.1-2.6-1.1-2.6-1.1-2.6-1.1-2.4-1.1-2.3-1.2-2.4-1.2-2.6-1.5-2.6-1.7-2.8-1.9-2.7-2-2.4-2-2.2-2-2.1-2.1-2-2.1-1.9"/></defs><use href="#m6" stroke="#d9665e" stroke-width="23.8"/><g stroke="#fbe0d8" stroke-dasharray="2.4 3.2"><use href="#m6" stroke-width="20"/><use href="#m6" stroke="#d9665e" stroke-dasharray="none" stroke-width="12.4"/><use href="#m6" stroke-width="12.4" stroke-dashoffset="2.2"/><use href="#m6" stroke="#d9665e" stroke-dasharray="none" stroke-width="4"/><use href="#m6" stroke-width="4" stroke-dashoffset="0.6"/></g><g stroke-linecap="round" stroke-dasharray="0 5.6"><use href="#m6a" stroke="#d65a55" stroke-width="5.4"/><use href="#m6a" stroke="#fcd3cb" stroke-width="3.5"/><use href="#m6b" stroke="#d65a55" stroke-width="5.4"/><use href="#m6b" stroke="#fcd3cb" stroke-width="3.5"/></g></g><path d="M84.7 814.2L100.8 820" stroke="#1e8a4c" stroke-width="4.5" stroke-linecap="round" fill="none"/><path d="M269.2 769.4L284.5 769.4" stroke="#1e8a4c" stroke-width="4.5" stroke-linecap="round" fill="none"/><path d="M87.6 890L98.9 880.5 101.5 895Z" fill="#d9a93c" stroke="#d9a93c" stroke-width="2" stroke-linejoin="round"/><ellipse cx="480.7" cy="815.6" rx="36.9" ry="27.4" transform="rotate(5 480.7 815.6)" fill="url(#gnucl)"/><path d="M458.4 720L458.8 713.1 456.7 706.6" fill="none" stroke="#e88a48" stroke-width="4" stroke-linejoin="round" stroke-linecap="round"/><path d="M456.7 706.6L458.4 680.9L439.5 665.4M458.4 680.9L465.2 662" fill="none" stroke="#3aa878" stroke-width="5.5" stroke-linejoin="round" stroke-linecap="round"/><path d="M456.7 706.6L458.4 680.9L439.5 665.4M458.4 680.9L465.2 662" fill="none" stroke="#6cc9a0" stroke-width="1.6" stroke-linejoin="round" stroke-linecap="round" opacity="0.7"/><path d="M530.4 735.8L535.5 734.6 539.1 730.1 544.2 728.9" fill="none" stroke="#e88a48" stroke-width="4" stroke-linejoin="round" stroke-linecap="round"/><path d="M544.2 728.9L568.2 715.2L575 697.2M568.2 715.2L590.5 715.2" fill="none" stroke="#3aa878" stroke-width="5.5" stroke-linejoin="round" stroke-linecap="round"/><path d="M544.2 728.9L568.2 715.2L575 697.2M568.2 715.2L590.5 715.2" fill="none" stroke="#6cc9a0" stroke-width="1.6" stroke-linejoin="round" stroke-linecap="round" opacity="0.7"/><g fill="none"><defs><path id="m7" d="M365.7 756.4l-.2 2.5-.2 2.6-.1 2.5-.2 2.5-.2 2.5-.2 2.6-.2 2.5-.2 2.5-.1 2.5-.2 2.6-.2 2.5-.2 2.5-.1 2.5-.2 2.6-.2 2.5-.2 2.5-.1 2.5-.2 2.6-.2 2.5"/><path id="m7a" d="M377.1 757.2l-.2 2.5-.2 2.6-.2 2.5-.2 2.5-.1 2.6-.2 2.5-.2 2.5-.2 2.5-.2 2.5-.1 2.6-.2 2.5-.2 2.5-.2 2.5-.2 2.6-.1 2.5-.2 2.5-.2 2.5-.2 2.6-.1 2.5"/><path id="m7b" d="M354.3 755.6l-.2 2.5-.1 2.5-.2 2.6-.2 2.5-.2 2.5-.2 2.5-.1 2.6-.2 2.5-.2 2.5-.2 2.6-.2 2.5-.1 2.5-.2 2.5-.2 2.6-.2 2.5-.1 2.5-.2 2.6-.2 2.5-.2 2.5"/></defs><use href="#m7" stroke="#3474ae" stroke-width="24.9"/><g stroke="#b9e0f5" stroke-dasharray="2.3 3.1"><use href="#m7" stroke-width="21.2"/><use href="#m7" stroke="#3474ae" stroke-dasharray="none" stroke-width="13.2"/><use href="#m7" stroke-width="13.2" stroke-dashoffset="2.2"/><use href="#m7" stroke="#3474ae" stroke-dasharray="none" stroke-width="4.2"/><use href="#m7" stroke-width="4.2" stroke-dashoffset="0.5"/></g><g stroke-linecap="round" stroke-dasharray="0 5.4"><use href="#m7a" stroke="#3576b0" stroke-width="5.2"/><use href="#m7a" stroke="#a5dcf6" stroke-width="3.4"/><use href="#m7b" stroke="#3576b0" stroke-width="5.2"/><use href="#m7b" stroke="#a5dcf6" stroke-width="3.4"/></g></g><g fill="none"><defs><path id="m8" d="M362.3 803l.4 2.5 .4 2.5 .5 2.5 .4 2.5 .5 2.5 .5 2.5 .5 2.5 .5 2.5"/><path id="m8a" d="M373.5 801.1l.5 2.5 .4 2.5 .4 2.5 .4 2.4 .5 2.3 .5 2.5 .5 2.4 .5 2.5"/><path id="m8b" d="M351.1 804.9l.4 2.5 .4 2.5 .4 2.6 .5 2.6 .5 2.6 .5 2.6 .5 2.5 .5 2.5"/></defs><use href="#m8" stroke="#d9665e" stroke-width="24.9"/><g stroke="#fbe0d8" stroke-dasharray="2.3 3.1"><use href="#m8" stroke-width="21.2"/><use href="#m8" stroke="#d9665e" stroke-dasharray="none" stroke-width="13.2"/><use href="#m8" stroke-width="13.2" stroke-dashoffset="2.2"/><use href="#m8" stroke="#d9665e" stroke-dasharray="none" stroke-width="4.2"/><use href="#m8" stroke-width="4.2" stroke-dashoffset="0.5"/></g><g stroke-linecap="round" stroke-dasharray="0 5.4"><use href="#m8a" stroke="#d65a55" stroke-width="5.2"/><use href="#m8a" stroke="#fcd3cb" stroke-width="3.4"/><use href="#m8b" stroke="#d65a55" stroke-width="5.2"/><use href="#m8b" stroke="#fcd3cb" stroke-width="3.4"/></g></g><g fill="none"><defs><path id="m9" d="M386 818l2.7 .2 2.6 .2 2.7 .2 2.6 .2 2.6 .4 2.6 .5 2.6 .7 2.6 .6"/><path id="m9a" d="M386.3 813.4l2.7 .2 2.6 .2 2.8 .2 2.7 .3 2.9 .4 2.8 .5 2.7 .7 2.6 .6"/><path id="m9b" d="M385.7 822.6l2.6 .2 2.7 .2 2.6 .2 2.5 .2 2.3 .3 2.4 .5 2.5 .6 2.6 .7"/></defs><use href="#m9" stroke="#d9665e" stroke-width="11.1"/><g stroke="#fbe0d8" stroke-dasharray="2.3 3.1"><use href="#m9" stroke-width="7.8"/><use href="#m9" stroke="#d9665e" stroke-dasharray="none" stroke-width="4.8"/><use href="#m9" stroke-width="4.8" stroke-dashoffset="2.2"/><use href="#m9" stroke="#d9665e" stroke-dasharray="none" stroke-width="1.6"/><use href="#m9" stroke-width="1.6" stroke-dashoffset="0.5"/></g><g stroke-linecap="round" stroke-dasharray="0 5.4"><use href="#m9a" stroke="#d65a55" stroke-width="4.8"/><use href="#m9a" stroke="#fcd3cb" stroke-width="3.1"/><use href="#m9b" stroke="#d65a55" stroke-width="4.8"/><use href="#m9b" stroke="#fcd3cb" stroke-width="3.1"/></g></g><g fill="none"><defs><path id="m10" d="M385 751l2.4-1.2 2.4-1.1 2.5-1.2 2.4-1.1 2.4-1.2 2.5-1 2.5-1 2.5-1 2.5-1 2.5-.9 2.6-.9 2.5-1 2.5-.9"/><path id="m10a" d="M380.5 741.6l2.4-1.1 2.4-1.2 2.5-1.2 2.5-1.2 2.6-1.1 2.7-1.2 2.6-1.1 2.7-1 2.6-1 2.5-1 2.6-.9 2.5-.9 2.5-1"/><path id="m10b" d="M389.5 760.4l2.4-1.2 2.5-1.2 2.3-1.1 2.4-1.1 2.3-1.1 2.3-1 2.3-.9 2.3-.9 2.5-.9 2.4-1 2.5-.9 2.6-.9 2.5-.9"/></defs><use href="#m10" stroke="#3474ae" stroke-width="22.9"/><g stroke="#b9e0f5" stroke-dasharray="2.3 3.1"><use href="#m10" stroke-width="19.2"/><use href="#m10" stroke="#3474ae" stroke-dasharray="none" stroke-width="11.9"/><use href="#m10" stroke-width="11.9" stroke-dashoffset="2.2"/><use href="#m10" stroke="#3474ae" stroke-dasharray="none" stroke-width="3.8"/><use href="#m10" stroke-width="3.8" stroke-dashoffset="0.5"/></g><g stroke-linecap="round" stroke-dasharray="0 5.4"><use href="#m10a" stroke="#3576b0" stroke-width="5.2"/><use href="#m10a" stroke="#a5dcf6" stroke-width="3.4"/><use href="#m10b" stroke="#3576b0" stroke-width="5.2"/><use href="#m10b" stroke="#a5dcf6" stroke-width="3.4"/></g></g><g fill="none"><defs><path id="m11" d="M419 727l2.6 .2 2.6 .2 2.6 .3 2.6 .2 2.6 .2 2.6 .1 2.5 .2 2.6 .1 2.6 .1 2.6 0 2.6 0 2.6 0 2.6-.1 2.6-.1 2.6-.2 2.6-.2 2.6-.3 2.6-.3 2.6-.3 2.6-.3 2.5-.4 2.6-.3 2.6-.4 2.6-.4 2.5-.3 2.6-.4 2.6-.4 2.5-.4 2.6-.5 2.6-.4 2.5-.5 2.6-.5 2.5-.4 2.6-.5 2.5-.5 2.6-.5 2.5-.5 2.6-.5"/><path id="m11a" d="M419.9 716.6l2.6 .2 2.6 .3 2.5 .2 2.6 .2 2.5 .2 2.5 .2 2.4 .1 2.5 .1 2.5 .1 2.5 0 2.4 0 2.4 0 2.4-.1 2.4-.1 2.4-.2 2.5-.2 2.4-.2 2.5-.3 2.5-.3 2.5-.3 2.5-.4 2.6-.3 2.5-.4 2.5-.3 2.6-.4 2.5-.4 2.5-.4 2.6-.4 2.4-.4 2.5-.5 2.6-.4 2.5-.5 2.5-.5 2.5-.4 2.6-.5 2.5-.5 2.6-.5 2.5-.5"/><path id="m11b" d="M418.1 737.4l2.6 .2 2.6 .2 2.6 .2 2.6 .2 2.7 .2 2.7 .2 2.7 .2 2.8 .1 2.7 .1 2.7 0 2.8 0 2.8 0 2.8-.1 2.8-.2 2.7-.2 2.8-.2 2.7-.3 2.7-.3 2.6-.3 2.7-.3 2.6-.4 2.6-.3 2.7-.4 2.6-.4 2.6-.3 2.6-.4 2.6-.5 2.6-.4 2.7-.4 2.6-.5 2.6-.4 2.6-.5 2.6-.5 2.6-.5 2.5-.5 2.6-.5 2.5-.5 2.6-.5"/></defs><use href="#m11" stroke="#3474ae" stroke-width="22.9"/><g stroke="#b9e0f5" stroke-dasharray="2.3 3.1"><use href="#m11" stroke-width="19.2"/><use href="#m11" stroke="#3474ae" stroke-dasharray="none" stroke-width="11.9"/><use href="#m11" stroke-width="11.9" stroke-dashoffset="2.2"/><use href="#m11" stroke="#3474ae" stroke-dasharray="none" stroke-width="3.8"/><use href="#m11" stroke-width="3.8" stroke-dashoffset="0.5"/></g><g stroke-linecap="round" stroke-dasharray="0 5.4"><use href="#m11a" stroke="#3576b0" stroke-width="5.2"/><use href="#m11a" stroke="#a5dcf6" stroke-width="3.4"/><use href="#m11b" stroke="#3576b0" stroke-width="5.2"/><use href="#m11b" stroke="#a5dcf6" stroke-width="3.4"/></g></g><g fill="none"><defs><path id="m12" d="M446.4 728.5l2.5 0 2.5 0 2.6-.1 2.5 0 2.5-.1 2.5-.2 2.5-.3 2.5-.3 2.5-.3 2.5-.4 2.5-.3"/><path id="m12a" d="M446.3 718.1l2.5 0 2.5 0 2.5-.1 2.3 0 2.3-.1 2.2-.2 2.2-.2 2.4-.3 2.4-.3 2.5-.4 2.5-.3"/><path id="m12b" d="M446.5 738.9l2.5 0 2.5 0 2.6-.1 2.7 0 2.8-.2 2.8-.2 2.8-.3 2.6-.3 2.6-.3 2.5-.4 2.5-.3"/></defs><use href="#m12" stroke="#d9665e" stroke-width="22.9"/><g stroke="#fbe0d8" stroke-dasharray="2.3 3.1"><use href="#m12" stroke-width="19.2"/><use href="#m12" stroke="#d9665e" stroke-dasharray="none" stroke-width="11.9"/><use href="#m12" stroke-width="11.9" stroke-dashoffset="2.2"/><use href="#m12" stroke="#d9665e" stroke-dasharray="none" stroke-width="3.8"/><use href="#m12" stroke-width="3.8" stroke-dashoffset="0.5"/></g><g stroke-linecap="round" stroke-dasharray="0 5.4"><use href="#m12a" stroke="#d65a55" stroke-width="5.2"/><use href="#m12a" stroke="#fcd3cb" stroke-width="3.4"/><use href="#m12b" stroke="#d65a55" stroke-width="5.2"/><use href="#m12b" stroke="#fcd3cb" stroke-width="3.4"/></g></g><g fill="none"><defs><path id="m13" d="M513 720.5L515.5 720.1 518 719.7 520.5 719.1 523 718.5"/><path id="m13a" d="M511.4 710.2L513.8 709.8 516.1 709.5 518.1 709 520.4 708.4"/><path id="m13b" d="M514.6 730.8L517.2 730.4 520 729.9 522.9 729.3 525.6 728.6"/></defs><use href="#m13" stroke="#d9665e" stroke-width="22.9"/><g stroke="#fbe0d8" stroke-dasharray="2.3 3.1"><use href="#m13" stroke-width="19.2"/><use href="#m13" stroke="#d9665e" stroke-dasharray="none" stroke-width="11.9"/><use href="#m13" stroke-width="11.9" stroke-dashoffset="2.2"/><use href="#m13" stroke="#d9665e" stroke-dasharray="none" stroke-width="3.8"/><use href="#m13" stroke-width="3.8" stroke-dashoffset="0.5"/></g><g stroke-linecap="round" stroke-dasharray="0 5.4"><use href="#m13a" stroke="#d65a55" stroke-width="5.2"/><use href="#m13a" stroke="#fcd3cb" stroke-width="3.4"/><use href="#m13b" stroke="#d65a55" stroke-width="5.2"/><use href="#m13b" stroke="#fcd3cb" stroke-width="3.4"/></g></g><g fill="none"><defs><path id="m14" d="M522 749l.5 2.5 .5 2.5 .5 2.5 .5 2.5 .5 2.5 .5 2.5 .4 2.5 .5 2.5 .4 2.5 .4 2.5 .4 2.5 .4 2.5"/><path id="m14a" d="M532.2 746.9l.5 2.5 .5 2.5 .5 2.5 .5 2.5 .5 2.6 .5 2.6 .5 2.6 .4 2.5 .4 2.6 .5 2.5 .4 2.5 .4 2.5"/><path id="m14b" d="M511.8 751.1l.5 2.5 .5 2.5 .5 2.4 .5 2.5 .5 2.4 .5 2.4 .4 2.4 .4 2.5 .4 2.5 .4 2.4 .4 2.6 .4 2.5"/></defs><use href="#m14" stroke="#3474ae" stroke-width="22.9"/><g stroke="#b9e0f5" stroke-dasharray="2.3 3.1"><use href="#m14" stroke-width="19.2"/><use href="#m14" stroke="#3474ae" stroke-dasharray="none" stroke-width="11.9"/><use href="#m14" stroke-width="11.9" stroke-dashoffset="2.2"/><use href="#m14" stroke="#3474ae" stroke-dasharray="none" stroke-width="3.8"/><use href="#m14" stroke-width="3.8" stroke-dashoffset="0.5"/></g><g stroke-linecap="round" stroke-dasharray="0 5.4"><use href="#m14a" stroke="#3576b0" stroke-width="5.2"/><use href="#m14a" stroke="#a5dcf6" stroke-width="3.4"/><use href="#m14b" stroke="#3576b0" stroke-width="5.2"/><use href="#m14b" stroke="#a5dcf6" stroke-width="3.4"/></g></g><g fill="none"><defs><path id="m15" d="M514 744l2.3-.9 2.3-.8 2.3-.9 2.2-.8 2.3-.9 2.3-.8 2.3-.9"/><path id="m15a" d="M513 741.4l2.3-.9 2.3-.8 2.3-.9 2.3-.9 2.2-.8 2.3-.9 2.3-.8"/><path id="m15b" d="M515 746.6l2.3-.8 2.3-.9 2.2-.8 2.3-.9 2.3-.9 2.3-.8 2.3-.9"/></defs><use href="#m15" stroke="#d9665e" stroke-width="7.4"/><g stroke="#fbe0d8" stroke-dasharray="2.3 3.1"><use href="#m15" stroke-width="4.3"/><use href="#m15" stroke="#d9665e" stroke-dasharray="none" stroke-width="2.7"/><use href="#m15" stroke-width="2.7" stroke-dashoffset="2.2"/><use href="#m15" stroke="#d9665e" stroke-dasharray="none" stroke-width="0.9"/><use href="#m15" stroke-width="0.9" stroke-dashoffset="0.5"/></g><g stroke-linecap="round" stroke-dasharray="0 5.4"><use href="#m15a" stroke="#d65a55" stroke-width="4.4"/><use href="#m15a" stroke="#fcd3cb" stroke-width="2.9"/><use href="#m15b" stroke="#d65a55" stroke-width="4.4"/><use href="#m15b" stroke="#fcd3cb" stroke-width="2.9"/></g></g><g fill="none"><defs><path id="m16" d="M557.9 766.7l.8 2.5 .8 2.5 .8 2.5 .7 2.5 .6 2.6 .4 2.6 .2 2.6 0 2.6 0 2.6-.1 2.6-.2 2.6-.3 2.6-.3 2.6-.4 2.6-.6 2.6-.5 2.6-.7 2.5-.7 2.5-.7 2.6-.7 2.5-.8 2.5-.8 2.5-.8 2.4-.9 2.5-.9 2.5-.9 2.4-.9 2.5"/><path id="m16a" d="M567.8 763.6l.8 2.4 .8 2.5 .9 2.8 .8 2.9 .7 3.1 .5 3.3 .3 3.3 0 3.1 0 3-.1 3-.3 2.9-.3 2.9-.3 2.9-.5 2.9-.6 2.9-.6 2.8-.7 2.7-.7 2.7-.8 2.6-.7 2.7-.9 2.6-.8 2.7-.9 2.6-.9 2.5-.9 2.5-.9 2.5-.9 2.4"/><path id="m16b" d="M548 769.8l.8 2.6 .8 2.4 .7 2.3 .6 2.2 .4 1.9 .3 1.9 .2 1.9 0 2.2 0 2.2-.1 2.3-.2 2.3-.2 2.3-.3 2.3-.4 2.3-.4 2.2-.5 2.3-.6 2.4-.7 2.4-.7 2.4-.7 2.4-.7 2.3-.7 2.3-.9 2.4-.8 2.4-.9 2.4-.9 2.5-.9 2.5"/></defs><use href="#m16" stroke="#3474ae" stroke-width="22.9"/><g stroke="#b9e0f5" stroke-dasharray="2.3 3.1"><use href="#m16" stroke-width="19.2"/><use href="#m16" stroke="#3474ae" stroke-dasharray="none" stroke-width="11.9"/><use href="#m16" stroke-width="11.9" stroke-dashoffset="2.2"/><use href="#m16" stroke="#3474ae" stroke-dasharray="none" stroke-width="3.8"/><use href="#m16" stroke-width="3.8" stroke-dashoffset="0.5"/></g><g stroke-linecap="round" stroke-dasharray="0 5.4"><use href="#m16a" stroke="#3576b0" stroke-width="5.2"/><use href="#m16a" stroke="#a5dcf6" stroke-width="3.4"/><use href="#m16b" stroke="#3576b0" stroke-width="5.2"/><use href="#m16b" stroke="#a5dcf6" stroke-width="3.4"/></g></g><g fill="none"><defs><path id="m17" d="M578 741l1 2.5 1.1 2.4 1 2.5 1.1 2.5 1.1 2.5 1.1 2.4 1.1 2.5 1.1 2.4 1.1 2.4 1.2 2.5 1.1 2.4"/><path id="m17a" d="M587.6 736.9l1 2.5 1.1 2.5 1 2.4 1.1 2.5 1 2.4 1.1 2.4 1 2.3 1.1 2.4 1.2 2.4 1.1 2.5 1.1 2.4"/><path id="m17b" d="M568.4 745.1l1.1 2.4 1 2.5 1.1 2.5 1.1 2.5 1 2.5 1.2 2.6 1.1 2.5 1.2 2.5 1.1 2.4 1.1 2.5 1.2 2.4"/></defs><use href="#m17" stroke="#3474ae" stroke-width="22.9"/><g stroke="#b9e0f5" stroke-dasharray="2.3 3.1"><use href="#m17" stroke-width="19.2"/><use href="#m17" stroke="#3474ae" stroke-dasharray="none" stroke-width="11.9"/><use href="#m17" stroke-width="11.9" stroke-dashoffset="2.2"/><use href="#m17" stroke="#3474ae" stroke-dasharray="none" stroke-width="3.8"/><use href="#m17" stroke-width="3.8" stroke-dashoffset="0.5"/></g><g stroke-linecap="round" stroke-dasharray="0 5.4"><use href="#m17a" stroke="#3576b0" stroke-width="5.2"/><use href="#m17a" stroke="#a5dcf6" stroke-width="3.4"/><use href="#m17b" stroke="#3576b0" stroke-width="5.2"/><use href="#m17b" stroke="#a5dcf6" stroke-width="3.4"/></g></g><g fill="none"><defs><path id="m18" d="M391.5 835.3l1.8 1.9 1.7 2 1.8 1.9 1.8 2 1.7 2 1.7 2 1.7 2 1.7 2 1.7 2 1.6 2.1 1.7 2 1.6 2.1"/><path id="m18a" d="M399.2 828.3l1.8 1.9 1.7 2 1.8 2 1.8 2 1.8 2 1.8 2.1 1.8 2.1 1.8 2.1 1.7 2.1 1.6 2.1 1.7 2 1.6 2.1"/><path id="m18b" d="M383.8 842.3l1.8 1.9 1.7 2 1.8 1.9 1.7 1.9 1.7 1.9 1.6 1.9 1.6 1.9 1.6 2 1.7 2 1.6 2 1.6 2.1 1.7 2"/></defs><use href="#m18" stroke="#3474ae" stroke-width="22.9"/><g stroke="#b9e0f5" stroke-dasharray="2.3 3.1"><use href="#m18" stroke-width="19.2"/><use href="#m18" stroke="#3474ae" stroke-dasharray="none" stroke-width="11.9"/><use href="#m18" stroke-width="11.9" stroke-dashoffset="2.2"/><use href="#m18" stroke="#3474ae" stroke-dasharray="none" stroke-width="3.8"/><use href="#m18" stroke-width="3.8" stroke-dashoffset="0.5"/></g><g stroke-linecap="round" stroke-dasharray="0 5.4"><use href="#m18a" stroke="#3576b0" stroke-width="5.2"/><use href="#m18a" stroke="#a5dcf6" stroke-width="3.4"/><use href="#m18b" stroke="#3576b0" stroke-width="5.2"/><use href="#m18b" stroke="#a5dcf6" stroke-width="3.4"/></g></g><g fill="none"><defs><path id="m19" d="M432.6 852.4l1.3 2.2 1.3 2.3 1.4 2.3 1.3 2.2 1.3 2.2 1.4 2.2 1.5 2.2 1.5 2.1 1.6 2.1 1.7 2 1.7 1.9 1.8 1.9 1.9 1.8 2 1.7 2.1 1.6 2.1 1.4 2.3 1.4 2.3 1.2 2.4 1.1 2.4 1 2.4 .8 2.5 .8 2.5 .7 2.6 .6 2.5 .5 2.6 .4 2.6 .3 2.6 .3 2.6 .1 2.6 .1 2.6 .1 2.6-.1 2.6-.1 2.6-.2 2.6-.3 2.6-.3 2.6-.5 2.5-.5 2.6-.6 2.5-.6 2.5-.7 2.5-.8 2.5-.8 2.4-.8 2.5-1 2.4-.9 2.4-1.1 2.4-1.1 2.3-1.1 2.3-1.2 2.3-1.2 2.3-1.3 2.3-1.3 2.2-1.4 2.2-1.4 2.1-1.5 2.1-1.5 2.1-1.5 2.1-1.6 2.1-1.6 2-1.7 1.9-1.8 1.9-1.8 1.9-1.8 1.8-1.8 1.8-1.9 1.9-1.9 1.8-1.8"/><path id="m19a" d="M442.4 846.6l1.4 2.3 1.3 2.3 1.3 2.2 1.3 2.1 1.2 2.1 1.3 2 1.3 2 1.2 1.7 1.3 1.7 1.4 1.7 1.5 1.6 1.5 1.5 1.6 1.5 1.5 1.3 1.6 1.2 1.6 1.1 1.7 1 1.7 1 1.9 .8 1.9 .8 2 .7 2.1 .6 2.1 .6 2.2 .5 2.2 .5 2.2 .3 2.1 .3 2.3 .2 2.3 .2 2.3 0 2.3 .1 2.3-.1 2.3-.1 2.2-.1 2.2-.3 2.3-.3 2.2-.4 2.2-.4 2.3-.5 2.3-.6 2.2-.7 2.3-.6 2.2-.8 2.2-.7 2.2-.9 2.2-.9 2.2-.9 2.1-1 2.1-1 2.1-1.1 2.1-1.1 2.1-1.2 2-1.2 2-1.2 2-1.3 2-1.4 2-1.4 1.9-1.4 1.9-1.4 1.9-1.5 1.7-1.4 1.7-1.6 1.7-1.6 1.8-1.7 1.7-1.8 1.8-1.8 1.8-1.9 1.9-1.8"/><path id="m19b" d="M422.8 858.2l1.3 2.2 1.3 2.2 1.3 2.3 1.4 2.4 1.4 2.3 1.6 2.4 1.6 2.4 1.7 2.5 2 2.5 1.9 2.3 2 2.2 2.2 2.2 2.2 2.1 2.4 2.1 2.6 2 2.7 1.8 2.8 1.7 2.8 1.5 2.9 1.3 2.9 1.2 2.9 1 3 .9 2.9 .8 2.9 .7 2.9 .6 3 .5 3 .4 2.9 .2 2.9 .2 2.9 .1 2.9 .1 3-.1 2.9-.1 3-.2 2.9-.3 2.9-.5 2.9-.4 2.9-.6 2.9-.7 2.8-.7 2.7-.8 2.7-.8 2.8-.9 2.7-.9 2.7-1.1 2.6-1 2.6-1.2 2.6-1.2 2.6-1.2 2.5-1.3 2.5-1.3 2.5-1.4 2.5-1.5 2.4-1.5 2.4-1.5 2.3-1.6 2.3-1.7 2.3-1.6 2.2-1.7 2.3-1.8 2.3-1.9 2.1-2 2.1-1.9 2-2 1.9-1.9 1.9-1.9 1.8-1.8 1.8-1.9"/></defs><use href="#m19" stroke="#3474ae" stroke-width="24.9"/><g stroke="#b9e0f5" stroke-dasharray="2.3 3.1"><use href="#m19" stroke-width="21.2"/><use href="#m19" stroke="#3474ae" stroke-dasharray="none" stroke-width="13.2"/><use href="#m19" stroke-width="13.2" stroke-dashoffset="2.2"/><use href="#m19" stroke="#3474ae" stroke-dasharray="none" stroke-width="4.2"/><use href="#m19" stroke-width="4.2" stroke-dashoffset="0.5"/></g><g stroke-linecap="round" stroke-dasharray="0 5.4"><use href="#m19a" stroke="#3576b0" stroke-width="5.2"/><use href="#m19a" stroke="#a5dcf6" stroke-width="3.4"/><use href="#m19b" stroke="#3576b0" stroke-width="5.2"/><use href="#m19b" stroke="#a5dcf6" stroke-width="3.4"/></g></g><path d="M460.1 721.5L460.1 738" stroke="#1e8a4c" stroke-width="4.5" stroke-linecap="round" fill="none"/><path d="M513.3 744.4L528.7 739.2" stroke="#1e8a4c" stroke-width="4.5" stroke-linecap="round" fill="none"/><path d="M370.9 819.6L387.4 819.6" stroke="#1e8a4c" stroke-width="4.5" stroke-linecap="round" fill="none"/><path d="M288.3 768L293.9 768.9 299.2 766.1 304.8 767" fill="none" stroke="#e88a48" stroke-width="4" stroke-linejoin="round" stroke-linecap="round"/><path d="M304.8 767L334 763.7L348 749.7M334 763.7L354.3 772.6" fill="none" stroke="#3aa878" stroke-width="5.5" stroke-linejoin="round" stroke-linecap="round"/><path d="M304.8 767L334 763.7L348 749.7M334 763.7L354.3 772.6" fill="none" stroke="#6cc9a0" stroke-width="1.6" stroke-linejoin="round" stroke-linecap="round" opacity="0.7"/><path d="M341 760.5L353.8 753.1 353.8 767.9Z" fill="#d9a93c" stroke="#d9a93c" stroke-width="2" stroke-linejoin="round"/><path d="M369.6 821.5L363.6 820.6 357.8 823.4 351.8 822.5" fill="none" stroke="#e88a48" stroke-width="4" stroke-linejoin="round" stroke-linecap="round"/><path d="M351.8 822.5L322.6 828.5L301 823.4M322.6 828.5L309.9 846.3" fill="none" stroke="#3aa878" stroke-width="5.5" stroke-linejoin="round" stroke-linecap="round"/><path d="M351.8 822.5L322.6 828.5L301 823.4M322.6 828.5L309.9 846.3" fill="none" stroke="#6cc9a0" stroke-width="1.6" stroke-linejoin="round" stroke-linecap="round" opacity="0.7"/><path d="M310.8 842.9L298 835.5 310.8 828.1Z" fill="#d9a93c" stroke="#d9a93c" stroke-width="2" stroke-linejoin="round"/><path d="M282.3 551.8l1.1 0 1.2-.1 1.1 0 1.3 .1 1.1 0 1.3 .1 1.2 .1 1.3 .1 1.2 .2 1.3 .2 1.3 .1 1.2 .2 1.3 .3 1.3 .2 1.3 .3 1.3 .3 1.3 .3 1.3 .3 1.3 .3 1.3 .3 1.3 .4 1.3 .3 1.3 .4 1.3 .4 1.2 .4 1.3 .4 1.2 .5 1.3 .4 1.2 .5 1.3 .5 1.2 .5 1.2 .4 1.2 .6 1.2 .5 1.2 .6 1.2 .5 1.2 .6 1.2 .6 1.2 .6 1.2 .6 1.1 .6 1.2 .7 1.1 .6 1.2 .7 1.1 .7 1.2 .7 1.1 .8 1.2 .7 1.1 .8 1.2 .7 1.1 .8 1.1 .8 1.1 .8 1.2 .8 1.1 .8 1.1 .9 1.1 .8 1.1 .8 1.1 .9 1.1 .9 1.1 .9 1.1 .8 1.1 .9 1.1 .9 1 .9 1.1 .9 1.1 .9 1 1 1.1 .9 1 .9 1.1 1 1 1 1 .9 1.1 1 1 .9 1 1 1 1 .9 1 1.1 1 .9 1 1 1 .9 1 .9 1 1 1 .9 1 .9 1.1 .9 .9 .8 1.1 .9 1 .8 1 .8 1.1 .8 1 .8 1.1 .8 1.1 .8 1.1 .7 1 .7 1.1 .8 1.1 .6 1.1 .7 1.1 .7 1.1 .6 1.1 .7 1.1 .6 1.2 .6 1.1 .5 1.1 .6 1.2 .5 1.1 .5 1.2 .5 1.1 .5 1.2 .4 1.1 .4 1.2 .4 1.1 .4 1.2 .4 1.2 .3 1.1 .3 1.2 .3 1.1 .2 1.2 .2 1.2 .2 1.1 .2 1.2 .2 1.2 .1 1.2 .1 1.1 .1 1.2 0 1.1 0 1.1 0 1.1-.1 1.1 0 1.2-.1 1.1-.2 1.2-.1 1.2-.2 1.2-.2 1.2-.2 1.2-.3 1.2-.3 1.2-.3 1.3-.3 1.2-.3 1.3-.4 1.2-.4 1.2-.4 1.3-.4 1.2-.4 1.2-.4 1.2-.5 1.1-.5 1.2-.4 1.1-.6 1.2-.5 1-.5 1.2-.6 1-.6 1.1-.5 1.1-.7 1-.6 1-.6 1-.7 1-.7 1-.8 1-.7 1-.8 1-.8 1-.8 1-.9 .9-.8 1-.9 .9-.9 1-.8 .9-.9 .9-.9 .8-.9 .9-1 .8-.9 .8-.9 .8-.9 .7-1 .7-.9 .7-.9 .6-1 .6-1 .7-1 .5-1 .6-1.1 .6-1.1 .5-1 .6-1.2 .5-1.1 .5-1.2 .5-1.2 .5-1.2 .5-1.2 .4-1.2 .4-1.2 .5-1.3 .4-1.3 .4-1.2 .4-1.3 .4-1.3 .3-1.3 .4-1.3 .3-1.3 .3-1.3 .3-1.2 .3-1.3 .3-1.3 .2-1.3 .2-1.2 .2-1.3 .2-1.2 .2-1.3 .1-1.2 .2-1.2 0-1.3 .1-1.2 .1-1.2 0-1.1 0-1.2 0-1.2-.1-1.2 0-1.2-.1-1.2-.2-1.3-.1-1.2-.2-1.2-.2-1.2-.2-1.3-.2-1.2-.3-1.3-.2-1.2-.3-1.3-.4-1.2-.3-1.3-.3-1.2-.4-1.3-.4-1.2-.4-1.3-.4-1.2-.5-1.3-.4-1.2-.5-1.2-.5-1.2-.5-1.3-.5-1.2-.5-1.2-.6-1.2-.5-1.2-.6-1.2-.6-1.2-.6-1.2-.6-1.2-.6-1.2-.7-1.1-.6-1.2-.7-1.2-.7-1.1-.7-1.1-.7-1.2-.7-1.1-.7-1.1-.7-1.1-.8-1-.7-1.1-.8-1-.8-1.1-.8-1-.8-1.1-.8-1.1-.9-1-.9-1.1-.9-1-.9-1.1-.9-1-.9-1.1-.9-1.1-1-1-1-1.1-.9-1-1-1.1-1-1.1-1-1-1-1.1-1-1.1-1-1-1-1-1-1.1-1-1-1-1-1-1-1.1-1-1-1.1-1-1-1-1-1-1-1.1-.9-1-1-1.1-1-1-.9-1-1-1.1-.9-1-1-1.1-.9-1-.9-1.1-.8-1-.9-1-.9-1.1-.8-1.1-.9-1.1-.9-1.1-.8-1.1-.9-1.1-.8-1.1-.8-1.1-.8-1.1-.7-1.1-.8-1.1-.7-1.1-.7-1.1-.7-1.1-.6-1.1-.7-1-.6-1.1-.5-1.1-.6-1-.5-1.1-.5-1.1-.4-1.1-.5-1.1-.4-1.1-.4-1.1-.4-1.1-.4-1.2-.3-1.1-.3-1.1-.3-1.2-.2-1.1-.3-1.2-.2-1.1-.1-1.1-.2-1.1-.1-1.1 0-1.2-.1-1.1 0-1 0-1.1 0-1 .1-1.2 .1-1 .2-1.1 .1-1.1 .2-1.1 .2-1.1 .3-1.1 .3-1.1 .3-1.1 .3-1.1 .4-1.1 .4-1.1 .4-1 .4-1 .5-1.1 .4-.9 .6-1 .5-1 .6-1 .6-1 .6-1 .7-.9 .7-1.1 .7-1 .8-1 .8-1 .8-1 .9-1.1 .8-1 .9-1 .8-1 .9-.9 .9-1 .9-.9 .9-1 1-.9 .9-1 1-.9 .9-.9 1-.9 1-.9 1-.9 1-.8 1-.9 1.1-.8 1-.8 1-.8 1-.7 1.1-.8 1.1-.8 1-.7 1.1-.7 1.1-.7 1.1-.7 1.1-.7 1.1-.6 1.1-.7 1.2-.6 1.1-.6 1.1-.6 1.2-.6 1.1-.5 1.2-.5 1.1-.6 1.2-.4 1.2-.5 1.3-.5 1.3-.5 1.2-.5 1.3-.4 1.2-.4 1.2-.4 1.2-.4 1.2-.4 1.2-.3 1.2-.3 1.2-.3 1.1-.2 1.2-.2 1.1-.2 1.2-.2 1.1-.1 1.1-.1z" fill="url(#gnk)"/><path d="M283.1 566.8l.7-.1 .9 0 .8 0 .9 .1 .9 0 1 .1 .9 0 1 .1 1 .2 1.1 .1 1.1 .2 1 .1 1.1 .2 1.1 .2 1.2 .3 1.1 .2 1.1 .3 1.2 .2 1.1 .3 1.2 .3 1.1 .3 1.1 .3 1.2 .4 1.1 .3 1.1 .4 1.1 .3 1.1 .4 1 .4 1.1 .4 1.1 .4 1.1 .4 1 .5 1 .4 1.1 .5 1 .5 1.1 .5 1 .4 1 .6 1 .5 1.1 .5 .9 .6 1.1 .5 1 .6 .9 .6 1.1 .6 1 .6 1.1 .7 1 .7 1 .7 1 .6 1 .7 1.1 .8 1 .7 1.1 .8 1 .7 1 .8 1.1 .7 .9 .8 1.1 .8 1 .8 1 .9 1 .8 1 .8 1.1 .8 .9 .8 1.1 .9 .9 .9 1 .8 1 .9 .9 .9 1.1 .9 .9 .8 .9 .9 1 1 .9 .8 1 1 .9 .9 .9 .8 1 1 .8 .9 .9 .9 .9 .9 .8 .9 .9 1 .8 .9 .8 .9 .7 .9 .7 .8 .8 1 .7 .8 .8 1 .6 .9 .7 .9 .7 .9 .7 1 .6 .9 .6 .9 .6 .9 .6 1 .6 .9 .6 .9 .5 1 .5 .9 .5 .9 .5 .9 .5 1 .4 .9 .5 .9 .3 .9 .4 .9 .4 .9 .4 1 .3 .9 .3 .9 .3 .8 .3 1 .2 .8 .2 .9 .2 .9 .2 .8 .2 .9 .1 .8 .2 .9 .1 .8 .1 .9 0 .8 .1 .8 0 .7 0 .7 0 .8 0 .7-.1 .8-.1 .8-.1 .9-.1 .9-.1 .8-.2 1-.1 .9-.3 1-.2 1-.2 1-.3 1-.3 1.1-.3 1-.3 1-.3 1.1-.4 1-.3 1-.4 .9-.3 1-.4 .9-.4 .9-.4 .9-.4 .8-.4 .9-.4 .8-.5 .8-.4 .8-.5 .7-.5 .9-.4 .7-.6 .8-.5 .7-.6 .8-.6 .8-.7 .8-.6 .9-.7 .8-.7 .8-.7 .8-.7 .7-.7 .8-.7 .7-.7 .7-.7 .7-.8 .7-.7 .6-.7 .6-.7 .6-.6 .5-.7 .6-.6 .4-.7 .5-.6 .4-.8 .4-.7 .4-.7 .5-.8 .4-.9 .4-.8 .4-.9 .5-.9 .4-1 .4-.9 .4-1 .3-1 .4-1 .4-1.1 .4-1.1 .3-1.1 .4-1.1 .3-1.2 .3-1.1 .4-1.1 .3-1.1 .2-1.2 .3-1.1 .3-1.1 .2-1 .2-1.1 .3-1.1 .1-1 .2-1.1 .2-1 .1-1 .1-1 .1-.9 .1-.9 0-.9 .1-.9 0-.9 0-.9 0-.8-.1-1 0-.9-.1-.9-.1-1-.1-.9-.1-1-.2-1-.1-1-.2-1-.2-1-.3-1-.2-1.1-.3-1-.3-1.1-.3-1.1-.3-1.1-.3-1-.4-1.1-.3-1.1-.4-1.1-.4-1-.4-1.1-.4-1-.4-1.1-.5-1-.4-1.1-.5-1-.5-1.1-.5-1-.5-1.1-.5-1-.6-1.1-.5-1-.6-1-.6-1.1-.6-1-.6-1-.6-1-.6-1-.6-1-.6-.8-.6-1-.7-.9-.6-.9-.7-.9-.6-.9-.8-1-.7-.9-.7-1-.8-.9-.8-1-.8-.9-.8-1-.9-1-.8-1-.9-1-.9-1-.9-1-1-1-.9-1.1-1-1-1-1.1-.9-1-1-1-1-1-1-1-.9-1-1-1-.9-.9-1-1-1-1-.9-1-1-.9-1-.9-.9-1-1-.9-1-1-1-.9-1-.8-.9-1-1-.8-1-.9-1-.8-.9-.9-1-.7-.9-.8-1-.8-1-.8-.9-.8-1.1-.8-1-.8-1-.7-1-.8-1-.7-1-.7-1-.7-.9-.6-1-.6-.9-.6-.9-.6-.9-.5-.9-.5-.9-.5-.8-.4-.9-.4-.7-.4-.9-.4-.7-.3-.7-.4-.9-.3-.8-.3-.9-.2-.8-.3-.9-.3-.7-.2-.8-.2-.9-.1-.7-.2-.9-.1-.7-.1-.8-.2-.8 0-.7-.1-.8 0-.6 0-.6 0-.8 0-.5 .1-.7 0-.7 .1-.6 .1-.8 .1-.7 .2-.7 .2-.8 .2-.7 .2-.8 .2-.7 .2-.7 .4-.9 .2-.6 .3-.6 .3-.7 .2-.5 .4-.7 .4-.7 .3-.6 .5-.8 .5-.7 .4-.7 .6-.9 .6-.8 .7-.8 .6-.9 .7-.8 .7-.9 .7-.9 .8-.9 .7-.8 .8-.8 .7-.8 .8-.8 .8-.9 .8-.8 .8-.8 .9-.8 .8-.8 .9-.8 .8-.7 .9-.8 .9-.7 .8-.8 .9-.7 .9-.6 .8-.7 .9-.7 .9-.6 .9-.6 .9-.6 1-.7 .9-.6 .9-.6 .9-.5 1-.6 .9-.5 .9-.5 1-.5 .9-.5 1-.5 .9-.4 1-.5 .9-.4 .9-.4 1.1-.4 1.1-.4 1.1-.5 1.1-.4 1.1-.4 1-.3 1.1-.4 1-.3 .9-.2 1-.3 .9-.2 .9-.2 .8-.2 .9-.2 .7-.1 .9-.1 .6-.1 .8-.1z" fill="none" stroke="#d9a54a" stroke-width="9" opacity="0.5" filter="url(#ib2)"/><ellipse cx="327.5" cy="639.8" rx="35.8" ry="26.3" transform="rotate(-25 327.5 639.8)" fill="url(#gnkn)"/><g fill="none"><defs><path id="m20" d="M282.3 551.8l2.6-.1 2.6 .1 2.6 .2 2.6 .2 2.6 .4 2.5 .4 2.6 .5 2.6 .6 2.5 .6 2.5 .6 2.5 .7 2.5 .8 2.5 .8 2.4 .9 2.5 .9 2.4 1 2.4 1 2.3 1.2 2.4 1.1 2.3 1.2 2.2 1.3 2.3 1.3 2.2 1.4 2.2 1.4 2.2 1.4 2.1 1.5 2.1 1.5 2.1 1.5 2.1 1.6 2.1 1.6 2 1.6 2 1.7 2 1.6 2 1.7 2 1.7 1.9 1.8 1.9 1.8 1.9 1.7 1.9 1.9 1.8 1.8 1.9 1.8 1.8 1.9 1.7 1.9 1.8 2 1.7 1.9 1.7 2 1.6 2.1 1.5 2.1 1.5 2.1 1.5 2.1 1.4 2.2 1.4 2.3 1.3 2.2 1.2 2.3 1.1 2.4 1.1 2.3 1 2.5 .9 2.4 .7 2.5 .7 2.5 .6 2.5 .5 2.6 .3 2.6 .2 2.6 .1 2.6-.1 2.6-.2 2.6-.4 2.6-.4 2.5-.6 2.6-.6 2.5-.7 2.5-.8 2.5-.8 2.5-1 2.4-1 2.4-1.1 2.4-1.2 2.3-1.3 2.2-1.3 2.2-1.5 2.2-1.6 2.1-1.6 2-1.7 2-1.8 1.9-1.8 1.9-1.8 1.8-2 1.7-2 1.7-2.1 1.6-2.1 1.4-2.2 1.4-2.3 1.2-2.4 1.1-2.4 1.1-2.4 1-2.4 .9-2.5 .8-2.5 .8-2.5 .7-2.5 .7-2.5 .6-2.6 .5-2.5 .5-2.6 .4-2.6 .4-2.6 .2-2.6 .2-2.6 0-2.6-.1-2.6-.2-2.6-.3-2.5-.4-2.6-.5-2.5-.6-2.6-.6-2.5-.7-2.5-.8-2.4-.9-2.5-.9-2.4-.9-2.4-1-2.4-1.1-2.3-1.1-2.3-1.2-2.3-1.2-2.3-1.3-2.3-1.3-2.2-1.4-2.2-1.4-2.1-1.5-2.1-1.5-2.1-1.5-2.1-1.7-2-1.6-2-1.7-1.9-1.7-2-1.8-1.9-1.7-1.9-1.8-1.9-1.7-1.9-1.8-1.9-1.8-1.9-1.8-1.8-1.9-1.9-1.8-1.8-1.8-1.8-1.9-1.8-1.9-1.8-1.9-1.8-1.9-1.7-1.9-1.8-2-1.6-2-1.7-2-1.6-2-1.6-2.1-1.6-2-1.5-2.1-1.5-2.2-1.5-2.1-1.4-2.2-1.3-2.3-1.2-2.3-1.2-2.3-1-2.4-.9-2.5-.8-2.4-.7-2.6-.6-2.5-.4-2.6-.3-2.6-.1-2.6 0-2.6 .3-2.6 .4-2.5 .5-2.6 .7-2.5 .8-2.5 1-2.4 1.1-2.3 1.3-2.3 1.3-2.2 1.5-2.2 1.6-2.1 1.6-2 1.6-2 1.7-2 1.8-1.9 1.8-1.9 1.9-1.8 1.8-1.8 2-1.8 1.9-1.7 2.1-1.6 2-1.6 2.1-1.6 2.1-1.5 2.2-1.4 2.2-1.4 2.3-1.3 2.3-1.2 2.3-1.2 2.3-1.1 2.4-1 2.5-1 2.4-.9 2.5-.9 2.4-.8 2.5-.7 2.6-.6 2.5-.5 2.6-.4z"/><path id="m20a" d="M281.6 539.3l3.3-.1 3.2 .1 3.1 .2 3 .3 2.9 .4 2.9 .5 2.9 .6 2.8 .6 2.8 .6 2.8 .8 2.8 .7 2.7 .9 2.7 .9 2.8 1 2.7 1 2.7 1.1 2.6 1.2 2.6 1.2 2.6 1.3 2.6 1.3 2.5 1.4 2.5 1.5 2.4 1.5 2.4 1.5 2.4 1.6 2.3 1.5 2.2 1.7 2.3 1.6 2.2 1.7 2.2 1.7 2.2 1.7 2.1 1.7 2.1 1.8 2.1 1.8 2.1 1.8 2 1.8 2 1.9 2.1 1.9 1.9 1.9 2 1.9 1.9 2 2 2 1.9 2.1 1.9 2.1 1.8 2.2 1.9 2.2 1.8 2.3 1.7 2.3 1.7 2.3 1.6 2.4 1.6 2.5 1.6 2.5 1.4 2.6 1.4 2.7 1.3 2.7 1.3 2.7 1.1 2.9 1.1 2.9 .9 2.9 .9 3.1 .7 3 .5 3.2 .4 3.2 .3 3.2 .1 3.3-.1 3.3-.3 3.3-.4 3.1-.5 3-.7 3-.7 2.9-.8 2.9-.9 2.8-1 2.8-1.1 2.9-1.1 2.8-1.4 2.8-1.4 2.7-1.5 2.7-1.7 2.7-1.8 2.6-1.8 2.4-1.9 2.4-1.9 2.2-2 2.2-2.1 2.2-2.2 2.1-2.3 2.1-2.4 2-2.6 2-2.7 1.8-2.8 1.6-2.8 1.5-2.7 1.4-2.8 1.2-2.8 1.1-2.8 1-2.7 1-2.8 .8-2.7 .8-2.8 .8-2.8 .7-2.9 .6-2.9 .5-2.9 .5-3 .4-3.1 .3-3.1 .2-3.1 0-3.2-.1-3.1-.3-3.1-.3-3-.5-3-.6-2.9-.6-2.8-.8-2.9-.8-2.7-.8-2.8-1-2.7-1-2.7-1.1-2.7-1.1-2.6-1.2-2.6-1.2-2.6-1.3-2.5-1.4-2.5-1.3-2.5-1.5-2.4-1.5-2.5-1.6-2.4-1.6-2.4-1.7-2.3-1.8-2.2-1.7-2.2-1.8-2.1-1.8-2.1-1.8-2-1.9-2-1.8-2-1.8-2-1.8-1.9-1.9-1.9-1.8-2-1.9-1.9-1.9-1.9-1.9-1.9-1.9-1.9-1.9-1.9-2-1.9-2-1.8-2-1.9-2-1.8-2.1-1.8-2.1-1.8-2.2-1.7-2.2-1.7-2.2-1.7-2.2-1.7-2.3-1.6-2.3-1.7-2.4-1.6-2.5-1.5-2.7-1.5-2.7-1.3-2.8-1.3-3-1.1-2.9-1-3.1-.8-3.1-.7-3.1-.6-3.3-.3-3.3-.2-3.4 .1-3.4 .3-3.5 .5-3.3 .7-3.3 .9-3.1 1-3.1 1.2-3.1 1.5-3.1 1.6-2.9 1.7-2.8 1.7-2.5 1.8-2.5 1.8-2.3 1.9-2.2 1.9-2.2 2-2.2 2-2.1 2.1-2 2.1-2 2.1-1.9 2.2-1.9 2.2-1.9 2.4-1.8 2.3-1.7 2.4-1.7 2.5-1.6 2.5-1.6 2.5-1.5 2.7-1.4 2.6-1.3 2.7-1.3 2.8-1.2 2.6-1.1 2.7-1 2.8-.9 2.8-.9 3-.9 3-.7 3.1-.6 3.3-.5z"/><path id="m20b" d="M283 564.3l1.9-.1 2 .1 2.1 .1 2.2 .2 2.2 .3 2.3 .4 2.2 .4 2.3 .5 2.3 .6 2.2 .6 2.3 .6 2.2 .7 2.2 .7 2.2 .8 2.2 .8 2.1 .9 2.1 .9 2.1 1 2.1 1 2 1.1 2 1.1 2.1 1.2 2 1.3 2 1.2 2 1.4 1.9 1.3 2 1.4 2 1.5 1.9 1.4 2 1.5 1.9 1.6 1.9 1.5 1.9 1.6 1.8 1.6 1.9 1.6 1.8 1.6 1.8 1.7 1.8 1.7 1.8 1.7 1.7 1.7 1.7 1.7 1.7 1.8 1.6 1.8 1.6 1.7 1.6 1.8 1.4 1.8 1.5 1.8 1.4 1.9 1.3 1.8 1.3 1.9 1.2 2 1.2 1.9 1.1 1.9 1 2 1 2 .9 2 .8 1.9 .7 2.1 .7 2 .5 2 .5 1.9 .3 2 .3 2 .2 2 0 1.9-.1 1.8-.1 2-.3 2-.4 2.1-.4 2.1-.6 2.2-.6 2.1-.6 2.2-.8 2.1-.8 2-.8 2-.9 1.9-1 1.9-1 1.8-1.1 1.8-1.2 1.7-1.3 1.7-1.3 1.7-1.5 1.7-1.5 1.7-1.5 1.6-1.6 1.5-1.5 1.4-1.6 1.3-1.6 1.2-1.6 1.1-1.7 1-1.8 1-1.9 .9-2 .9-2.1 .8-2.1 .8-2.2 .7-2.2 .7-2.2 .7-2.3 .6-2.2 .5-2.3 .5-2.2 .4-2.2 .4-2.2 .3-2.1 .2-2.1 .1-2 0-2.1-.1-2.1-.1-2.1-.3-2.1-.3-2.1-.4-2.2-.5-2.2-.6-2.2-.6-2.2-.7-2.2-.7-2.1-.8-2.1-.9-2.2-.9-2.1-.9-2.1-1.1-2.1-1-2.1-1.1-2-1.2-2-1.1-2-1.3-2-1.2-1.9-1.3-1.8-1.3-1.9-1.4-1.8-1.5-1.9-1.5-1.8-1.6-1.8-1.6-1.9-1.6-1.8-1.7-1.9-1.7-1.9-1.8-1.8-1.7-1.8-1.8-1.9-1.7-1.8-1.8-1.7-1.7-1.8-1.8-1.7-1.8-1.8-1.8-1.7-1.8-1.6-1.8-1.7-1.9-1.6-1.8-1.6-1.8-1.5-1.9-1.5-1.9-1.5-1.9-1.5-1.9-1.4-1.9-1.3-2-1.3-1.9-1.2-1.9-1.1-1.8-1-1.9-.9-1.8-.8-1.9-.7-1.9-.6-1.9-.6-1.9-.4-2-.3-1.9-.2-1.9-.1-1.8 0-1.7 .2-1.8 .3-1.8 .4-1.8 .5-1.8 .6-1.9 .7-1.7 .7-1.6 1-1.7 1-1.7 1.2-1.7 1.3-1.8 1.4-1.8 1.5-1.8 1.5-1.7 1.5-1.7 1.6-1.6 1.6-1.6 1.7-1.6 1.8-1.6 1.7-1.5 1.8-1.5 1.8-1.4 1.8-1.3 1.9-1.3 1.9-1.3 1.9-1.2 1.9-1.1 2-1.1 2-1 2-.9 2-.9 2.2-.9 2.2-.8 2.1-.7 2.2-.7 2-.6 2-.5 2-.4 2-.3z"/></defs><use href="#m20" stroke="#9e7424" stroke-width="27"/><g stroke="#f7dc86" stroke-dasharray="2.1 2.8"><use href="#m20" stroke-width="23.5"/><use href="#m20" stroke="#9e7424" stroke-dasharray="none" stroke-width="14.6"/><use href="#m20" stroke-width="14.6" stroke-dashoffset="2"/><use href="#m20" stroke="#9e7424" stroke-dasharray="none" stroke-width="4.7"/><use href="#m20" stroke-width="4.7" stroke-dashoffset="0.5"/></g><g stroke-linecap="round" stroke-dasharray="0 4.9"><use href="#m20a" stroke="#a97824" stroke-width="5"/><use href="#m20a" stroke="#f0b446" stroke-width="3.2"/><use href="#m20b" stroke="#a97824" stroke-width="5"/><use href="#m20b" stroke="#f0b446" stroke-width="3.2"/></g></g><path d="M333 873.3l1.3 0 1.3 0 1.2 0 1.3 0 1.3 .1 1.3 0 1.2 .1 1.3 .1 1.3 .2 1.2 .1 1.3 .2 1.2 .1 1.3 .3 1.2 .2 1.3 .2 1.2 .3 1.2 .3 1.2 .2 1.2 .4 1.3 .3 1.2 .4 1.2 .4 1.2 .4 1.3 .4 1.2 .4 1.2 .5 1.2 .5 1.2 .5 1.2 .5 1.3 .5 1.1 .5 1.2 .6 1.2 .5 1.2 .6 1.1 .6 1.2 .6 1.1 .6 1.1 .7 1.1 .6 1 .6 1 .7 1 .7 1.1 .7 .9 .7 1 .7 1 .8 1 .8 .9 .8 1 .8 .9 .8 .9 .9 .9 .8 1 .9 .9 1 .9 .9 .8 .9 .9 1 .9 1 .8 .9 .9 1 .8 1.1 .8 1 .8 1 .8 1 .8 1.1 .7 1 .7 1.1 .7 1 .7 1.1 .7 1 .6 1.1 .7 1.1 .6 1.1 .5 1.1 .6 1.1 .6 1.1 .5 1.1 .5 1.1 .5 1.1 .4 1.2 .5 1.1 .4 1.2 .4 1.2 .4 1.2 .4 1.3 .4 1.2 .3 1.2 .3 1.2 .3 1.2 .3 1.3 .3 1.2 .2 1.2 .2 1.2 .2 1.2 .2 1.2 .1 1.2 .1 1.1 .1 1.2 .1 1.2 0 1.1 0 1.1 0 1.1-.1 1.2-.1 1.1-.1 1.2-.1 1.2-.2 1.2-.2 1.2-.2 1.2-.2 1.2-.3 1.2-.3 1.2-.3 1.2-.3 1.3-.3 1.2-.4 1.2-.4 1.3-.4 1.2-.4 1.2-.4 1.2-.5 1.2-.4 1.2-.5 1.1-.5 1.2-.5 1.1-.5 1.1-.6 1.2-.6 1.1-.6 1.1-.6 1.2-.6 1.1-.7 1.1-.7 1.2-.7 1.1-.7 1.1-.7 1.1-.8 1.2-.7 1.1-.8 1.1-.8 1.2-.8 1-.8 1.1-.8 1.1-.8 1.1-.8 1-.9 1.1-.8 1.1-.9 1-.9 1.1-.9 1-.9 1.1-.9 1-.9 1-.9 1-1 1-.9 1-1 1-.9 1-1 1-1 1-.9 .9-1 1-1 .9-1.1 1-1 .9-1 .9-1.1 1-1 .9-1 .9-1.1 .8-1 .9-1 .8-1.1 .9-1 .8-1.1 .8-1 .7-1.1 .8-1.1 .7-1 .8-1.1 .7-1.1 .7-1 .6-1.1 .7-1.1 .6-1.2 .6-1.1 .6-1.2 .6-1.1 .6-1.2 .6-1.2 .5-1.2 .5-1.2 .6-1.2 .5-1.2 .5-1.2 .5-1.3 .4-1.2 .5-1.3 .4-1.2 .4-1.3 .5-1.2 .3-1.3 .4-1.2 .4-1.3 .3-1.2 .3-1.3 .4-1.3 .3-1.3 .2-1.3 .3-1.3 .3-1.3 .2-1.2 .2-1.3 .2-1.2 .2-1.3 .1-1.2 .1-1.2 .1-1.2 .1-1.2 .1-1.2 0-1.1 0-1.1-.1-1.1 0-1.1-.1-1-.1-1-.1-1.1-.2-1-.2-1.1-.3-1-.3-1.1-.3-1.2-.3-1.1-.4-1.2-.4-1.1-.5-1.2-.5-1.2-.5-1.3-.5-1.2-.5-1.3-.6-1.2-.6-1.3-.6-1.3-.6-1.2-.5-1.2-.6-1.1-.6-1.2-.6-1.1-.7-1.2-.6-1.1-.6-1.2-.7-1.1-.7-1.1-.7-1.1-.7-1-.7-1.1-.8-1.1-.7-1.1-.8-1-.8-1.1-.8-1-.8-1-.8-1.1-.9-1-.8-1-.9-1-.9-1-.9-1-.9-1-.9-1-.9-.9-.9-.9-.9-.9-1-.9-.9-.9-.9-.8-1-.9-.9-.8-1-.7-.9-.8-1-.7-1-.7-1-.8-1-.7-1.1-.7-1-.6-1.1-.7-1.1-.7-1.1-.6-1.1-.6-1.1-.6-1.2-.6-1.1-.5-1.1-.6-1.1-.5-1.2-.5-1.1-.4-1.1-.5-1.1-.3-1.1-.4-1.1-.3-1.1-.4-1.1-.2-1.1-.3-1-.2-1.2-.2-1-.1-1.1-.2-1.2-.1-1-.1-1.2 0-1.1 0-1.1 0-1.2 0-1.2 0-1.1 .1-1.2 .1-1.1 .2-1 .1-1.2 .2-1 .3-1.2 .2-1.2 .3-1.1 .3-1.2 .4-1.2 .3-1.2 .4-1.3 .4-1.2 .5-1.3 .4-1.3 .5-1.2 .5-1.3 .4-1.2 .5-1.2 .5-1.2 .5-1.2 .6-1.2 .5-1.2 .6-1.2 .6-1.2 .6-1.1 .7-1.3 .6-1.1 .6-1.2 .7-1.2 .7-1.2 .7-1.2 .7-1.2 .7-1.2 .7-1.2 .8-1.2 .7-1.2 .8-1.2 .8-1.1 .7-1.2 .8-1.2 .8-1.1 .8-1.2 .8-1.1 .8-1.2 .8-1.1 .8-1.1 .8-1.1 .9-1.1 .8-1.1 .8-1 .9-1.1 .8-1.1 .9-1 .9-1.1 .9-1.1 1-1 .9-1.1 .9-1.1 1-1 .9-1 .9-1.1 1-1 .9-.9 .9-1 1-1 .9-.9 1-.9 .9-.9 1-.9 .9-.8 1-.8 .9-.8 1-.8 1-.8 1-.7 1-.8 1.1-.7 1.1-.7 1-.8 1.1-.7 1.1-.6 1.1-.7 1.2-.7 1.1-.6 1.1-.6 1.1-.6 1.2-.6 1.1-.6 1.2-.5 1.1-.6 1.2-.5 1.1-.5 1.2-.4 1.1-.4 1.2-.5 1.1-.4 1.2-.3 1.1-.4 1.2-.3 1.2-.3 1.2-.3 1.2-.2 1.2-.3 1.2-.2 1.3-.2 1.2-.2 1.2-.2 1.3-.1 1.2-.1 1.3-.1 1.2-.1 1.3-.1z" fill="url(#gnk)"/><path d="M333.4 888.3l1 0 1.1 0 1.1 0 1 0 1.1 .1 1 0 1.1 .1 1 .1 1.1 .1 1 .1 1 .1 1.1 .2 1 .1 1 .2 1 .2 1 .2 1 .2 .9 .3 1 .2 1 .3 1 .3 1 .3 1 .4 1.1 .3 1 .4 1 .4 1.1 .4 1 .4 1 .5 1.1 .4 1 .5 1 .5 1 .4 1 .5 1 .5 .9 .5 .9 .5 .9 .5 .9 .5 .8 .5 .8 .6 .8 .5 .8 .5 .7 .6 .8 .5 .8 .6 .7 .6 .8 .7 .8 .6 .7 .7 .8 .7 .7 .7 .8 .8 .7 .7 .8 .8 .7 .8 .8 .8 .7 .8 .7 .9 .7 .8 .7 .9 .7 .9 .7 .8 .7 .9 .6 .8 .6 .9 .6 .9 .6 .9 .6 .8 .5 .9 .5 .9 .5 .8 .5 .9 .5 .9 .4 .8 .4 .9 .5 .9 .3 .8 .4 .9 .3 .9 .4 .9 .4 .9 .3 1 .3 1 .3 1 .3 1 .3 1 .3 1 .2 1 .3 1 .2 1 .1 .9 .2 1 .2 .9 .1 .9 .1 .9 .1 .8 0 .8 .1 .8 0 .8 0 .7 0 .8-.1 .8 0 .8-.1 .8-.1 .9-.1 .9-.2 .9-.1 .9-.2 1-.2 .9-.3 1-.2 1-.3 1-.3 1.1-.3 1-.3 1-.3 1.1-.4 1-.3 1-.4 1-.4 .9-.3 .9-.4 .9-.4 .9-.5 .9-.4 .9-.5 1-.5 .9-.5 1-.5 .9-.6 1-.6 1-.6 .9-.6 1-.7 1-.6 1-.7 1.1-.7 1-.7 1-.7 1-.8 .9-.6 1-.8 .9-.7 1-.8 .9-.7 1-.8 .9-.8 1-.8 .9-.9 1-.8 .9-.8 1-.9 .9-.8 .9-.9 .9-.8 .9-.9 .9-.9 .9-.9 .9-.9 .8-.9 .9-.9 .9-.9 .8-1 .9-1 .9-.9 .8-.9 .8-1 .8-.9 .8-.9 .8-.9 .7-.9 .8-.9 .7-1 .7-.9 .6-.9 .7-.8 .6-.9 .6-.9 .6-.9 .5-.9 .6-.9 .5-.9 .5-.9 .5-.9 .5-1 .5-1 .5-1 .5-1 .5-1 .4-1.1 .5-1 .4-1.1 .5-1 .4-1.1 .4-1.1 .4-1.1 .4-1 .3-1.1 .4-1.1 .3-1.1 .3-1 .3-1.1 .3-1.1 .3-1.1 .3-1.1 .2-1.1 .3-1.1 .2-1.2 .2-1 .2-1.1 .2-1 .1-1 .2-1 .1-1 .1-.9 .1-.9 0-.9 .1-.8 0-.8 0-.7 0-.8-.1-.6 0-.6-.1-.5-.1-.6-.1-.6-.1-.6-.2-.8-.1-.7-.2-.8-.3-.8-.3-1-.3-.9-.4-1-.4-1-.4-1.1-.4-1.1-.5-1.2-.5-1.2-.6-1.2-.6-1.1-.5-1.1-.5-1.1-.5-.9-.5-1-.6-1-.5-1-.5-.9-.6-1-.6-1-.5-.9-.7-.9-.5-.9-.7-1-.6-.9-.6-.9-.7-.9-.6-.9-.7-.9-.7-.9-.8-.9-.7-.9-.8-.9-.8-.9-.7-.9-.8-.9-.8-.8-.8-.9-.8-.8-.8-.8-.8-.7-.7-.8-.9-.7-.7-.7-.8-.7-.8-.6-.7-.6-.8-.6-.7-.6-.8-.5-.8-.6-.8-.6-.8-.5-.9-.6-.9-.6-.9-.5-.9-.5-.9-.5-1-.5-.9-.5-.9-.4-.9-.5-.9-.4-1-.3-.8-.4-.8-.3-.9-.3-.7-.3-.9-.2-.6-.2-.8-.2-.7-.1-.6-.2-.9-.1-.6-.1-.6-.1-.9 0-.6-.1-.8 0-.8 0-.8 0-.9 0-.8 0-.8 .1-.8 0-.6 .1-.6 .1-.9 .2-.6 .1-.8 .2-.9 .2-.9 .3-1 .3-.9 .3-1 .3-1.1 .3-1 .4-1.2 .4-1.1 .4-1.1 .5-1.2 .4-1 .4-1 .4-1 .4-1 .5-1 .5-1 .5-1.1 .5-1 .5-1 .6-1.1 .6-1.1 .6-1.1 .6-1 .6-1.1 .6-1.1 .7-1.1 .6-1.1 .7-1.1 .7-1.1 .7-1.1 .7-1.1 .7-1.1 .7-1.1 .8-1.1 .7-1.1 .7-1 .7-1.1 .8-1 .7-1.1 .8-1 .7-1 .8-1 .7-1 .8-.9 .8-1 .7-.9 .8-1 .8-1 .9-1 .9-1 .9-1 .8-1 .9-1 .9-.9 .8-1 .9-.8 .8-.9 .8-.9 .9-.8 .8-.8 .8-.8 .8-.8 .8-.7 .8-.7 .8-.7 .7-.6 .8-.6 .8-.6 .8-.6 .9-.7 .8-.6 1-.6 .9-.6 .9-.6 .9-.6 .9-.6 1-.5 .9-.5 1-.6 .9-.5 .9-.4 1-.5 .9-.5 .9-.4 1-.4 .9-.4 .9-.3 .9-.4 .9-.3 .9-.3 .9-.3 .9-.3 .9-.2 .9-.2 .9-.3 1-.2 .9-.1 1-.2 1-.2 1-.1 .9-.2 1.1-.1 .9-.1 1.1 0 1-.1 1.1-.1z" fill="none" stroke="#d9a54a" stroke-width="9" opacity="0.5" filter="url(#ib2)"/><ellipse cx="324.6" cy="942.3" rx="35" ry="29" transform="rotate(25 324.6 942.3)" fill="url(#gnkn)"/><g fill="none"><defs><path id="m21" d="M333 873.3l2.6 0 2.6 0 2.6 .1 2.6 .2 2.6 .3 2.6 .4 2.5 .4 2.6 .6 2.5 .6 2.5 .7 2.5 .8 2.4 .8 2.5 1 2.4 .9 2.4 1.1 2.3 1.1 2.4 1.1 2.3 1.2 2.2 1.3 2.2 1.4 2.2 1.5 2.1 1.5 2 1.6 2 1.7 1.9 1.8 1.9 1.8 1.8 1.8 1.8 1.9 1.7 2 1.6 2 1.6 2.1 1.6 2.1 1.5 2.1 1.4 2.2 1.3 2.2 1.3 2.3 1.2 2.3 1.1 2.4 1 2.4 .9 2.4 .8 2.5 .8 2.4 .7 2.6 .5 2.5 .6 2.5 .4 2.6 .3 2.6 .1 2.6 .1 2.6-.1 2.6-.3 2.6-.3 2.6-.5 2.5-.6 2.6-.6 2.5-.7 2.5-.8 2.4-.9 2.5-.9 2.4-1.1 2.4-1.1 2.4-1.1 2.3-1.3 2.3-1.3 2.2-1.4 2.2-1.4 2.2-1.4 2.2-1.5 2.1-1.5 2.1-1.6 2.1-1.6 2-1.7 2.1-1.6 2-1.8 1.9-1.7 1.9-1.8 2-1.8 1.8-1.8 1.9-1.8 1.8-1.9 1.8-1.9 1.8-2 1.7-1.9 1.7-2 1.7-2 1.6-2.1 1.6-2.1 1.6-2.1 1.5-2.2 1.4-2.2 1.4-2.3 1.2-2.3 1.3-2.3 1.1-2.4 1.1-2.4 1.1-2.4 .9-2.4 1-2.4 .8-2.5 .8-2.5 .8-2.5 .7-2.6 .6-2.5 .5-2.5 .5-2.6 .5-2.6 .3-2.6 .3-2.6 .1-2.6 .1-2.6-.1-2.6-.3-2.5-.5-2.5-.7-2.5-.8-2.4-.9-2.5-.9-2.4-1.1-2.3-1-2.4-1.1-2.3-1.2-2.3-1.1-2.3-1.3-2.3-1.3-2.2-1.3-2.2-1.4-2.1-1.5-2.1-1.5-2.1-1.6-2-1.6-2-1.7-2-1.7-1.9-1.8-1.9-1.7-1.9-1.9-1.8-1.9-1.7-1.9-1.7-2-1.6-2-1.5-2.1-1.5-2.2-1.4-2.2-1.3-2.2-1.2-2.3-1.2-2.3-1.1-2.4-1-2.4-.9-2.4-.8-2.5-.6-2.5-.5-2.6-.3-2.6-.2-2.6 0-2.6 .1-2.6 .2-2.6 .4-2.5 .6-2.6 .6-2.5 .8-2.5 .8-2.5 .9-2.4 .9-2.4 .9-2.5 1.1-2.4 1.1-2.3 1.1-2.3 1.2-2.4 1.2-2.2 1.3-2.3 1.3-2.2 1.4-2.3 1.4-2.2 1.4-2.2 1.4-2.2 1.4-2.1 1.5-2.2 1.5-2.1 1.6-2.1 1.6-2 1.6-2.1 1.6-2 1.7-2 1.7-2 1.7-1.9 1.7-2 1.8-1.9 1.8-1.8 1.8-1.9 1.9-1.8 1.9-1.7 2-1.7 2-1.7 2.1-1.5 2.2-1.5 2.1-1.4 2.2-1.4 2.3-1.3 2.3-1.3 2.3-1.1 2.3-1.1 2.4-1.1 2.5-.9 2.4-.9 2.5-.7 2.5-.6 2.6-.6 2.5-.5 2.6-.3 2.6-.3 2.6-.2z"/><path id="m21a" d="M332.7 860.8l2.9 0 3 0 3 .2 3 .2 2.9 .3 3 .5 3 .5 2.9 .6 3 .7 2.9 .8 2.8 .9 2.8 1 2.7 1 2.7 1.1 2.7 1.2 2.6 1.2 2.7 1.3 2.6 1.4 2.6 1.5 2.6 1.6 2.6 1.7 2.5 1.8 2.4 2 2.3 1.9 2.2 2.1 2.1 2 2.1 2.2 2 2.1 1.9 2.2 1.9 2.3 1.8 2.3 1.7 2.4 1.7 2.4 1.7 2.5 1.5 2.6 1.5 2.7 1.4 2.7 1.3 2.8 1.2 2.8 1.1 2.9 .9 2.8 .9 2.9 .8 2.9 .7 2.9 .6 3 .4 3.1 .4 3.1 .2 3.3 .1 3.3-.2 3.3-.3 3.1-.4 3.2-.6 3-.6 3-.8 2.9-.8 2.8-.9 2.8-1 2.8-1 2.8-1.2 2.8-1.3 2.8-1.4 2.6-1.4 2.6-1.5 2.6-1.5 2.4-1.5 2.4-1.6 2.4-1.6 2.3-1.7 2.3-1.7 2.2-1.8 2.3-1.7 2.1-1.9 2.2-1.8 2.1-1.9 2.1-1.9 2-1.9 2-2 2-2 2-2 1.9-2 1.9-2.1 1.9-2.1 1.8-2.2 1.8-2.2 1.8-2.3 1.8-2.3 1.7-2.4 1.7-2.5 1.6-2.6 1.6-2.6 1.5-2.6 1.4-2.6 1.3-2.6 1.2-2.7 1.2-2.7 1.1-2.7 1-2.7 1-2.8 .9-2.8 .8-2.8 .8-2.8 .7-2.8 .6-2.9 .5-2.9 .5-3 .4-3.1 .3-3.1 .2-3.3 .1-3.3-.2-3.5-.4-3.5-.6-3.2-.9-3.1-.9-2.8-1.1-2.8-1.1-2.6-1.1-2.5-1.2-2.5-1.1-2.6-1.3-2.6-1.3-2.5-1.4-2.6-1.4-2.5-1.6-2.4-1.5-2.4-1.7-2.4-1.7-2.3-1.8-2.3-1.8-2.1-1.8-2.2-1.9-2.1-1.9-2.1-2-2.1-2-2-2.1-2-2.3-2-2.3-1.9-2.4-1.8-2.5-1.7-2.5-1.6-2.5-1.5-2.6-1.4-2.6-1.3-2.7-1.3-2.7-1.2-2.9-1.1-3-1-3.1-.8-3.3-.7-3.3-.4-3.3-.2-3.3 0-3.2 .1-3.3 .3-3.3 .5-3.3 .7-3.2 .8-3 .8-2.8 1-2.8 .9-2.7 1-2.7 1.1-2.7 1.2-2.7 1.2-2.6 1.2-2.6 1.4-2.5 1.3-2.5 1.4-2.4 1.4-2.4 1.4-2.4 1.5-2.3 1.5-2.4 1.5-2.3 1.5-2.3 1.6-2.2 1.6-2.3 1.7-2.2 1.7-2.3 1.7-2.2 1.8-2.2 1.8-2.1 1.7-2.1 1.8-2 1.9-2.1 1.9-2 1.9-2.1 2.1-2 2.1-2 2.1-2 2.3-2 2.4-1.9 2.4-1.8 2.4-1.6 2.5-1.7 2.5-1.5 2.5-1.5 2.6-1.4 2.7-1.4 2.7-1.2 2.8-1.2 2.9-1.2 2.9-1 3-.8 3-.8 2.9-.7 3.1-.5 3-.4 3-.4 3-.2z"/><path id="m21b" d="M333.3 885.8l2.2 0 2.3 0 2.2 .1 2.2 .2 2.2 .2 2.2 .3 2.2 .4 2.1 .5 2.1 .5 2.1 .6 2.1 .7 2.2 .7 2.1 .8 2.1 .9 2.1 .9 2.1 .9 2 1 2 1.1 1.9 1.1 1.9 1.1 1.7 1.2 1.7 1.2 1.7 1.4 1.6 1.4 1.6 1.4 1.6 1.6 1.6 1.6 1.5 1.7 1.5 1.7 1.5 1.8 1.4 1.7 1.3 1.8 1.3 1.9 1.2 1.8 1.1 1.9 1.1 1.9 .9 1.9 .9 1.9 .8 2 .8 2 .7 2.1 .7 2.1 .5 2.1 .5 2.1 .4 2.1 .4 2.1 .2 2 .2 2 0 1.9-.1 1.9-.2 2-.3 2.1-.4 2-.4 2.1-.6 2.2-.6 2.1-.7 2.2-.7 2.1-.8 2-.9 2-.9 2-1 2-1.1 1.9-1.1 2-1.2 2-1.3 2-1.3 1.9-1.4 2-1.4 1.9-1.4 1.9-1.5 1.8-1.5 1.9-1.5 1.8-1.6 1.8-1.6 1.8-1.7 1.8-1.6 1.7-1.7 1.7-1.7 1.7-1.8 1.7-1.8 1.6-1.8 1.7-1.8 1.5-1.8 1.6-1.8 1.4-1.8 1.5-1.9 1.3-1.8 1.3-1.9 1.2-1.9 1.2-1.9 1.1-2 1-2 1.1-2.1 .9-2.1 .9-2.1 .9-2.2 .8-2.2 .8-2.1 .7-2.2 .7-2.2 .6-2.3 .5-2.2 .5-2.3 .4-2.2 .4-2.2 .3-2.1 .2-2 .2-2 0-1.8-.1-1.7-.2-1.6-.3-1.8-.5-2-.6-2-.7-2.1-.9-2.1-.9-2.2-1-2.2-1-2.2-1-2-1.1-2-1.1-2-1.1-2-1.2-1.9-1.3-1.8-1.2-1.9-1.4-1.8-1.4-1.8-1.4-1.8-1.5-1.8-1.6-1.8-1.5-1.6-1.6-1.7-1.6-1.5-1.7-1.5-1.6-1.4-1.7-1.3-1.6-1.3-1.8-1.2-1.8-1.2-1.9-1.1-1.9-1.1-1.9-1-2-.9-2-.8-1.9-.7-1.9-.6-1.8-.4-1.8-.4-1.8-.2-1.8-.1-1.9 0-2 0-2 .2-1.8 .3-1.8 .4-2 .6-2 .6-2.1 .7-2.2 .8-2.2 .8-2.2 .9-2.1 .9-2.1 .9-2.1 1.1-2.1 1-2.1 1.2-2.1 1.2-2.1 1.2-2.1 1.2-2 1.3-2.1 1.4-2.1 1.3-2 1.4-2.1 1.4-2 1.4-1.9 1.4-2 1.4-1.9 1.5-1.9 1.5-1.8 1.6-1.9 1.6-1.9 1.6-1.8 1.7-1.8 1.6-1.8 1.6-1.7 1.7-1.7 1.6-1.6 1.7-1.5 1.7-1.4 1.7-1.4 1.7-1.3 1.9-1.3 1.9-1.2 1.9-1.2 1.9-1.1 2-1.1 2-1 2-.9 2-.9 1.9-.8 2-.6 2.1-.7 2-.5 2.1-.4 2.1-.4 2.2-.3 2.1-.3 2.2-.1z"/></defs><use href="#m21" stroke="#9e7424" stroke-width="27"/><g stroke="#f7dc86" stroke-dasharray="2.1 2.8"><use href="#m21" stroke-width="23.5"/><use href="#m21" stroke="#9e7424" stroke-dasharray="none" stroke-width="14.6"/><use href="#m21" stroke-width="14.6" stroke-dashoffset="2"/><use href="#m21" stroke="#9e7424" stroke-dasharray="none" stroke-width="4.7"/><use href="#m21" stroke-width="4.7" stroke-dashoffset="0.5"/></g><g stroke-linecap="round" stroke-dasharray="0 4.9"><use href="#m21a" stroke="#a97824" stroke-width="5"/><use href="#m21a" stroke="#f0b446" stroke-width="3.2"/><use href="#m21b" stroke="#a97824" stroke-width="5"/><use href="#m21b" stroke="#f0b446" stroke-width="3.2"/></g></g><path d="M309.6 716L310.8 758.5L328.5 751.5" fill="none" stroke="#000" stroke-width="4.4" stroke-linejoin="miter" stroke-linecap="round"/><path d="M348.5 879L349.2 833L328 840" fill="none" stroke="#000" stroke-width="4.4" stroke-linejoin="miter" stroke-linecap="round"/><text transform="translate(246,605.5) scale(.5)" font-family="Liberation Sans, sans-serif" font-size="47" font-weight="bold" textLength="185" lengthAdjust="spacingAndGlyphs" stroke="#000" stroke-width="1.8">NK cell</text><text transform="translate(130,778.4) scale(.5)" font-family="Liberation Sans, sans-serif" font-size="42.8" font-weight="bold" textLength="242.6" lengthAdjust="spacingAndGlyphs" stroke="#000" stroke-width="1.6">Tumor cell</text><rect x="62" y="630.5" width="114.5" height="57.5" fill="none" stroke="#e02a22" stroke-width="3.2" stroke-dasharray="15.5 8.5"/><text transform="translate(73.8,672.7) scale(.5)" font-family="Liberation Sans, sans-serif" font-size="65" fill="#e02a22" textLength="175" lengthAdjust="spacingAndGlyphs" stroke="#e02a22" stroke-width="1.4">ADCC</text>
<ellipse cx="135" cy="1283" rx="52" ry="7" fill="#b0b0b0" opacity="0.55" filter="url(#ib2)"/><path d="M24.5 1232C42 1243 60 1250 82 1251L82 1246C62 1246 44 1240 24.5 1232Z" fill="#d8d6d0" stroke="#9a9890" stroke-width="1.2" stroke-linejoin="round"/><path d="M109 1285C110 1292 112 1297 118 1302C122 1304 126 1301 125 1297C122 1292 121 1287 121 1282Z" fill="#ece8d8" stroke="#a8a498" stroke-width="1.2"/><path d="M146 1284C146 1290 148 1296 153 1299C157 1301 161 1299 160 1295C157 1291 157 1287 158 1281Z" fill="#ece8d8" stroke="#a8a498" stroke-width="1.2"/><ellipse cx="83" cy="1268" rx="4" ry="5" fill="#fff" stroke="#a8a8a8" stroke-width="1.2"/><path d="M80 1250C78 1225 95 1203 122 1199C140 1197 152 1204 158 1214C166 1226 172 1236 180 1244C187 1250 192 1255 191.5 1259C190 1266 185 1270 176 1272C165 1274 158 1276 150 1281C138 1287 120 1288 105 1284C92 1280 82 1270 80 1250Z" fill="url(#gmouse)" stroke="#9a9c9e" stroke-width="1.4"/><path d="M95 1262C105 1280 130 1286 152 1279C140 1270 120 1262 95 1262Z" fill="#b9c7d0" opacity="0.55" filter="url(#ib2)"/><ellipse cx="141.5" cy="1205.5" rx="10.8" ry="9" transform="rotate(15 141.5 1205.5)" fill="#f5bcb8" stroke="#d8b0ac" stroke-width="1"/><ellipse cx="143" cy="1207" rx="6.5" ry="5.5" transform="rotate(15 143 1207)" fill="#f3a7a3" opacity="0.8"/><path d="M156 1222L167.5 1205C169 1212 169.5 1224 168 1234Z" fill="#f2f2f0" stroke="#9a9c9e" stroke-width="1.2" stroke-linejoin="round"/><ellipse cx="128" cy="1245" rx="12.5" ry="15.5" transform="rotate(-12 128 1245)" fill="#e9e1dc" stroke="#9a9c9e" stroke-width="1.4"/><path d="M132 1240C136 1242 137 1248 134 1252" fill="none" stroke="#8a8a8a" stroke-width="1.6"/><path d="M140 1232C152 1234 168 1240 182 1252C176 1262 160 1268 146 1266Z" fill="#fff" opacity="0.7" filter="url(#ib2)"/><ellipse cx="160.5" cy="1255.2" rx="6.6" ry="5" transform="rotate(10 160.5 1255.2)" fill="#0a0a0a"/><path d="M166 1268C172 1266 178 1266 184 1268" fill="none" stroke="#b0aaa4" stroke-width="1.2"/><path d="M200 1245.7H872" stroke="#111" stroke-width="7.2" fill="none"/><path d="M815.5 1228L819.5 1219.5L889 1245.7L819.5 1272L815.5 1263.5L863 1245.7Z" fill="#111"/><rect x="233.3" y="1235.8" width="8.4" height="15.8" fill="#111" /><rect x="345.2" y="1235.8" width="8.4" height="15.8" fill="#111" /><rect x="485.3" y="1235.8" width="8.4" height="15.8" fill="#111" /><rect x="625.8" y="1235.8" width="8.4" height="15.8" fill="#111" /><rect x="766.4" y="1235.8" width="8.4" height="15.8" fill="#111" /><path d="M261 1256.4L285.1 1235.8" stroke="#111" stroke-width="3.6" fill="none"/><path d="M297.9 1256.4L322 1235.8" stroke="#111" stroke-width="3.6" fill="none"/><text transform="translate(349.7,1272) scale(.5)" font-family="Liberation Sans, sans-serif" font-size="43.6" font-weight="bold" text-anchor="middle" stroke="#000" stroke-width="0.8">0</text><text transform="translate(489.8,1272) scale(.5)" font-family="Liberation Sans, sans-serif" font-size="43.6" font-weight="bold" text-anchor="middle" stroke="#000" stroke-width="0.8">5</text><text transform="translate(630.3,1272) scale(.5)" font-family="Liberation Sans, sans-serif" font-size="43.6" font-weight="bold" text-anchor="middle" stroke="#000" stroke-width="0.8">10</text><text transform="translate(770.9,1272) scale(.5)" font-family="Liberation Sans, sans-serif" font-size="43.6" font-weight="bold" text-anchor="middle" stroke="#000" stroke-width="0.8">15</text><text transform="translate(290.5,1288) scale(.5)" font-family="Liberation Sans, sans-serif" font-size="46" font-weight="bold" text-anchor="middle" stroke="#000" stroke-width="0.8">2–3</text><text transform="translate(294.7,1310.6) scale(.5)" font-family="Liberation Sans, sans-serif" font-size="46" font-weight="bold" text-anchor="middle" stroke="#000" stroke-width="0.8">weeks</text><path d="M237.5 1264.4C240.5 1282.4 245.5 1298.4 252.5 1311.9L240.5 1302.4V1350H234.5V1302.4L222.5 1311.9C229.5 1298.4 234.5 1282.4 237.5 1264.4Z" fill="#000"/><path d="M349.4 1279.3C352.4 1297.3 357.4 1313.3 364.4 1326.8L352.4 1317.3V1348.4H346.4V1317.3L334.4 1326.8C341.4 1313.3 346.4 1297.3 349.4 1279.3Z" fill="#000"/><path d="M489.5 1279.3C492.5 1297.3 497.5 1313.3 504.5 1326.8L492.5 1317.3V1348.4H486.5V1317.3L474.5 1326.8C481.5 1313.3 486.5 1297.3 489.5 1279.3Z" fill="#000"/><path d="M630 1279.3C633 1297.3 638 1313.3 645 1326.8L633 1317.3V1348.4H627V1317.3L615 1326.8C622 1313.3 627 1297.3 630 1279.3Z" fill="#000"/><path d="M770.6 1279.3C773.6 1297.3 778.6 1313.3 785.6 1326.8L773.6 1317.3V1348.4H767.6V1317.3L755.6 1326.8C762.6 1313.3 767.6 1297.3 770.6 1279.3Z" fill="#000"/><path d="M216 1365l1.3-1.1 1.9-.8 2.3-.5 2.5-.4 2.6-.3 2.4-.4 2.3-.5 2.4-.4 2.5-.5 2.4-.3 2.3-.2 2.1-.1 2 .1 1.8 .1 1.8 .3 1.6 .4 1.5 .7 1.3 .9 1.2 1.2 1 1.5 .9 1.6 .8 1.9 .6 1.9 .5 1.9 .4 2.1 .3 2.2 .2 2.4 0 2.3-.1 2.1-.3 1.9-.5 1.6-.6 1.5-.7 1.4-1 1.2-1.2 1-1.5 .8-1.8 .5-2.2 .3-2.5 .1-2.5 0-2.6 0-2.4 .1-2.4 .2-2.4 .1-2.5 .2-2.4 .1-2.2 0-2.1-.1-1.9-.3-1.9-.3-1.7-.5-1.6-.5-1.3-.7-1.1-.7-.8-.8-.5-.9-.3-1-.1-1 0-1.1 .2-1.2 .4-1.2 .7-1.2 .9-1.2 .9-1.4 .7-1.4 .4-1.6-.2-1.9-.6-2.1-.8-2.3-.6-2.2-.3-1.9z" fill="#d6e4ef" stroke="#2458b0" stroke-width="3.2" stroke-linejoin="round"/><ellipse cx="239" cy="1378" rx="9.5" ry="10.5" fill="#6f9fd8"/><ellipse cx="239.5" cy="1378.5" rx="5.6" ry="6.6" fill="#2458b0"/><path d="M356.2 1377.9L359.4 1370" stroke="#b08d7c" stroke-width="5.2" stroke-linecap="round" opacity="0.85"/><path d="M365.9 1387.6L373.8 1384.4" stroke="#b08d7c" stroke-width="5.2" stroke-linecap="round" opacity="0.85"/><path d="M365.9 1401.4L373.8 1404.6" stroke="#b08d7c" stroke-width="5.2" stroke-linecap="round" opacity="0.85"/><path d="M356.2 1411.1L359.4 1419" stroke="#b08d7c" stroke-width="5.2" stroke-linecap="round" opacity="0.85"/><path d="M342.4 1411.1L339.2 1419" stroke="#b08d7c" stroke-width="5.2" stroke-linecap="round" opacity="0.85"/><path d="M332.7 1401.4L324.8 1404.6" stroke="#b08d7c" stroke-width="5.2" stroke-linecap="round" opacity="0.85"/><path d="M332.7 1387.6L324.8 1384.4" stroke="#b08d7c" stroke-width="5.2" stroke-linecap="round" opacity="0.85"/><path d="M342.4 1377.9L339.2 1370" stroke="#b08d7c" stroke-width="5.2" stroke-linecap="round" opacity="0.85"/><path d="M349.3 1375.5L349.3 1367.5" stroke="#1f9fe0" stroke-width="6.4" stroke-linecap="round"/><path d="M349.3 1367.5L349.3 1360.5L354.6 1355.2M349.3 1360.5L344 1355.2" stroke="#2fb24a" stroke-width="3" fill="none" stroke-linecap="round" stroke-linejoin="round"/><path d="M362.7 1381.1L368.4 1375.4" stroke="#1f9fe0" stroke-width="6.4" stroke-linecap="round"/><path d="M368.4 1375.4L373.3 1370.5L380.8 1370.5M373.3 1370.5L373.3 1363" stroke="#2fb24a" stroke-width="3" fill="none" stroke-linecap="round" stroke-linejoin="round"/><path d="M368.3 1394.5L376.3 1394.5" stroke="#1f9fe0" stroke-width="6.4" stroke-linecap="round"/><path d="M376.3 1394.5L383.3 1394.5L388.6 1399.8M383.3 1394.5L388.6 1389.2" stroke="#2fb24a" stroke-width="3" fill="none" stroke-linecap="round" stroke-linejoin="round"/><path d="M362.7 1407.9L368.4 1413.6" stroke="#1f9fe0" stroke-width="6.4" stroke-linecap="round"/><path d="M368.4 1413.6L373.3 1418.5L373.3 1426M373.3 1418.5L380.8 1418.5" stroke="#2fb24a" stroke-width="3" fill="none" stroke-linecap="round" stroke-linejoin="round"/><path d="M349.3 1413.5L349.3 1421.5" stroke="#1f9fe0" stroke-width="6.4" stroke-linecap="round"/><path d="M349.3 1421.5L349.3 1428.5L344 1433.8M349.3 1428.5L354.6 1433.8" stroke="#2fb24a" stroke-width="3" fill="none" stroke-linecap="round" stroke-linejoin="round"/><path d="M335.9 1407.9L330.2 1413.6" stroke="#1f9fe0" stroke-width="6.4" stroke-linecap="round"/><path d="M330.2 1413.6L325.3 1418.5L317.8 1418.5M325.3 1418.5L325.3 1426" stroke="#2fb24a" stroke-width="3" fill="none" stroke-linecap="round" stroke-linejoin="round"/><path d="M330.3 1394.5L322.3 1394.5" stroke="#1f9fe0" stroke-width="6.4" stroke-linecap="round"/><path d="M322.3 1394.5L315.3 1394.5L310 1389.2M315.3 1394.5L310 1399.8" stroke="#2fb24a" stroke-width="3" fill="none" stroke-linecap="round" stroke-linejoin="round"/><path d="M335.9 1381.1L330.2 1375.4" stroke="#1f9fe0" stroke-width="6.4" stroke-linecap="round"/><path d="M330.2 1375.4L325.3 1370.5L325.3 1363M325.3 1370.5L317.8 1370.5" stroke="#2fb24a" stroke-width="3" fill="none" stroke-linecap="round" stroke-linejoin="round"/><circle cx="340.3" cy="1385.5" r="1.9" fill="#6a3fa0"/><circle cx="350.3" cy="1386" r="1.9" fill="#6a3fa0"/><circle cx="358.3" cy="1389.5" r="1.9" fill="#6a3fa0"/><circle cx="339.3" cy="1395.5" r="1.9" fill="#6a3fa0"/><circle cx="348.3" cy="1396.5" r="1.9" fill="#6a3fa0"/><circle cx="359.3" cy="1398.5" r="1.9" fill="#6a3fa0"/><circle cx="341.3" cy="1404.5" r="1.9" fill="#6a3fa0"/><circle cx="352.3" cy="1406.5" r="1.9" fill="#6a3fa0"/><path d="M496.2 1377.9L499.4 1370" stroke="#b08d7c" stroke-width="5.2" stroke-linecap="round" opacity="0.85"/><path d="M505.9 1387.6L513.8 1384.4" stroke="#b08d7c" stroke-width="5.2" stroke-linecap="round" opacity="0.85"/><path d="M505.9 1401.4L513.8 1404.6" stroke="#b08d7c" stroke-width="5.2" stroke-linecap="round" opacity="0.85"/><path d="M496.2 1411.1L499.4 1419" stroke="#b08d7c" stroke-width="5.2" stroke-linecap="round" opacity="0.85"/><path d="M482.4 1411.1L479.2 1419" stroke="#b08d7c" stroke-width="5.2" stroke-linecap="round" opacity="0.85"/><path d="M472.7 1401.4L464.8 1404.6" stroke="#b08d7c" stroke-width="5.2" stroke-linecap="round" opacity="0.85"/><path d="M472.7 1387.6L464.8 1384.4" stroke="#b08d7c" stroke-width="5.2" stroke-linecap="round" opacity="0.85"/><path d="M482.4 1377.9L479.2 1370" stroke="#b08d7c" stroke-width="5.2" stroke-linecap="round" opacity="0.85"/><path d="M489.3 1375.5L489.3 1367.5" stroke="#1f9fe0" stroke-width="6.4" stroke-linecap="round"/><path d="M489.3 1367.5L489.3 1360.5L494.6 1355.2M489.3 1360.5L484 1355.2" stroke="#2fb24a" stroke-width="3" fill="none" stroke-linecap="round" stroke-linejoin="round"/><path d="M502.7 1381.1L508.4 1375.4" stroke="#1f9fe0" stroke-width="6.4" stroke-linecap="round"/><path d="M508.4 1375.4L513.3 1370.5L520.8 1370.5M513.3 1370.5L513.3 1363" stroke="#2fb24a" stroke-width="3" fill="none" stroke-linecap="round" stroke-linejoin="round"/><path d="M508.3 1394.5L516.3 1394.5" stroke="#1f9fe0" stroke-width="6.4" stroke-linecap="round"/><path d="M516.3 1394.5L523.3 1394.5L528.6 1399.8M523.3 1394.5L528.6 1389.2" stroke="#2fb24a" stroke-width="3" fill="none" stroke-linecap="round" stroke-linejoin="round"/><path d="M502.7 1407.9L508.4 1413.6" stroke="#1f9fe0" stroke-width="6.4" stroke-linecap="round"/><path d="M508.4 1413.6L513.3 1418.5L513.3 1426M513.3 1418.5L520.8 1418.5" stroke="#2fb24a" stroke-width="3" fill="none" stroke-linecap="round" stroke-linejoin="round"/><path d="M489.3 1413.5L489.3 1421.5" stroke="#1f9fe0" stroke-width="6.4" stroke-linecap="round"/><path d="M489.3 1421.5L489.3 1428.5L484 1433.8M489.3 1428.5L494.6 1433.8" stroke="#2fb24a" stroke-width="3" fill="none" stroke-linecap="round" stroke-linejoin="round"/><path d="M475.9 1407.9L470.2 1413.6" stroke="#1f9fe0" stroke-width="6.4" stroke-linecap="round"/><path d="M470.2 1413.6L465.3 1418.5L457.8 1418.5M465.3 1418.5L465.3 1426" stroke="#2fb24a" stroke-width="3" fill="none" stroke-linecap="round" stroke-linejoin="round"/><path d="M470.3 1394.5L462.3 1394.5" stroke="#1f9fe0" stroke-width="6.4" stroke-linecap="round"/><path d="M462.3 1394.5L455.3 1394.5L450 1389.2M455.3 1394.5L450 1399.8" stroke="#2fb24a" stroke-width="3" fill="none" stroke-linecap="round" stroke-linejoin="round"/><path d="M475.9 1381.1L470.2 1375.4" stroke="#1f9fe0" stroke-width="6.4" stroke-linecap="round"/><path d="M470.2 1375.4L465.3 1370.5L465.3 1363M465.3 1370.5L457.8 1370.5" stroke="#2fb24a" stroke-width="3" fill="none" stroke-linecap="round" stroke-linejoin="round"/><circle cx="480.3" cy="1385.5" r="1.9" fill="#6a3fa0"/><circle cx="490.3" cy="1386" r="1.9" fill="#6a3fa0"/><circle cx="498.3" cy="1389.5" r="1.9" fill="#6a3fa0"/><circle cx="479.3" cy="1395.5" r="1.9" fill="#6a3fa0"/><circle cx="488.3" cy="1396.5" r="1.9" fill="#6a3fa0"/><circle cx="499.3" cy="1398.5" r="1.9" fill="#6a3fa0"/><circle cx="481.3" cy="1404.5" r="1.9" fill="#6a3fa0"/><circle cx="492.3" cy="1406.5" r="1.9" fill="#6a3fa0"/><path d="M637.9 1377.9L641.1 1370" stroke="#b08d7c" stroke-width="5.2" stroke-linecap="round" opacity="0.85"/><path d="M647.6 1387.6L655.5 1384.4" stroke="#b08d7c" stroke-width="5.2" stroke-linecap="round" opacity="0.85"/><path d="M647.6 1401.4L655.5 1404.6" stroke="#b08d7c" stroke-width="5.2" stroke-linecap="round" opacity="0.85"/><path d="M637.9 1411.1L641.1 1419" stroke="#b08d7c" stroke-width="5.2" stroke-linecap="round" opacity="0.85"/><path d="M624.1 1411.1L620.9 1419" stroke="#b08d7c" stroke-width="5.2" stroke-linecap="round" opacity="0.85"/><path d="M614.4 1401.4L606.5 1404.6" stroke="#b08d7c" stroke-width="5.2" stroke-linecap="round" opacity="0.85"/><path d="M614.4 1387.6L606.5 1384.4" stroke="#b08d7c" stroke-width="5.2" stroke-linecap="round" opacity="0.85"/><path d="M624.1 1377.9L620.9 1370" stroke="#b08d7c" stroke-width="5.2" stroke-linecap="round" opacity="0.85"/><path d="M631 1375.5L631 1367.5" stroke="#1f9fe0" stroke-width="6.4" stroke-linecap="round"/><path d="M631 1367.5L631 1360.5L636.3 1355.2M631 1360.5L625.7 1355.2" stroke="#2fb24a" stroke-width="3" fill="none" stroke-linecap="round" stroke-linejoin="round"/><path d="M644.4 1381.1L650.1 1375.4" stroke="#1f9fe0" stroke-width="6.4" stroke-linecap="round"/><path d="M650.1 1375.4L655 1370.5L662.5 1370.5M655 1370.5L655 1363" stroke="#2fb24a" stroke-width="3" fill="none" stroke-linecap="round" stroke-linejoin="round"/><path d="M650 1394.5L658 1394.5" stroke="#1f9fe0" stroke-width="6.4" stroke-linecap="round"/><path d="M658 1394.5L665 1394.5L670.3 1399.8M665 1394.5L670.3 1389.2" stroke="#2fb24a" stroke-width="3" fill="none" stroke-linecap="round" stroke-linejoin="round"/><path d="M644.4 1407.9L650.1 1413.6" stroke="#1f9fe0" stroke-width="6.4" stroke-linecap="round"/><path d="M650.1 1413.6L655 1418.5L655 1426M655 1418.5L662.5 1418.5" stroke="#2fb24a" stroke-width="3" fill="none" stroke-linecap="round" stroke-linejoin="round"/><path d="M631 1413.5L631 1421.5" stroke="#1f9fe0" stroke-width="6.4" stroke-linecap="round"/><path d="M631 1421.5L631 1428.5L625.7 1433.8M631 1428.5L636.3 1433.8" stroke="#2fb24a" stroke-width="3" fill="none" stroke-linecap="round" stroke-linejoin="round"/><path d="M617.6 1407.9L611.9 1413.6" stroke="#1f9fe0" stroke-width="6.4" stroke-linecap="round"/><path d="M611.9 1413.6L607 1418.5L599.5 1418.5M607 1418.5L607 1426" stroke="#2fb24a" stroke-width="3" fill="none" stroke-linecap="round" stroke-linejoin="round"/><path d="M612 1394.5L604 1394.5" stroke="#1f9fe0" stroke-width="6.4" stroke-linecap="round"/><path d="M604 1394.5L597 1394.5L591.7 1389.2M597 1394.5L591.7 1399.8" stroke="#2fb24a" stroke-width="3" fill="none" stroke-linecap="round" stroke-linejoin="round"/><path d="M617.6 1381.1L611.9 1375.4" stroke="#1f9fe0" stroke-width="6.4" stroke-linecap="round"/><path d="M611.9 1375.4L607 1370.5L607 1363M607 1370.5L599.5 1370.5" stroke="#2fb24a" stroke-width="3" fill="none" stroke-linecap="round" stroke-linejoin="round"/><circle cx="622" cy="1385.5" r="1.9" fill="#6a3fa0"/><circle cx="632" cy="1386" r="1.9" fill="#6a3fa0"/><circle cx="640" cy="1389.5" r="1.9" fill="#6a3fa0"/><circle cx="621" cy="1395.5" r="1.9" fill="#6a3fa0"/><circle cx="630" cy="1396.5" r="1.9" fill="#6a3fa0"/><circle cx="641" cy="1398.5" r="1.9" fill="#6a3fa0"/><circle cx="623" cy="1404.5" r="1.9" fill="#6a3fa0"/><circle cx="634" cy="1406.5" r="1.9" fill="#6a3fa0"/><path d="M778.9 1377.9L782.1 1370" stroke="#b08d7c" stroke-width="5.2" stroke-linecap="round" opacity="0.85"/><path d="M788.6 1387.6L796.5 1384.4" stroke="#b08d7c" stroke-width="5.2" stroke-linecap="round" opacity="0.85"/><path d="M788.6 1401.4L796.5 1404.6" stroke="#b08d7c" stroke-width="5.2" stroke-linecap="round" opacity="0.85"/><path d="M778.9 1411.1L782.1 1419" stroke="#b08d7c" stroke-width="5.2" stroke-linecap="round" opacity="0.85"/><path d="M765.1 1411.1L761.9 1419" stroke="#b08d7c" stroke-width="5.2" stroke-linecap="round" opacity="0.85"/><path d="M755.4 1401.4L747.5 1404.6" stroke="#b08d7c" stroke-width="5.2" stroke-linecap="round" opacity="0.85"/><path d="M755.4 1387.6L747.5 1384.4" stroke="#b08d7c" stroke-width="5.2" stroke-linecap="round" opacity="0.85"/><path d="M765.1 1377.9L761.9 1370" stroke="#b08d7c" stroke-width="5.2" stroke-linecap="round" opacity="0.85"/><path d="M772 1375.5L772 1367.5" stroke="#1f9fe0" stroke-width="6.4" stroke-linecap="round"/><path d="M772 1367.5L772 1360.5L777.3 1355.2M772 1360.5L766.7 1355.2" stroke="#2fb24a" stroke-width="3" fill="none" stroke-linecap="round" stroke-linejoin="round"/><path d="M785.4 1381.1L791.1 1375.4" stroke="#1f9fe0" stroke-width="6.4" stroke-linecap="round"/><path d="M791.1 1375.4L796 1370.5L803.5 1370.5M796 1370.5L796 1363" stroke="#2fb24a" stroke-width="3" fill="none" stroke-linecap="round" stroke-linejoin="round"/><path d="M791 1394.5L799 1394.5" stroke="#1f9fe0" stroke-width="6.4" stroke-linecap="round"/><path d="M799 1394.5L806 1394.5L811.3 1399.8M806 1394.5L811.3 1389.2" stroke="#2fb24a" stroke-width="3" fill="none" stroke-linecap="round" stroke-linejoin="round"/><path d="M785.4 1407.9L791.1 1413.6" stroke="#1f9fe0" stroke-width="6.4" stroke-linecap="round"/><path d="M791.1 1413.6L796 1418.5L796 1426M796 1418.5L803.5 1418.5" stroke="#2fb24a" stroke-width="3" fill="none" stroke-linecap="round" stroke-linejoin="round"/><path d="M772 1413.5L772 1421.5" stroke="#1f9fe0" stroke-width="6.4" stroke-linecap="round"/><path d="M772 1421.5L772 1428.5L766.7 1433.8M772 1428.5L777.3 1433.8" stroke="#2fb24a" stroke-width="3" fill="none" stroke-linecap="round" stroke-linejoin="round"/><path d="M758.6 1407.9L752.9 1413.6" stroke="#1f9fe0" stroke-width="6.4" stroke-linecap="round"/><path d="M752.9 1413.6L748 1418.5L740.5 1418.5M748 1418.5L748 1426" stroke="#2fb24a" stroke-width="3" fill="none" stroke-linecap="round" stroke-linejoin="round"/><path d="M753 1394.5L745 1394.5" stroke="#1f9fe0" stroke-width="6.4" stroke-linecap="round"/><path d="M745 1394.5L738 1394.5L732.7 1389.2M738 1394.5L732.7 1399.8" stroke="#2fb24a" stroke-width="3" fill="none" stroke-linecap="round" stroke-linejoin="round"/><path d="M758.6 1381.1L752.9 1375.4" stroke="#1f9fe0" stroke-width="6.4" stroke-linecap="round"/><path d="M752.9 1375.4L748 1370.5L748 1363M748 1370.5L740.5 1370.5" stroke="#2fb24a" stroke-width="3" fill="none" stroke-linecap="round" stroke-linejoin="round"/><circle cx="763" cy="1385.5" r="1.9" fill="#6a3fa0"/><circle cx="773" cy="1386" r="1.9" fill="#6a3fa0"/><circle cx="781" cy="1389.5" r="1.9" fill="#6a3fa0"/><circle cx="762" cy="1395.5" r="1.9" fill="#6a3fa0"/><circle cx="771" cy="1396.5" r="1.9" fill="#6a3fa0"/><circle cx="782" cy="1398.5" r="1.9" fill="#6a3fa0"/><circle cx="764" cy="1404.5" r="1.9" fill="#6a3fa0"/><circle cx="775" cy="1406.5" r="1.9" fill="#6a3fa0"/><text transform="translate(335,1467.5) scale(.5)" font-family="Liberation Sans, sans-serif" font-size="48.8" font-weight="bold" text-anchor="middle" stroke="#000" stroke-width="0.8">i.v.injection</text><text transform="translate(486.9,1467.5) scale(.5)" font-family="Liberation Sans, sans-serif" font-size="48.8" font-weight="bold" text-anchor="middle" stroke="#000" stroke-width="0.8">i.v.injection</text><text transform="translate(640.8,1467.5) scale(.5)" font-family="Liberation Sans, sans-serif" font-size="48.8" font-weight="bold" text-anchor="middle" stroke="#000" stroke-width="0.8">i.v.injection</text><text transform="translate(791.2,1467.5) scale(.5)" font-family="Liberation Sans, sans-serif" font-size="48.8" font-weight="bold" text-anchor="middle" stroke="#000" stroke-width="0.8">i.v.injection</text><rect x="337.7" y="1149.2" width="10" height="3.6" fill="#111" /><rect x="341.2" y="1152.2" width="3" height="10" fill="#111" /><rect x="330.9" y="1161.8" width="23.6" height="4.4" fill="#111" /><path d="M333.7 1166.2V1217.2L342.7 1225.7L351.7 1217.2V1166.2Z" fill="url(#gsyr)" stroke="#111" stroke-width="3.6" stroke-linejoin="miter"/><rect x="340.8" y="1171.3" width="3.8" height="3.8" fill="#111" /><rect x="340.8" y="1180.6" width="3.8" height="3.8" fill="#111" /><rect x="340.8" y="1189.9" width="3.8" height="3.8" fill="#111" /><rect x="340.8" y="1199.1" width="3.8" height="3.8" fill="#111" /><rect x="340.8" y="1209" width="3.8" height="3.8" fill="#111" /><rect x="341.3" y="1225.2" width="2.8" height="7" fill="#111" /><rect x="616.3" y="1147.2" width="10" height="3.6" fill="#111" /><rect x="619.8" y="1150.2" width="3" height="10" fill="#111" /><rect x="609.5" y="1159.8" width="23.6" height="4.4" fill="#111" /><path d="M612.3 1164.2V1215.2L621.3 1223.7L630.3 1215.2V1164.2Z" fill="url(#gsyr)" stroke="#111" stroke-width="3.6" stroke-linejoin="miter"/><rect x="619.4" y="1169.3" width="3.8" height="3.8" fill="#111" /><rect x="619.4" y="1178.6" width="3.8" height="3.8" fill="#111" /><rect x="619.4" y="1187.9" width="3.8" height="3.8" fill="#111" /><rect x="619.4" y="1197.1" width="3.8" height="3.8" fill="#111" /><rect x="619.4" y="1207" width="3.8" height="3.8" fill="#111" /><rect x="619.9" y="1223.2" width="2.8" height="7" fill="#111" /><text transform="translate(358.3,1213.8) scale(.5)" font-family="Liberation Sans, sans-serif" font-size="47.8" font-weight="bold" stroke="#000" stroke-width="0.8">i.p.injection</text><text transform="translate(636.8,1212.5) scale(.5)" font-family="Liberation Sans, sans-serif" font-size="47.8" font-weight="bold" stroke="#000" stroke-width="0.8">i.p.injection</text><path d="M790.4 1067h3.2v5.5h3q2 0 2 2v19l-5.2 5.5h-2.8l-5.2-5.5v-19q0-2 2-2h3z" fill="#2e2e2e"/><path d="M788.8 1076.5h6.4v16l-3.2 3.4l-3.2-3.4z" fill="url(#gsyr2)"/><text transform="translate(815.4,1094.6) scale(.5)" font-family="Liberation Sans, sans-serif" font-size="48" font-weight="bold" stroke="#000" stroke-width="0.8">PBMC</text><path d="M794.5 1115L795.7 1112.2" stroke="#b08d7c" stroke-width="1.9" stroke-linecap="round" opacity="0.85"/><path d="M798 1118.5L800.8 1117.3" stroke="#b08d7c" stroke-width="1.9" stroke-linecap="round" opacity="0.85"/><path d="M798 1123.5L800.8 1124.7" stroke="#b08d7c" stroke-width="1.9" stroke-linecap="round" opacity="0.85"/><path d="M794.5 1127L795.7 1129.8" stroke="#b08d7c" stroke-width="1.9" stroke-linecap="round" opacity="0.85"/><path d="M789.5 1127L788.3 1129.8" stroke="#b08d7c" stroke-width="1.9" stroke-linecap="round" opacity="0.85"/><path d="M786 1123.5L783.2 1124.7" stroke="#b08d7c" stroke-width="1.9" stroke-linecap="round" opacity="0.85"/><path d="M786 1118.5L783.2 1117.3" stroke="#b08d7c" stroke-width="1.9" stroke-linecap="round" opacity="0.85"/><path d="M789.5 1115L788.3 1112.2" stroke="#b08d7c" stroke-width="1.9" stroke-linecap="round" opacity="0.85"/><path d="M792 1114.2L792 1111.3" stroke="#1f9fe0" stroke-width="2.3" stroke-linecap="round"/><path d="M792 1111.3L792 1108.8L793.9 1106.9M792 1108.8L790.1 1106.9" stroke="#2fb24a" stroke-width="1.1" fill="none" stroke-linecap="round" stroke-linejoin="round"/><path d="M796.8 1116.2L798.9 1114.1" stroke="#1f9fe0" stroke-width="2.3" stroke-linecap="round"/><path d="M798.9 1114.1L800.7 1112.3L803.4 1112.3M800.7 1112.3L800.7 1109.6" stroke="#2fb24a" stroke-width="1.1" fill="none" stroke-linecap="round" stroke-linejoin="round"/><path d="M798.8 1121L801.7 1121" stroke="#1f9fe0" stroke-width="2.3" stroke-linecap="round"/><path d="M801.7 1121L804.2 1121L806.1 1122.9M804.2 1121L806.1 1119.1" stroke="#2fb24a" stroke-width="1.1" fill="none" stroke-linecap="round" stroke-linejoin="round"/><path d="M796.8 1125.8L798.9 1127.9" stroke="#1f9fe0" stroke-width="2.3" stroke-linecap="round"/><path d="M798.9 1127.9L800.7 1129.7L800.7 1132.4M800.7 1129.7L803.4 1129.7" stroke="#2fb24a" stroke-width="1.1" fill="none" stroke-linecap="round" stroke-linejoin="round"/><path d="M792 1127.8L792 1130.7" stroke="#1f9fe0" stroke-width="2.3" stroke-linecap="round"/><path d="M792 1130.7L792 1133.2L790.1 1135.1M792 1133.2L793.9 1135.1" stroke="#2fb24a" stroke-width="1.1" fill="none" stroke-linecap="round" stroke-linejoin="round"/><path d="M787.2 1125.8L785.1 1127.9" stroke="#1f9fe0" stroke-width="2.3" stroke-linecap="round"/><path d="M785.1 1127.9L783.3 1129.7L780.6 1129.7M783.3 1129.7L783.3 1132.4" stroke="#2fb24a" stroke-width="1.1" fill="none" stroke-linecap="round" stroke-linejoin="round"/><path d="M785.2 1121L782.3 1121" stroke="#1f9fe0" stroke-width="2.3" stroke-linecap="round"/><path d="M782.3 1121L779.8 1121L777.9 1119.1M779.8 1121L777.9 1122.9" stroke="#2fb24a" stroke-width="1.1" fill="none" stroke-linecap="round" stroke-linejoin="round"/><path d="M787.2 1116.2L785.1 1114.1" stroke="#1f9fe0" stroke-width="2.3" stroke-linecap="round"/><path d="M785.1 1114.1L783.3 1112.3L783.3 1109.6M783.3 1112.3L780.6 1112.3" stroke="#2fb24a" stroke-width="1.1" fill="none" stroke-linecap="round" stroke-linejoin="round"/><circle cx="788.8" cy="1117.8" r="0.7" fill="#6a3fa0"/><circle cx="792.4" cy="1117.9" r="0.7" fill="#6a3fa0"/><circle cx="795.2" cy="1119.2" r="0.7" fill="#6a3fa0"/><circle cx="788.4" cy="1121.4" r="0.7" fill="#6a3fa0"/><circle cx="791.6" cy="1121.7" r="0.7" fill="#6a3fa0"/><circle cx="795.6" cy="1122.4" r="0.7" fill="#6a3fa0"/><circle cx="789.1" cy="1124.6" r="0.7" fill="#6a3fa0"/><circle cx="793.1" cy="1125.3" r="0.7" fill="#6a3fa0"/><text transform="translate(815.4,1128.6) scale(.5)" font-family="Liberation Sans, sans-serif" font-size="49.4" font-weight="bold" stroke="#000" stroke-width="0.8">KM3934-VAs-Dox</text><path d="M780.7 1148.3l.8-.6 1-.5 1.3-.2 1.4-.3 1.5-.2 1.3-.2 1.3-.2 1.4-.3 1.3-.2 1.4-.2 1.3-.2 1.2 0 1.1 0 1 .1 1 .2 .9 .2 .8 .4 .8 .5 .6 .7 .6 .8 .5 .9 .4 1.1 .4 1 .3 1.1 .2 1.2 .2 1.2 .1 1.3 0 1.3-.1 1.2-.2 1.1-.2 .9-.4 .8-.4 .8-.5 .7-.7 .5-.8 .5-1.1 .3-1.2 .1-1.4 .1-1.4 0-1.4 0-1.4 0-1.3 .1-1.4 .1-1.4 .1-1.3 .1-1.3 0-1.1-.1-1.1-.1-1-.2-1-.3-.9-.3-.7-.4-.6-.4-.5-.4-.3-.5-.1-.6-.1-.6 0-.6 .1-.6 .3-.7 .4-.6 .5-.8 .4-.7 .4-.8 .3-.9-.1-1-.4-1.3-.4-1.2-.4-1.2-.1-1.1z" fill="#d6e4ef" stroke="#2458b0" stroke-width="3.1" stroke-linejoin="round"/><ellipse cx="793.6" cy="1155.6" rx="5.3" ry="5.9" fill="#6f9fd8"/><ellipse cx="793.9" cy="1155.8" rx="3.1" ry="3.7" fill="#2458b0"/><text transform="translate(815.4,1163) scale(.5)" font-family="Liberation Sans, sans-serif" font-size="49" font-weight="bold" stroke="#000" stroke-width="0.8">OVCAR-3 cells</text>
<text transform="translate(16.5,61.3) scale(.5)" font-family="DejaVu Sans, sans-serif" font-size="142" stroke="#fff" stroke-width="2.6">a</text>
<text transform="translate(16.6,584.3) scale(.5)" font-family="DejaVu Sans, sans-serif" font-size="142" stroke="#fff" stroke-width="2.6">b</text>
<text transform="translate(614.5,585) scale(.5)" font-family="DejaVu Sans, sans-serif" font-size="142" stroke="#fff" stroke-width="2.6">c</text>
<text transform="translate(1277,584.5) scale(.5)" font-family="DejaVu Sans, sans-serif" font-size="142" stroke="#fff" stroke-width="2.6">d</text>
<text transform="translate(17.5,1077.5) scale(.5)" font-family="DejaVu Sans, sans-serif" font-size="142" stroke="#fff" stroke-width="2.6">e</text>
<text transform="translate(1025.5,1078) scale(.5)" font-family="DejaVu Sans, sans-serif" font-size="142" stroke="#fff" stroke-width="2.6">f</text>
<text transform="translate(1756,1078) scale(.5)" font-family="DejaVu Sans, sans-serif" font-size="142" stroke="#fff" stroke-width="2.6">g</text>
</svg></body></html>
